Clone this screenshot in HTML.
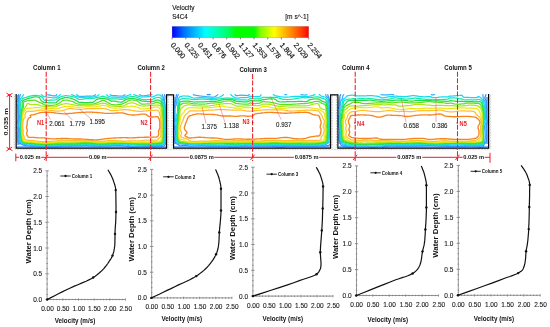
<!DOCTYPE html>
<html lang="en"><head><meta charset="utf-8"><title>Velocity S4C4</title>
<style>html,body{margin:0;padding:0;background:#fff}body{width:550px;height:327px;overflow:hidden}svg{display:block}text{font-family:"Liberation Sans",Arial,sans-serif}</style></head><body>
<svg width="550" height="327" viewBox="0 0 550 327">
<rect width="550" height="327" fill="#fff"/>
<defs><linearGradient id="cb" x1="0" x2="1" y1="0" y2="0">
<stop offset="0" stop-color="#0000ff"/>
<stop offset="0.085" stop-color="#0070ff"/>
<stop offset="0.165" stop-color="#00b8ff"/>
<stop offset="0.245" stop-color="#00ffff"/>
<stop offset="0.335" stop-color="#00ffb0"/>
<stop offset="0.415" stop-color="#00ff60"/>
<stop offset="0.465" stop-color="#00ff00"/>
<stop offset="0.6" stop-color="#00ff00"/>
<stop offset="0.647" stop-color="#80ff00"/>
<stop offset="0.747" stop-color="#ffff00"/>
<stop offset="0.847" stop-color="#ffa000"/>
<stop offset="0.947" stop-color="#ff4000"/>
<stop offset="1" stop-color="#ff0000"/>
</linearGradient>
<pattern id="hat" width="2" height="2" patternUnits="userSpaceOnUse" patternTransform="rotate(45)"><rect width="2" height="2" fill="#fff"/><rect width="0.6" height="2" fill="#aaa"/></pattern>
</defs>
<rect x="172.1" y="26.4" width="136.6" height="11.3" fill="url(#cb)" stroke="#444" stroke-opacity="0.45" stroke-width="0.4"/>
<text transform="translate(172.2,10.1) scale(0.93,1)" font-size="7" fill="#111" stroke="#111" stroke-width="0.12">Velocity</text>
<text transform="translate(172.2,18.5) scale(0.9,1)" font-size="6.9" fill="#111" stroke="#111" stroke-width="0.12">S4C4</text>
<text x="308.5" y="19" font-size="6.6" fill="#111" stroke="#111" stroke-width="0.1" text-anchor="end">[m s^-1]</text>
<line x1="172.1" y1="37.7" x2="172.1" y2="39.3" stroke="#222" stroke-width="0.6"/>
<text transform="translate(170.3,45.2) rotate(50)" font-size="7.3" fill="#111" stroke="#111" stroke-width="0.15">0.000</text>
<line x1="185.8" y1="37.7" x2="185.8" y2="39.3" stroke="#222" stroke-width="0.6"/>
<text transform="translate(184.0,45.2) rotate(50)" font-size="7.3" fill="#111" stroke="#111" stroke-width="0.15">0.225</text>
<line x1="199.4" y1="37.7" x2="199.4" y2="39.3" stroke="#222" stroke-width="0.6"/>
<text transform="translate(197.6,45.2) rotate(50)" font-size="7.3" fill="#111" stroke="#111" stroke-width="0.15">0.451</text>
<line x1="213.1" y1="37.7" x2="213.1" y2="39.3" stroke="#222" stroke-width="0.6"/>
<text transform="translate(211.3,45.2) rotate(50)" font-size="7.3" fill="#111" stroke="#111" stroke-width="0.15">0.676</text>
<line x1="226.7" y1="37.7" x2="226.7" y2="39.3" stroke="#222" stroke-width="0.6"/>
<text transform="translate(224.9,45.2) rotate(50)" font-size="7.3" fill="#111" stroke="#111" stroke-width="0.15">0.902</text>
<line x1="240.4" y1="37.7" x2="240.4" y2="39.3" stroke="#222" stroke-width="0.6"/>
<text transform="translate(238.6,45.2) rotate(50)" font-size="7.3" fill="#111" stroke="#111" stroke-width="0.15">1.127</text>
<line x1="254.1" y1="37.7" x2="254.1" y2="39.3" stroke="#222" stroke-width="0.6"/>
<text transform="translate(252.3,45.2) rotate(50)" font-size="7.3" fill="#111" stroke="#111" stroke-width="0.15">1.353</text>
<line x1="267.7" y1="37.7" x2="267.7" y2="39.3" stroke="#222" stroke-width="0.6"/>
<text transform="translate(265.9,45.2) rotate(50)" font-size="7.3" fill="#111" stroke="#111" stroke-width="0.15">1.578</text>
<line x1="281.4" y1="37.7" x2="281.4" y2="39.3" stroke="#222" stroke-width="0.6"/>
<text transform="translate(279.6,45.2) rotate(50)" font-size="7.3" fill="#111" stroke="#111" stroke-width="0.15">1.804</text>
<line x1="295.0" y1="37.7" x2="295.0" y2="39.3" stroke="#222" stroke-width="0.6"/>
<text transform="translate(293.2,45.2) rotate(50)" font-size="7.3" fill="#111" stroke="#111" stroke-width="0.15">2.029</text>
<line x1="308.7" y1="37.7" x2="308.7" y2="39.3" stroke="#222" stroke-width="0.6"/>
<text transform="translate(306.9,45.2) rotate(50)" font-size="7.3" fill="#111" stroke="#111" stroke-width="0.15">2.254</text>
<g>
<rect x="13.6" y="94" width="2.2" height="55" fill="url(#hat)"/>
<rect x="15" y="148.6" width="474.5" height="1.6" fill="url(#hat)"/>
<rect x="489.2" y="94" width="2" height="55" fill="url(#hat)"/>
<g fill="#52acff" opacity="0.9">
<rect x="17.1" y="95" width="2.6" height="50"/>
<rect x="174.2" y="97" width="1.3" height="47"/>
<rect x="338.6" y="97" width="1.3" height="47"/>
<rect x="485.6" y="97" width="2.4" height="47"/>
</g>
<g fill="#3f9cff" opacity="0.7">
<rect x="17" y="145.9" width="149.2" height="1.6"/>
<rect x="174" y="145.9" width="156.2" height="1.6"/>
<rect x="338.4" y="145.9" width="149.6" height="1.6"/>
</g>
<g fill="none" stroke-linejoin="round" stroke-linecap="round">
<path d="M164.5,94.6 164.8,95.6 164.9,96.1 165.1,97.1 165.0,98.1 164.9,98.6 164.7,99.6 164.7,100.6 164.7,101.6 164.9,102.6 164.9,103.1 165.0,104.1 165.1,105.1 165.2,106.1 165.3,107.1 165.3,108.1 165.3,109.1 165.3,110.1 165.3,111.1 165.3,112.1 165.3,113.1 165.3,114.1 165.3,115.1 165.3,116.1 165.4,117.1 165.4,118.1 165.4,119.1 165.3,120.1 165.3,121.1 165.2,122.1 165.2,123.1 165.2,124.1 165.2,125.1 165.2,126.1 165.3,127.1 165.3,128.1 165.2,129.1 165.2,130.1 165.1,131.1 165.2,132.1 165.3,133.1 165.4,134.1 165.4,134.6 165.5,135.6 165.5,136.6 165.5,137.6 165.6,138.6 165.6,139.6 165.6,140.6 165.6,141.6 165.6,142.6 165.5,143.6 165.4,144.1 164.9,145.1 164.4,145.5 163.9,145.8 163.1,146.1 162.4,146.3 161.4,146.4 160.4,146.4 159.4,146.4 158.4,146.4 157.4,146.4 156.4,146.5 155.4,146.5 154.4,146.5 153.4,146.5 152.4,146.5 151.4,146.5 150.4,146.5 149.4,146.6 148.6,146.6 147.9,146.7 146.9,146.7 145.9,146.7 144.9,146.7 143.9,146.6 143.4,146.6 142.4,146.6 141.4,146.6 140.4,146.6 139.9,146.6 138.9,146.7 137.9,146.8 136.9,146.8 135.9,146.9 134.9,146.9 133.9,146.9 132.9,147.0 131.9,147.0 130.9,146.9 129.9,146.8 128.9,146.7 128.1,146.6 127.4,146.5 126.4,146.3 125.4,146.2 124.8,146.1 123.9,146.0 122.9,145.8 121.9,145.8 120.9,145.7 119.9,145.7 118.9,145.6 117.9,145.6 116.9,145.6 115.9,145.6 114.9,145.6 113.9,145.7 112.9,145.7 111.9,145.8 110.9,145.8 109.9,145.9 108.9,146.0 107.9,146.0 106.9,146.1 105.9,146.1 105.4,146.1 104.4,146.2 103.4,146.2 102.4,146.2 101.4,146.2 100.4,146.3 99.4,146.3 98.4,146.2 97.4,146.2 96.4,146.2 95.4,146.2 94.4,146.1 93.9,146.1 92.9,146.1 91.9,146.0 90.9,145.9 89.9,145.9 88.9,145.8 87.9,145.7 86.9,145.7 85.9,145.7 84.9,145.7 83.9,145.7 82.9,145.7 81.9,145.8 80.9,145.8 79.9,145.8 78.9,145.9 77.9,145.9 76.9,145.9 75.9,145.9 74.9,145.9 73.9,145.9 72.9,145.9 71.9,146.0 70.9,146.0 69.9,146.0 68.9,146.0 67.9,146.0 66.9,146.0 65.9,146.1 64.9,146.1 64.3,146.1 63.4,146.1 62.4,146.2 61.4,146.3 60.4,146.3 59.4,146.4 58.4,146.5 57.4,146.5 56.4,146.5 55.4,146.5 54.4,146.6 53.4,146.5 52.4,146.5 51.4,146.5 50.4,146.5 49.4,146.5 48.4,146.5 47.4,146.5 46.4,146.5 45.4,146.5 44.4,146.5 43.4,146.5 42.4,146.5 41.4,146.5 40.4,146.5 39.4,146.5 38.4,146.5 37.4,146.5 36.4,146.4 35.4,146.4 34.4,146.4 33.4,146.3 32.4,146.3 31.4,146.2 30.4,146.1 29.9,146.1 28.9,146.0 27.9,145.9 26.9,145.8 25.9,145.7 25.4,145.6 24.4,145.4 23.4,145.1 22.9,144.9 22.4,144.6 21.4,144.1 20.9,143.9 20.3,143.6 19.4,143.3 18.9,143.1 18.4,142.6 17.9,141.6 17.8,141.1 17.7,140.1 17.6,139.1 17.6,138.1 17.7,137.1 17.9,136.1 17.9,135.1 17.8,134.1 17.8,133.1 17.9,132.4 18.1,131.6 18.2,130.6 18.1,129.6 17.9,128.9 17.5,128.1 17.3,127.6 16.9,127.1M16.9,101.9 17.2,101.1 17.5,100.6 17.8,99.6 17.9,99.1 18.1,98.1 18.2,97.1 18.3,96.1 18.4,95.6 18.6,94.6M16.9,123.5 17.4,122.6 17.6,122.1 17.8,121.1 18.0,120.6 18.1,119.6 18.2,118.6 18.3,117.6 18.4,116.6 18.3,115.6 18.2,114.6 18.0,113.6 17.9,112.6 17.9,111.6 18.0,110.6 18.0,109.6 17.9,108.9 17.8,108.1 17.7,107.1 17.5,106.1 17.3,105.6 17.0,104.6 16.9,104.0" stroke="#3f8cff" stroke-width="1.25"/>
<path d="M47.7,94.6 48.4,94.8 49.4,95.1 49.9,95.2 50.9,95.4 51.9,95.6 52.4,95.7 53.4,95.8 54.4,95.8 55.4,95.8 55.9,95.6 56.4,95.0 56.7,94.6M76.6,94.6 77.1,95.1 77.7,95.6 78.4,96.0 78.9,96.2 79.9,96.3 80.9,96.3 81.9,96.3 82.9,96.3 83.9,96.3 84.9,96.3 85.9,96.2 86.9,96.2 87.9,96.2 88.9,96.1 89.9,96.1 90.4,96.1 91.4,96.1 92.4,96.0 93.4,95.9 94.0,95.6 94.9,95.1 95.4,94.7 95.5,94.6M110.2,94.6 110.6,95.1 111.4,95.4 112.4,95.5 113.4,95.5 114.4,95.6 114.9,95.6 115.9,95.7 116.9,95.8 117.9,95.9 118.9,96.0 119.7,96.1 120.4,96.2 121.4,96.2 122.4,96.2 122.9,95.9 123.5,95.6 124.4,95.1 124.9,94.7 125.0,94.6M139.5,94.6 140.2,95.1 140.9,95.4 141.4,95.7 142.4,95.8 143.4,95.8 144.4,95.7 145.2,95.6 145.9,95.5 146.9,95.4 147.9,95.2 148.7,95.1 149.4,95.0 150.4,94.8 151.4,94.7 152.0,94.6M162.2,94.6 162.4,95.1 162.8,96.1 163.1,96.6 163.4,97.6 163.4,98.1 163.5,99.1 163.6,100.1 163.9,101.1 164.0,101.6 164.2,102.6 164.4,103.5 164.5,104.1 164.6,105.1 164.8,106.1 164.8,107.1 164.9,108.1 164.9,109.1 164.9,110.1 164.9,111.1 164.9,112.1 164.8,113.1 164.9,114.1 164.9,115.1 164.9,115.8 164.9,116.6 165.0,117.6 165.0,118.6 164.9,119.6 164.9,120.5 164.9,121.1 164.8,122.1 164.8,123.1 164.8,124.1 164.8,125.1 164.8,126.1 164.8,127.1 164.8,128.1 164.8,129.1 164.7,130.1 164.7,131.1 164.7,132.1 164.9,133.1 164.9,133.6 164.9,134.6 164.9,135.6 164.9,136.6 164.9,137.6 164.9,138.6 164.9,139.6 164.9,140.6 164.9,141.5 164.8,142.1 164.5,143.1 164.3,143.6 163.9,144.1 163.4,144.6 162.6,145.1 161.9,145.3 160.9,145.4 159.9,145.5 158.9,145.5 157.9,145.5 156.9,145.5 155.9,145.6 154.9,145.6 153.9,145.6 152.9,145.6 152.3,145.6 151.4,145.6 150.4,145.6 149.4,145.6 148.4,145.7 147.4,145.7 146.4,145.7 145.4,145.7 144.4,145.7 143.4,145.7 142.4,145.8 141.4,145.8 140.4,145.8 139.4,145.8 138.4,145.9 137.4,145.9 136.4,145.9 135.4,146.0 134.4,146.0 133.4,146.0 132.4,146.0 131.4,145.9 130.4,145.8 129.4,145.7 128.9,145.6 127.9,145.4 126.9,145.2 126.4,145.1 125.4,145.0 124.4,144.9 123.4,144.9 122.4,144.8 121.4,144.8 120.4,144.9 119.4,144.9 118.4,144.9 117.4,145.0 116.4,145.0 115.4,145.0 114.4,145.1 113.5,145.1 112.9,145.1 111.9,145.2 110.9,145.3 109.9,145.3 108.9,145.4 107.9,145.4 106.9,145.5 105.9,145.5 104.9,145.6 104.3,145.6 103.4,145.6 102.4,145.6 101.4,145.6 100.4,145.6 99.4,145.6 98.4,145.6 97.4,145.6 96.9,145.6 95.9,145.5 94.9,145.5 93.9,145.4 92.9,145.3 91.9,145.3 90.9,145.2 89.9,145.1 89.2,145.1 88.4,145.1 87.4,145.0 86.4,145.0 85.4,145.0 84.4,145.1 83.7,145.1 82.9,145.1 81.9,145.2 80.9,145.2 79.9,145.3 78.9,145.3 77.9,145.3 76.9,145.4 75.9,145.4 74.9,145.4 73.9,145.4 72.9,145.4 71.9,145.4 70.9,145.4 69.9,145.4 68.9,145.5 67.9,145.5 66.9,145.5 65.9,145.5 64.9,145.6 63.9,145.6 63.4,145.6 62.4,145.6 61.4,145.7 60.4,145.7 59.4,145.8 58.4,145.8 57.4,145.9 56.4,145.9 55.4,145.9 54.4,146.0 53.4,146.0 52.4,146.0 51.4,145.9 50.4,145.9 49.4,145.9 48.4,145.9 47.4,145.9 46.4,146.0 45.4,146.0 44.4,146.0 43.4,146.0 42.4,146.0 41.4,146.0 40.4,146.0 39.4,146.0 38.4,145.9 37.4,145.9 36.4,145.9 35.4,145.8 34.4,145.7 33.4,145.7 32.8,145.6 31.9,145.5 30.9,145.4 29.9,145.2 29.0,145.1 28.4,145.0 27.4,144.9 26.4,144.7 25.9,144.6 24.9,144.4 23.9,144.2 23.4,144.0 22.6,143.6 21.9,143.3 21.4,143.0 20.8,142.6 20.2,142.1 19.6,141.6 19.3,141.1 19.1,140.1 19.1,139.1 19.2,138.1 19.4,137.4 19.6,136.6 19.7,135.6 19.6,134.6 19.6,133.6 19.6,132.6 19.7,131.6 19.7,130.6 19.7,129.6 19.5,128.6 19.3,128.1 18.9,127.4 18.4,126.6 18.1,126.1 17.9,125.1 18.1,124.1 18.4,123.1 18.5,122.6 18.8,121.6 18.9,121.1 19.1,120.1 19.2,119.1 19.3,118.1 19.4,117.1 19.4,116.1 19.2,115.1 19.0,114.1 18.9,113.3 18.8,112.6 18.9,111.6 19.0,111.1 19.1,110.1 19.1,109.1 19.1,108.1 19.0,107.1 18.9,106.6 18.7,105.6 18.5,104.6 18.4,103.9 18.4,103.1 18.4,102.5 18.6,101.6 18.9,100.6 19.0,100.1 19.2,99.1 19.4,98.2 19.6,97.6 19.8,96.6 19.9,96.1 20.3,95.1 20.5,94.6" stroke="#35b0ff" stroke-width="1.25"/>
<path d="M41.2,94.6 41.7,95.1 42.4,95.6 42.9,95.9 43.4,96.2 44.2,96.6 44.9,96.8 45.9,96.9 46.9,97.1 47.4,97.2 48.4,97.3 49.4,97.4 50.4,97.5 51.1,97.6 51.9,97.7 52.9,97.8 53.9,97.8 54.9,97.8 55.9,97.6 56.4,97.4 56.9,97.1 57.8,96.6 58.4,96.2 58.9,95.9 59.4,95.5 59.9,95.1 60.4,94.6M71.6,94.6 72.4,95.0 72.9,95.2 73.9,95.6 74.4,95.7 75.3,96.1 75.9,96.3 76.9,96.6 77.4,96.8 78.4,97.1 78.9,97.2 79.9,97.3 80.9,97.4 81.9,97.3 82.9,97.3 83.9,97.3 84.9,97.2 85.9,97.2 86.9,97.1 87.4,97.1 88.4,97.1 89.4,97.0 90.4,97.0 91.4,97.0 92.4,97.1 93.4,97.0 94.4,96.8 95.3,96.6 95.9,96.4 96.8,96.1 97.4,95.8 97.9,95.5 98.5,95.1 99.0,94.6M106.8,94.6 107.1,95.1 107.6,95.6 108.2,96.1 108.9,96.4 109.4,96.6 110.4,96.9 111.4,97.0 112.4,97.0 113.4,97.0 114.4,97.1 115.0,97.1 115.9,97.2 116.9,97.3 117.9,97.5 118.9,97.6 119.4,97.7 120.4,97.8 121.4,97.8 122.4,97.8 122.9,97.6 123.9,97.2 124.4,96.9 125.2,96.6 125.9,96.3 126.4,96.1 127.4,95.7 127.9,95.5 128.9,95.2 129.4,95.0 130.4,94.7 130.8,94.6M133.7,94.6 134.4,94.8 135.3,95.1 135.9,95.3 136.8,95.6 137.4,95.8 138.3,96.1 138.9,96.3 139.8,96.6 140.4,96.8 141.4,97.0 141.9,97.1 142.4,97.1 143.4,97.0 144.4,96.9 145.4,96.9 146.4,96.8 147.4,96.7 148.4,96.7 149.4,96.7 150.4,96.8 151.4,96.8 152.4,96.8 153.1,96.6 153.9,96.3 154.6,96.1 155.4,95.7 155.9,95.5 156.9,95.1 157.4,94.9 158.4,94.8 159.4,95.0 159.9,95.1 160.7,95.6 161.3,96.1 161.6,96.6 161.9,97.1 162.2,98.1 162.4,99.1 162.5,99.6 162.7,100.6 162.9,101.4 163.2,102.1 163.4,102.8 163.6,103.6 163.9,104.4 164.1,105.1 164.3,106.1 164.4,107.1 164.4,108.1 164.4,108.6 164.4,109.6 164.4,110.6 164.4,111.6 164.4,112.6 164.4,113.1 164.4,114.0 164.4,114.6 164.4,115.6 164.5,116.6 164.5,117.6 164.5,118.6 164.5,119.6 164.4,120.6 164.4,121.1 164.3,122.1 164.3,123.1 164.2,124.1 164.3,125.1 164.3,126.1 164.3,127.1 164.3,128.1 164.2,129.1 164.1,130.1 164.1,131.1 164.2,132.1 164.3,133.1 164.4,134.1 164.3,135.1 164.3,136.1 164.2,137.1 164.2,138.1 164.2,139.1 164.2,140.1 164.2,141.1 164.0,142.1 163.8,142.6 163.4,143.4 162.9,143.9 162.4,144.2 161.4,144.5 160.5,144.6 159.9,144.6 158.9,144.6 157.9,144.7 156.9,144.7 155.9,144.8 154.9,144.8 153.9,144.8 152.9,144.8 151.9,144.8 150.9,144.9 149.9,144.9 148.9,144.9 147.9,145.0 146.9,145.0 145.9,145.0 144.9,145.0 143.9,145.0 142.9,145.0 141.9,145.1 140.9,145.1 139.9,145.1 138.9,145.1 137.9,145.1 136.9,145.1 135.9,145.1 134.9,145.0 133.9,145.0 132.9,144.9 131.9,144.8 130.9,144.7 130.4,144.6 129.4,144.5 128.4,144.4 127.4,144.3 126.4,144.2 125.4,144.1 124.6,144.1 123.9,144.1 122.9,144.1 122.2,144.1 121.4,144.1 120.4,144.2 119.4,144.2 118.4,144.3 117.4,144.3 116.4,144.4 115.4,144.4 114.4,144.5 113.4,144.5 112.4,144.6 111.9,144.6 110.9,144.7 109.9,144.8 108.9,144.8 107.9,144.9 106.9,144.9 105.9,145.0 104.9,145.0 103.9,145.1 102.9,145.1 101.9,145.1 100.9,145.1 99.9,145.1 98.9,145.0 97.9,145.0 96.9,145.0 95.9,144.9 94.9,144.8 93.9,144.7 92.9,144.7 92.2,144.6 91.4,144.5 90.4,144.5 89.4,144.4 88.4,144.4 87.4,144.4 86.4,144.4 85.4,144.4 84.4,144.5 83.4,144.5 82.4,144.6 81.9,144.6 80.9,144.7 79.9,144.7 78.9,144.8 77.9,144.8 76.9,144.9 75.9,144.9 74.9,144.9 73.9,144.9 72.9,144.9 71.9,144.9 70.9,144.9 69.9,144.9 68.9,144.9 67.9,145.0 66.9,145.0 65.9,145.0 64.9,145.0 63.9,145.0 62.9,145.1 62.3,145.1 61.4,145.1 60.4,145.2 59.4,145.2 58.4,145.3 57.4,145.3 56.4,145.3 55.4,145.4 54.4,145.4 53.4,145.4 52.4,145.4 51.4,145.4 50.4,145.4 49.4,145.4 48.4,145.4 47.4,145.4 46.4,145.4 45.4,145.5 44.4,145.5 43.4,145.5 42.4,145.5 41.4,145.5 40.4,145.5 39.4,145.4 38.4,145.4 37.4,145.3 36.4,145.3 35.4,145.2 34.7,145.1 33.9,145.0 32.9,144.8 31.9,144.6 31.4,144.5 30.4,144.3 29.4,144.2 28.9,144.1 27.9,144.0 26.9,143.9 25.9,143.8 24.9,143.7 24.4,143.6 23.4,143.4 22.9,143.1 22.0,142.6 21.4,142.1 21.0,141.6 20.7,141.1 20.5,140.1 20.5,139.1 20.4,138.1 20.5,137.1 20.5,136.1 20.5,135.1 20.4,134.1 20.4,133.1 20.4,132.1 20.5,131.1 20.5,130.1 20.5,129.1 20.4,128.1 20.3,127.6 20.1,126.6 19.9,125.6 19.9,125.1 19.9,124.6 20.1,123.6 20.3,122.6 20.4,122.1 20.5,121.1 20.6,120.1 20.6,119.1 20.6,118.1 20.6,117.1 20.5,116.1 20.4,115.1 20.3,114.6 20.1,113.6 20.0,112.6 20.0,111.6 20.1,110.6 20.1,109.6 20.1,108.6 20.0,107.6 19.9,106.8 19.8,106.1 19.6,105.1 19.4,104.1 19.4,103.6 19.3,102.6 19.4,102.0 19.6,101.1 19.9,100.3 20.2,99.6 20.4,99.0 20.9,98.4 21.4,98.0 21.9,97.5 22.3,96.6 22.6,96.1 22.9,95.5 23.4,94.9 23.7,94.6" stroke="#14dcf0" stroke-width="1.25"/>
<path d="M32.9,95.6 33.9,95.4 34.9,95.3 35.9,95.3 36.9,95.4 37.9,95.5 38.4,95.7 39.4,95.9 40.0,96.1 40.9,96.5 41.4,96.7 42.1,97.1 42.7,97.6 43.0,98.1 43.3,99.1 43.7,99.6 44.2,100.1 44.9,100.3 45.9,100.3 46.9,100.3 47.9,100.3 48.9,100.3 49.9,100.2 50.9,100.2 51.9,100.1 52.4,100.1 53.4,100.0 54.4,100.0 55.4,99.9 56.1,99.6 56.9,99.1 57.4,98.8 57.9,98.5 58.4,98.1 59.2,97.6 59.9,97.3 60.4,97.0 61.4,96.6 61.9,96.5 62.9,96.2 63.4,96.1 64.4,95.9 65.4,95.7 66.4,95.7 67.4,95.8 68.4,95.9 69.4,96.0 69.9,96.1 70.9,96.3 71.9,96.4 72.7,96.6 73.4,96.8 74.4,97.0 74.9,97.2 75.8,97.6 76.4,98.0 76.9,98.3 77.4,98.6 78.3,99.1 78.9,99.4 79.9,99.5 80.9,99.4 81.9,99.4 82.9,99.2 83.4,99.1 84.4,98.9 85.4,98.7 86.0,98.6 86.9,98.5 87.9,98.3 88.9,98.3 89.9,98.2 90.9,98.3 91.9,98.3 92.9,98.4 93.9,98.2 94.4,98.1 95.4,97.9 96.4,97.7 96.9,97.6 97.9,97.4 98.9,97.2 99.5,97.1 100.4,96.8 101.2,96.6 101.9,96.3 102.9,96.1 103.9,96.5 104.4,96.6 105.4,97.0 105.9,97.1 106.9,97.4 107.5,97.6 108.4,97.9 108.9,98.1 109.9,98.5 110.4,98.7 111.4,98.8 112.4,98.8 113.4,98.8 114.4,98.8 115.4,98.9 116.4,98.9 117.4,99.0 118.2,99.1 118.9,99.2 119.9,99.3 120.9,99.3 121.9,99.4 122.9,99.2 123.4,99.0 124.3,98.6 124.9,98.4 125.5,98.1 126.4,97.7 126.9,97.5 127.9,97.2 128.4,97.1 129.4,96.8 130.4,96.7 130.9,96.6 131.9,96.5 132.9,96.5 133.8,96.6 134.4,96.7 135.4,97.0 135.9,97.1 136.9,97.4 137.4,97.6 138.4,98.0 138.9,98.2 139.8,98.6 140.4,98.8 141.0,99.1 141.9,99.4 142.9,99.5 143.9,99.5 144.9,99.6 145.8,99.6 146.4,99.6 147.4,99.7 148.4,99.7 149.4,99.7 150.4,99.7 151.4,99.7 152.2,99.6 152.9,99.2 153.4,98.9 154.1,98.6 154.9,98.2 155.4,98.0 156.4,97.7 156.9,97.6 157.9,97.4 158.9,97.5 159.6,97.6 160.4,98.0 160.9,98.6 161.2,99.1 161.4,99.6 161.8,100.6 161.9,101.1 162.2,102.1 162.4,102.6 162.7,103.6 162.9,104.2 163.3,105.1 163.4,105.6 163.7,106.6 163.8,107.6 163.8,108.6 163.8,109.6 163.9,110.6 163.9,111.6 163.8,112.6 163.8,113.6 163.8,114.6 163.9,115.6 163.9,116.1 164.0,117.1 164.0,118.1 164.0,119.1 163.9,120.1 163.9,120.6 163.8,121.6 163.7,122.6 163.7,123.6 163.7,124.6 163.7,125.6 163.7,126.6 163.7,127.6 163.7,128.6 163.6,129.6 163.5,130.6 163.5,131.6 163.6,132.6 163.7,133.6 163.7,134.6 163.6,135.6 163.6,136.6 163.6,137.6 163.5,138.6 163.5,139.6 163.5,140.6 163.4,141.6 163.2,142.1 162.9,142.8 162.4,143.3 161.9,143.7 160.9,143.9 159.9,143.9 158.9,144.0 157.9,144.1 157.2,144.1 156.4,144.1 155.4,144.1 154.4,144.2 153.4,144.2 152.4,144.2 151.4,144.2 150.4,144.3 149.4,144.3 148.4,144.3 147.4,144.4 146.4,144.4 145.4,144.4 144.4,144.4 143.4,144.4 142.4,144.4 141.4,144.4 140.4,144.4 139.4,144.4 138.4,144.4 137.4,144.3 136.4,144.3 135.4,144.3 134.4,144.2 133.4,144.2 132.7,144.1 131.9,144.0 130.9,144.0 129.9,143.9 128.9,143.8 127.9,143.8 126.9,143.7 125.9,143.7 124.9,143.6 123.9,143.6 123.4,143.6 122.7,143.6 121.9,143.6 120.9,143.6 119.9,143.7 118.9,143.7 117.9,143.8 116.9,143.8 115.9,143.8 114.9,143.9 113.9,143.9 112.9,144.0 111.9,144.1 111.4,144.1 110.4,144.2 109.4,144.2 108.4,144.3 107.4,144.4 106.4,144.4 105.4,144.5 104.4,144.5 103.4,144.5 102.4,144.5 101.4,144.5 100.4,144.5 99.4,144.5 98.4,144.5 97.4,144.4 96.4,144.3 95.4,144.3 94.4,144.2 93.5,144.1 92.9,144.0 91.9,144.0 90.9,143.9 89.9,143.8 88.9,143.8 87.9,143.8 86.9,143.8 85.9,143.8 84.9,143.8 83.9,143.9 82.9,144.0 81.9,144.0 81.2,144.1 80.4,144.2 79.4,144.2 78.4,144.3 77.4,144.3 76.4,144.3 75.4,144.4 74.4,144.4 73.4,144.4 72.4,144.4 71.4,144.4 70.4,144.4 69.4,144.4 68.4,144.4 67.4,144.4 66.4,144.4 65.4,144.5 64.4,144.5 63.4,144.5 62.4,144.5 61.4,144.6 60.5,144.6 59.9,144.6 58.9,144.7 57.9,144.7 56.9,144.7 55.9,144.8 54.9,144.8 53.9,144.8 52.9,144.8 51.9,144.9 50.9,144.9 49.9,144.9 48.9,144.9 47.9,144.9 46.9,144.9 45.9,144.9 44.9,144.9 43.9,145.0 42.9,145.0 41.9,145.0 40.9,144.9 39.9,144.9 38.9,144.9 37.9,144.8 36.9,144.7 36.2,144.6 35.4,144.5 34.4,144.3 33.4,144.1 32.9,144.0 31.9,143.8 30.9,143.7 30.2,143.6 29.4,143.5 28.4,143.5 27.4,143.4 26.4,143.3 25.4,143.2 24.4,143.1 23.9,143.0 22.9,142.6 22.4,142.2 21.9,141.8 21.5,141.1 21.3,140.6 21.1,139.6 21.0,138.6 21.0,137.6 21.0,136.6 21.0,135.6 20.9,134.6 20.9,134.1 20.9,133.1 20.9,132.1 20.9,131.6 20.9,130.6 21.0,129.6 20.9,128.6 20.9,127.7 20.9,127.1 20.8,126.1 20.8,125.1 20.9,124.1 20.9,123.6 21.0,122.6 21.1,121.6 21.1,120.6 21.2,119.6 21.2,118.6 21.2,117.6 21.2,116.6 21.1,115.6 21.0,114.6 20.9,113.8 20.8,113.1 20.7,112.1 20.8,111.1 20.9,110.1 20.9,109.6 21.0,108.6 20.9,107.6 20.9,107.1 20.7,106.1 20.5,105.1 20.4,104.6 20.2,103.6 20.2,102.6 20.4,101.7 20.9,101.1 21.4,100.8 21.9,100.3 22.3,99.6 22.5,99.1 22.9,98.5 23.5,98.1 24.4,97.8 25.4,97.6 25.9,97.5 26.9,97.1 27.4,96.8 28.3,96.6 28.9,96.4 29.9,96.2 30.5,96.1 31.4,95.9 32.4,95.7Z" stroke="#18e8a8" stroke-width="1.25"/>
<path d="M33.3,97.1 33.9,97.0 34.9,96.8 35.9,96.8 36.9,96.8 37.9,97.0 38.4,97.1 39.4,97.6 39.8,98.1 40.0,98.6 40.4,99.5 40.8,100.1 41.2,100.6 41.7,101.1 42.4,101.6 42.9,101.9 43.4,102.2 44.4,102.6 44.9,102.6 45.9,102.6 46.9,102.7 47.9,102.7 48.9,102.8 49.9,102.8 50.9,102.8 51.9,102.8 52.9,102.8 53.9,102.8 54.9,102.8 55.9,102.7 56.4,102.3 56.9,101.7 57.4,101.2 57.9,100.7 58.4,100.3 58.9,99.9 59.4,99.6 60.4,99.1 60.9,98.8 61.5,98.6 62.4,98.3 62.9,98.1 63.9,97.9 64.9,97.7 65.9,97.6 66.6,97.6 66.9,97.6 67.9,97.7 68.9,97.8 69.9,98.0 70.4,98.1 71.4,98.4 71.9,98.6 72.9,99.0 73.4,99.2 74.3,99.6 74.9,99.9 75.4,100.1 76.2,100.6 76.9,101.0 77.4,101.3 77.9,101.6 78.7,102.1 79.4,102.3 80.4,102.3 81.4,102.4 82.4,102.4 83.4,102.4 84.4,102.5 85.4,102.5 86.4,102.5 87.4,102.5 88.4,102.5 89.4,102.4 90.4,102.4 91.4,102.4 92.4,102.4 93.4,102.2 93.9,101.8 94.4,101.4 94.9,100.9 95.4,100.4 95.9,100.0 96.4,99.6 97.4,99.2 97.9,99.1 98.9,98.9 99.9,98.7 100.4,98.6 101.4,98.5 102.4,98.3 103.4,98.4 104.4,98.5 104.9,98.6 105.9,98.8 106.9,99.1 107.4,99.2 108.4,99.6 108.9,99.8 109.5,100.1 110.2,100.6 110.9,101.1 111.4,101.1 111.9,101.1 112.9,101.0 113.9,101.0 114.9,101.1 115.4,101.2 116.4,101.4 117.1,101.6 117.9,101.8 118.9,101.9 119.9,102.0 120.9,102.1 121.4,102.1 121.9,102.1 122.9,101.6 123.4,101.2 123.9,100.8 124.4,100.4 124.9,100.1 125.8,99.6 126.4,99.4 127.3,99.1 127.9,98.9 128.9,98.7 129.5,98.6 130.4,98.5 131.4,98.4 132.4,98.5 133.4,98.6 133.9,98.6 134.9,98.8 135.9,99.0 136.4,99.1 137.4,99.4 138.2,99.6 138.9,99.8 139.8,100.1 140.4,100.3 141.0,100.6 141.9,101.0 142.4,101.1 143.4,101.2 144.4,101.3 145.4,101.4 146.4,101.4 147.4,101.5 148.4,101.5 149.4,101.6 149.9,101.6 150.9,101.7 151.9,101.7 152.6,101.6 153.4,101.3 154.1,101.1 154.9,100.8 155.4,100.6 156.4,100.2 156.9,100.1 157.9,100.0 158.4,100.1 159.4,100.4 159.9,100.7 160.5,101.1 160.9,101.6 161.4,102.4 161.7,103.1 161.9,103.8 162.1,104.6 162.4,105.3 162.7,106.1 162.9,107.1 162.9,107.6 163.0,108.6 163.0,109.6 163.1,110.6 163.1,111.6 163.1,112.6 163.1,113.6 163.2,114.6 163.2,115.6 163.3,116.6 163.4,117.6 163.4,118.1 163.4,119.1 163.4,119.6 163.3,120.6 163.2,121.6 163.2,122.6 163.2,123.6 163.2,124.6 163.2,125.6 163.2,126.6 163.2,127.6 163.2,128.6 163.1,129.6 163.0,130.6 163.0,131.6 163.1,132.6 163.1,133.6 163.1,134.6 163.1,135.6 163.0,136.6 163.0,137.6 163.0,138.6 163.0,139.6 163.0,140.6 162.9,141.1 162.5,142.1 162.2,142.6 161.5,143.1 160.9,143.2 159.9,143.3 158.9,143.4 157.9,143.5 156.9,143.5 155.9,143.6 154.9,143.6 154.4,143.6 153.4,143.6 152.4,143.7 151.4,143.7 150.4,143.7 149.4,143.8 148.4,143.8 147.4,143.8 146.4,143.8 145.4,143.8 144.4,143.8 143.4,143.8 142.4,143.8 141.4,143.8 140.4,143.8 139.4,143.8 138.4,143.8 137.4,143.8 136.4,143.7 135.4,143.7 134.4,143.7 133.4,143.6 132.8,143.6 131.9,143.6 130.9,143.5 129.9,143.4 128.9,143.4 127.9,143.3 126.9,143.3 125.9,143.2 124.9,143.2 123.9,143.2 122.9,143.2 121.9,143.2 120.9,143.2 119.9,143.2 118.9,143.2 117.9,143.2 116.9,143.2 115.9,143.3 114.9,143.3 113.9,143.3 112.9,143.4 111.9,143.4 110.9,143.5 109.9,143.6 109.3,143.6 108.4,143.7 107.4,143.7 106.4,143.8 105.4,143.9 104.4,143.9 103.4,143.9 102.4,143.9 101.4,143.9 100.4,143.9 99.4,143.9 98.4,143.9 97.4,143.8 96.4,143.8 95.4,143.7 94.5,143.6 93.9,143.5 92.9,143.5 91.9,143.4 90.9,143.3 89.9,143.2 88.9,143.2 87.9,143.2 86.9,143.2 85.9,143.2 84.9,143.2 83.9,143.3 82.9,143.3 81.9,143.4 80.9,143.5 79.9,143.6 79.4,143.6 78.4,143.7 77.4,143.7 76.4,143.7 75.4,143.8 74.4,143.8 73.4,143.8 72.4,143.8 71.4,143.8 70.4,143.8 69.4,143.8 68.4,143.8 67.4,143.8 66.4,143.8 65.4,143.8 64.4,143.8 63.4,143.8 62.4,143.9 61.4,143.9 60.4,143.9 59.4,144.0 58.4,144.0 57.4,144.1 56.9,144.1 55.9,144.1 54.9,144.2 53.9,144.2 52.9,144.2 51.9,144.3 50.9,144.3 49.9,144.3 48.9,144.3 47.9,144.4 46.9,144.4 45.9,144.4 44.9,144.4 43.9,144.4 42.9,144.4 41.9,144.4 40.9,144.4 39.9,144.3 38.9,144.2 37.9,144.1 37.4,144.1 36.4,143.9 35.4,143.8 34.4,143.6 33.9,143.5 32.9,143.4 31.9,143.3 30.9,143.1 30.4,143.1 29.4,143.0 28.4,143.0 27.4,142.9 26.4,142.8 25.4,142.7 24.4,142.6 23.9,142.5 23.0,142.1 22.5,141.6 22.1,141.1 21.9,140.6 21.6,139.6 21.5,138.6 21.4,137.6 21.4,137.1 21.4,136.1 21.3,135.1 21.3,134.1 21.2,133.1 21.2,132.1 21.3,131.1 21.3,130.1 21.3,129.1 21.3,128.1 21.2,127.1 21.2,126.1 21.2,125.1 21.3,124.1 21.3,123.1 21.4,122.5 21.5,121.6 21.5,120.6 21.5,119.6 21.6,118.6 21.6,117.6 21.6,116.6 21.6,115.6 21.5,114.6 21.4,113.6 21.4,112.9 21.4,112.1 21.4,111.6 21.6,110.6 21.8,109.6 21.9,109.1 22.1,108.1 22.3,107.1 22.3,106.1 22.2,105.1 22.1,104.1 22.0,103.1 22.2,102.1 22.4,101.6 22.9,100.9 23.4,100.4 23.9,100.1 24.9,99.7 25.5,99.6 26.4,99.2 26.9,98.9 27.4,98.6 28.4,98.4 29.4,98.2 29.9,98.1 30.9,97.8 31.5,97.6 32.4,97.3Z" stroke="#22dc4a" stroke-width="1.25"/>
<path d="M34.4,100.1 34.4,100.1 35.4,100.3 36.0,100.6 36.9,101.1 37.4,101.3 37.9,101.6 38.9,102.1 39.4,102.3 40.1,102.6 40.9,102.9 41.4,103.1 42.4,103.6 42.9,103.9 43.4,104.2 43.9,104.6 44.9,105.0 45.9,105.1 46.4,105.1 47.4,105.2 48.4,105.3 49.4,105.3 50.4,105.3 51.4,105.3 52.4,105.3 53.4,105.2 54.2,105.1 54.9,105.0 55.9,104.8 56.5,104.6 57.4,104.1 57.9,103.9 58.5,103.6 59.4,103.1 59.9,102.8 60.4,102.4 60.9,101.9 61.4,101.5 61.9,101.0 62.7,100.6 63.4,100.4 64.4,100.1 64.9,100.0 65.9,100.0 66.6,100.1 67.4,100.2 68.4,100.5 68.9,100.6 69.9,100.9 70.9,101.1 71.4,101.2 72.4,101.5 72.9,101.7 73.9,102.1 74.4,102.4 74.9,102.7 75.6,103.1 76.4,103.5 76.9,103.7 77.9,104.0 78.4,104.2 79.4,104.2 80.4,104.2 81.4,104.1 82.4,104.1 82.9,104.1 83.9,104.1 84.9,104.1 85.9,104.1 86.9,104.1 87.9,104.1 88.9,104.1 89.9,104.1 90.9,104.1 91.9,104.1 92.9,104.1 93.9,103.9 94.9,103.6 95.4,103.5 96.4,103.1 96.9,102.9 97.6,102.6 98.4,102.2 98.9,102.0 99.9,101.6 100.4,101.3 100.9,101.1 101.8,100.6 102.4,100.3 103.4,100.3 104.3,100.6 104.9,100.9 105.4,101.1 106.2,101.6 106.9,102.0 107.4,102.3 107.9,102.6 108.8,103.1 109.4,103.4 109.9,103.7 110.6,104.1 111.4,104.4 112.4,104.6 112.9,104.6 113.9,104.7 114.9,104.8 115.9,104.8 116.9,104.8 117.9,104.7 118.9,104.6 119.4,104.5 120.4,104.4 121.4,104.2 121.9,104.1 122.9,103.7 123.4,103.4 124.0,103.1 124.9,102.7 125.4,102.5 126.1,102.1 126.9,101.7 127.4,101.3 127.9,101.0 128.7,100.6 129.4,100.3 130.3,100.1 130.9,100.0 131.9,99.9 132.9,100.0 133.9,100.0 134.4,100.1 135.4,100.3 136.4,100.6 136.9,100.8 137.7,101.1 138.4,101.6 138.9,102.1 139.4,102.6 139.9,103.1 140.4,103.5 140.9,103.8 141.6,104.1 142.4,104.2 143.4,104.2 144.4,104.1 144.9,104.1 145.9,104.0 146.9,103.9 147.9,103.8 148.9,103.8 149.9,103.8 150.9,103.9 151.9,103.9 152.9,103.6 153.4,103.4 154.1,103.1 154.9,102.8 155.6,102.6 156.4,102.4 157.4,102.3 158.4,102.6 158.9,102.8 159.7,103.1 160.4,103.6 160.8,104.1 161.1,104.6 161.4,105.1 161.8,106.1 161.9,106.6 162.0,107.6 162.1,108.6 162.1,109.6 162.2,110.6 162.3,111.6 162.3,112.6 162.3,113.6 162.4,114.6 162.4,115.1 162.6,116.1 162.7,117.1 162.8,118.1 162.8,119.1 162.8,120.1 162.7,121.1 162.7,122.1 162.7,123.1 162.6,124.1 162.7,125.1 162.7,126.1 162.7,127.1 162.7,128.1 162.7,129.1 162.6,130.1 162.5,131.1 162.6,132.1 162.6,133.1 162.7,134.1 162.6,135.1 162.6,136.1 162.5,137.1 162.5,138.1 162.5,139.1 162.4,140.1 162.4,140.7 162.1,141.6 161.7,142.1 160.9,142.5 160.4,142.6 159.4,142.7 158.4,142.8 157.4,142.9 156.4,143.0 155.4,143.0 154.4,143.0 153.4,143.1 152.6,143.1 151.9,143.1 150.9,143.2 149.9,143.2 148.9,143.2 147.9,143.2 146.9,143.2 145.9,143.3 144.9,143.3 143.9,143.3 142.9,143.3 141.9,143.3 140.9,143.3 139.9,143.3 138.9,143.3 137.9,143.2 136.9,143.2 135.9,143.2 134.9,143.2 133.9,143.2 132.9,143.1 131.9,143.1 131.4,143.1 130.4,143.0 129.4,143.0 128.4,142.9 127.4,142.9 126.4,142.8 125.4,142.8 124.4,142.7 123.4,142.7 122.4,142.7 121.4,142.7 120.4,142.7 119.4,142.7 118.4,142.7 117.4,142.7 116.4,142.7 115.4,142.7 114.4,142.7 113.4,142.7 112.4,142.8 111.4,142.8 110.4,142.9 109.4,142.9 108.4,143.0 107.4,143.0 106.6,143.1 105.9,143.1 104.9,143.2 103.9,143.3 102.9,143.3 101.9,143.3 100.9,143.3 99.9,143.3 98.9,143.3 97.9,143.2 96.9,143.2 96.0,143.1 95.4,143.1 94.4,143.0 93.4,142.9 92.4,142.8 91.4,142.7 90.5,142.6 89.9,142.6 88.9,142.5 87.9,142.5 86.9,142.4 85.9,142.4 84.9,142.4 83.9,142.5 82.9,142.5 81.9,142.6 81.4,142.6 80.4,142.7 79.4,142.8 78.4,142.8 77.4,142.9 76.4,142.9 75.4,142.9 74.4,143.0 73.4,143.0 72.4,143.0 71.4,143.0 70.4,143.0 69.4,143.0 68.4,143.0 67.4,143.0 66.4,143.0 65.4,143.0 64.4,143.0 63.4,143.0 62.4,143.1 61.5,143.1 60.9,143.1 59.9,143.2 58.9,143.2 57.9,143.3 56.9,143.4 55.9,143.4 54.9,143.5 53.9,143.5 52.9,143.6 52.2,143.6 51.4,143.6 50.4,143.7 49.4,143.7 48.4,143.7 47.4,143.7 46.4,143.8 45.4,143.8 44.4,143.8 43.4,143.8 42.4,143.8 41.4,143.7 40.4,143.7 39.4,143.6 38.9,143.6 37.9,143.5 36.9,143.4 35.9,143.2 34.9,143.1 34.4,143.0 33.4,142.9 32.4,142.8 31.4,142.7 30.4,142.6 29.9,142.6 28.9,142.5 27.9,142.5 26.9,142.4 25.9,142.3 24.9,142.2 24.1,142.1 23.4,141.8 22.9,141.4 22.5,140.6 22.3,140.1 22.0,139.1 21.9,138.5 21.8,137.6 21.8,136.6 21.7,135.6 21.6,134.6 21.6,133.6 21.6,132.6 21.6,131.6 21.6,130.6 21.6,129.6 21.6,128.6 21.6,127.6 21.5,126.6 21.5,125.6 21.6,124.6 21.6,123.6 21.7,122.6 21.8,121.6 21.8,120.6 21.9,119.6 21.9,119.1 22.0,118.1 22.0,117.1 22.0,116.1 22.0,115.1 21.9,114.1 21.9,113.1 22.0,112.1 22.2,111.1 22.4,110.6 22.8,109.6 23.0,109.1 23.3,108.1 23.4,107.6 23.5,106.6 23.5,105.6 23.4,104.9 23.4,104.1 23.3,103.1 23.4,102.6 23.9,101.9 24.4,101.6 25.4,101.4 26.4,101.1 26.9,100.9 27.9,100.7 28.9,100.6 29.4,100.6 30.4,100.5 31.4,100.4 32.4,100.3 33.4,100.2Z" stroke="#5ce01e" stroke-width="1.25"/>
<path d="M129.9,103.1 130.4,103.0 131.4,102.9 132.4,102.9 133.4,103.0 133.9,103.1 134.9,103.5 135.4,103.7 136.4,104.1 136.9,104.3 137.4,104.6 138.4,105.0 138.9,105.2 139.9,105.6 140.4,105.7 141.4,105.9 142.4,106.0 143.4,106.0 144.4,106.0 145.4,105.9 146.4,105.9 147.4,105.8 148.4,105.7 149.4,105.7 150.4,105.7 151.4,105.7 152.4,105.6 152.9,105.6 153.9,105.4 154.9,105.2 155.7,105.1 156.4,105.0 157.4,104.9 158.0,105.1 158.9,105.4 159.8,105.6 160.4,105.9 160.9,106.6 161.0,107.1 161.2,108.1 161.3,109.1 161.4,110.1 161.5,110.6 161.5,111.6 161.6,112.6 161.6,113.6 161.7,114.6 161.8,115.6 161.9,116.4 162.0,117.1 162.1,118.1 162.2,119.1 162.2,120.1 162.2,121.1 162.2,122.1 162.1,123.1 162.2,124.1 162.2,125.1 162.2,126.1 162.2,127.1 162.2,128.1 162.2,129.1 162.1,130.1 162.1,131.1 162.1,132.1 162.2,133.1 162.2,134.1 162.2,135.1 162.1,136.1 162.0,137.1 162.0,138.1 161.9,139.1 161.9,139.6 161.8,140.6 161.4,141.3 160.9,141.7 159.9,141.8 158.9,141.9 158.3,142.1 157.4,142.3 156.4,142.3 155.4,142.4 154.4,142.4 153.4,142.4 152.4,142.5 151.4,142.5 150.4,142.5 149.4,142.6 148.4,142.6 147.7,142.6 146.9,142.6 145.9,142.6 144.9,142.6 143.9,142.6 142.9,142.6 141.9,142.7 140.9,142.7 139.9,142.7 138.9,142.7 137.9,142.7 136.9,142.7 135.9,142.7 134.9,142.7 133.9,142.7 132.9,142.6 131.9,142.6 131.4,142.6 130.4,142.5 129.4,142.5 128.4,142.4 127.4,142.4 126.4,142.3 125.4,142.3 124.4,142.3 123.4,142.2 122.4,142.2 121.4,142.2 120.4,142.2 119.4,142.1 118.4,142.1 117.4,142.1 116.4,142.1 115.4,142.1 114.4,142.1 113.4,142.1 112.4,142.1 111.4,142.2 110.4,142.2 109.4,142.3 108.4,142.3 107.4,142.4 106.4,142.5 105.4,142.5 104.4,142.6 103.9,142.6 102.9,142.6 101.9,142.7 100.9,142.7 99.9,142.7 98.9,142.6 98.3,142.6 97.4,142.5 96.4,142.5 95.4,142.4 94.4,142.3 93.4,142.2 92.9,142.1 91.9,142.0 90.9,141.9 89.9,141.8 88.9,141.8 87.9,141.7 86.9,141.7 85.9,141.7 84.9,141.7 83.9,141.7 82.9,141.7 81.9,141.8 80.9,141.8 79.9,141.8 78.9,141.9 77.9,141.9 76.9,142.0 75.9,142.0 74.9,142.1 73.9,142.1 72.9,142.1 71.9,142.1 70.9,142.1 69.9,142.1 68.9,142.1 67.9,142.1 66.9,142.1 65.9,142.1 64.9,142.1 64.2,142.1 63.4,142.1 62.4,142.2 61.4,142.2 60.4,142.3 59.4,142.4 58.4,142.5 57.4,142.6 56.7,142.6 55.9,142.7 54.9,142.7 53.9,142.8 52.9,142.8 51.9,142.9 50.9,143.0 49.9,143.0 48.9,143.0 47.9,143.1 46.9,143.1 46.4,143.1 45.4,143.1 44.4,143.1 43.4,143.1 42.4,143.1 41.4,143.1 40.9,143.1 39.9,143.0 38.9,143.0 37.9,142.9 36.9,142.8 35.9,142.7 35.2,142.6 34.4,142.5 33.4,142.4 32.4,142.3 31.4,142.2 30.4,142.1 29.4,142.1 28.9,142.1 27.9,142.1 26.9,142.0 25.9,141.8 24.9,141.7 24.2,141.6 23.4,141.1 23.1,140.6 22.8,140.1 22.5,139.1 22.4,138.6 22.3,137.6 22.2,136.6 22.1,135.6 22.0,134.6 21.9,133.6 21.9,132.6 21.9,131.6 22.0,130.6 22.0,129.6 21.9,128.6 21.9,128.1 21.9,127.1 21.8,126.1 21.9,125.1 21.9,124.2 21.9,123.6 22.0,122.6 22.1,121.6 22.1,120.6 22.2,119.6 22.3,118.6 22.3,117.6 22.4,116.6 22.4,115.6 22.4,114.6 22.4,114.1 22.5,113.1 22.7,112.1 22.9,111.5 23.4,110.8 23.8,110.1 24.1,109.6 24.4,109.0 24.8,108.1 25.1,107.6 25.4,107.0 25.9,106.3 26.3,105.6 26.6,105.1 26.9,104.3 27.3,103.6 27.9,103.5 28.4,103.7 29.4,104.1 29.9,104.3 30.9,104.5 31.6,104.6 32.0,104.6 32.9,104.5 33.9,104.4 34.9,104.3 35.9,104.4 36.9,104.5 37.4,104.6 38.4,104.9 39.0,105.1 39.9,105.4 40.5,105.6 41.4,105.9 42.3,106.1 42.9,106.2 43.9,106.5 44.9,106.6 45.9,106.6 46.4,106.6 47.4,106.6 48.4,106.7 49.4,106.7 50.4,106.8 51.4,106.8 52.4,106.8 53.4,106.8 54.4,106.8 55.4,106.7 55.9,106.6 56.9,106.2 57.4,106.0 58.2,105.6 58.9,105.3 59.5,105.1 60.4,104.8 61.0,104.6 61.9,104.4 62.9,104.1 63.4,104.0 64.4,103.9 65.4,103.7 66.4,103.7 67.4,103.8 68.4,103.9 69.4,104.0 69.9,104.1 70.9,104.3 71.9,104.6 72.4,104.7 73.4,104.9 74.4,105.1 74.9,105.1 75.9,105.3 76.9,105.4 77.9,105.5 78.9,105.5 79.9,105.4 80.9,105.3 81.9,105.3 82.9,105.2 83.9,105.1 84.4,105.1 85.4,105.1 86.4,105.1 87.4,105.1 88.4,105.1 89.4,105.1 89.9,105.1 90.9,105.1 91.9,105.1 92.9,105.2 93.4,105.1 94.4,105.0 95.4,104.8 96.4,104.6 96.9,104.5 97.9,104.3 98.8,104.1 99.4,104.0 100.4,103.7 100.9,103.6 101.9,103.3 102.9,103.2 103.9,103.3 104.9,103.5 105.4,103.6 106.4,103.9 106.9,104.1 107.8,104.6 108.4,104.9 108.9,105.2 109.8,105.6 110.4,105.8 111.4,106.0 112.4,106.1 112.9,106.1 113.9,106.2 114.9,106.3 115.9,106.3 116.9,106.3 117.9,106.3 118.9,106.3 119.9,106.3 120.9,106.3 121.9,106.3 122.8,106.1 123.4,105.9 124.4,105.6 124.9,105.3 125.4,105.0 126.0,104.6 126.8,104.1 127.4,103.8 128.0,103.6 128.9,103.3Z" stroke="#aee814" stroke-width="1.25"/>
<path d="M101.2,105.6 101.9,105.4 102.9,105.3 103.9,105.4 104.8,105.6 105.4,105.7 106.4,106.0 106.9,106.2 107.9,106.5 108.4,106.7 109.4,107.1 109.9,107.3 110.6,107.6 111.4,107.8 112.4,107.9 113.4,108.0 114.4,108.0 115.4,108.0 116.4,108.0 117.4,108.0 118.4,107.9 119.4,107.9 120.4,107.8 121.4,107.8 122.4,107.7 122.9,107.6 123.9,107.4 124.9,107.2 125.4,107.1 126.4,106.9 127.4,106.7 128.1,106.6 128.9,106.5 129.9,106.3 130.9,106.2 131.9,106.2 132.9,106.3 133.9,106.4 134.9,106.6 135.4,106.7 136.4,107.0 136.9,107.2 137.9,107.5 138.4,107.7 139.4,108.1 139.9,108.3 140.6,108.6 141.4,108.8 142.4,109.0 143.4,108.9 144.4,108.9 145.4,108.8 146.4,108.7 147.2,108.6 147.9,108.5 148.9,108.3 149.9,108.2 150.4,108.1 151.4,107.9 152.4,107.7 152.9,107.6 153.9,107.4 154.9,107.1 155.4,107.1 156.4,106.9 157.4,106.9 157.9,107.1 158.6,107.6 159.2,108.1 159.6,108.6 159.9,109.1 160.4,110.1 160.5,110.6 160.8,111.6 160.9,112.6 160.9,113.5 160.9,114.1 161.0,115.1 161.2,116.1 161.4,117.1 161.4,117.6 161.5,118.6 161.6,119.6 161.6,120.6 161.6,121.6 161.6,122.6 161.7,123.6 161.7,124.6 161.7,125.6 161.7,126.6 161.8,127.6 161.7,128.6 161.6,129.6 161.6,130.6 161.5,131.6 161.6,132.6 161.7,133.6 161.7,134.6 161.6,135.6 161.5,136.6 161.4,137.6 161.4,138.1 161.2,139.1 160.9,140.1 160.5,140.6 159.9,140.8 158.9,141.0 158.4,141.2 157.4,141.5 156.4,141.6 155.9,141.6 154.9,141.7 153.9,141.7 152.9,141.7 151.9,141.8 150.9,141.8 149.9,141.8 148.9,141.8 147.9,141.8 146.9,141.8 145.9,141.8 144.9,141.8 143.9,141.9 142.9,141.9 141.9,141.9 140.9,141.9 139.9,142.0 138.9,142.0 137.9,142.0 136.9,142.0 135.9,142.0 134.9,142.0 133.9,142.0 132.9,142.0 131.9,142.0 130.9,141.9 129.9,141.9 128.9,141.9 127.9,141.8 126.9,141.8 125.9,141.8 124.9,141.7 123.9,141.7 122.9,141.7 121.9,141.6 120.9,141.6 120.4,141.6 119.4,141.6 118.4,141.5 117.4,141.5 116.4,141.5 115.4,141.5 114.4,141.5 113.4,141.5 112.4,141.5 111.4,141.5 110.4,141.6 109.7,141.6 108.9,141.6 107.9,141.7 106.9,141.8 105.9,141.8 104.9,141.9 103.9,141.9 102.9,142.0 101.9,142.0 100.9,142.0 99.9,142.0 98.9,141.9 97.9,141.9 96.9,141.8 95.9,141.7 94.9,141.6 94.4,141.6 93.4,141.5 92.4,141.4 91.4,141.3 90.4,141.2 89.4,141.2 88.4,141.2 87.4,141.1 86.4,141.1 85.9,141.1 84.9,141.1 84.0,141.1 83.4,141.1 82.4,141.1 81.4,141.2 80.4,141.2 79.4,141.2 78.4,141.3 77.4,141.3 76.4,141.3 75.4,141.3 74.4,141.3 73.4,141.3 72.4,141.3 71.4,141.3 70.4,141.3 69.4,141.3 68.4,141.2 67.4,141.2 66.4,141.2 65.4,141.2 64.4,141.2 63.4,141.2 62.4,141.3 61.4,141.3 60.4,141.4 59.4,141.6 58.9,141.6 57.9,141.7 56.9,141.8 55.9,141.9 54.9,142.0 53.9,142.1 53.4,142.1 52.4,142.2 51.4,142.3 50.4,142.3 49.4,142.4 48.4,142.4 47.4,142.4 46.4,142.5 45.4,142.5 44.4,142.5 43.4,142.5 42.4,142.5 41.4,142.5 40.4,142.5 39.4,142.4 38.4,142.4 37.4,142.3 36.4,142.2 35.8,142.1 34.9,142.0 33.9,141.9 32.9,141.8 31.9,141.7 30.9,141.6 30.4,141.6 29.4,141.5 28.4,141.5 27.4,141.4 26.4,141.3 25.4,141.1 24.9,141.0 24.1,140.6 23.7,140.1 23.4,139.6 23.0,138.6 22.9,138.1 22.8,137.1 22.7,136.1 22.5,135.1 22.4,134.2 22.4,133.6 22.3,132.6 22.3,131.6 22.4,130.6 22.3,129.6 22.3,128.6 22.2,127.6 22.2,126.6 22.2,125.6 22.2,124.6 22.3,123.6 22.3,122.6 22.4,121.6 22.4,121.1 22.5,120.1 22.7,119.1 22.8,118.1 22.9,117.1 22.9,116.6 23.0,115.6 23.1,114.6 23.3,113.6 23.4,113.1 23.9,112.2 24.4,111.6 24.7,111.1 25.1,110.6 25.6,110.1 26.1,109.6 26.7,109.1 27.3,108.6 27.9,108.3 28.9,108.3 29.9,108.2 30.9,108.1 31.4,108.1 32.4,108.0 33.4,107.8 34.4,107.7 35.4,107.6 36.2,107.6 36.9,107.6 37.4,107.6 38.4,107.6 39.4,107.7 40.4,107.8 41.4,108.0 42.3,108.1 42.9,108.2 43.9,108.3 44.9,108.3 45.9,108.3 46.9,108.2 47.9,108.2 48.9,108.3 49.9,108.3 50.9,108.4 51.9,108.5 52.9,108.6 53.4,108.6 54.4,108.7 55.4,108.8 56.4,108.8 57.4,108.6 57.9,108.5 58.9,108.2 59.4,108.1 60.4,107.7 60.9,107.5 61.9,107.2 62.4,107.1 63.4,106.9 64.4,106.7 65.4,106.6 66.4,106.6 67.4,106.6 68.4,106.7 69.4,106.7 70.4,106.7 71.4,106.8 72.4,106.9 73.4,106.9 74.4,107.0 75.4,107.1 75.9,107.1 76.9,107.2 77.9,107.3 78.9,107.3 79.9,107.3 80.9,107.1 81.4,107.1 82.4,107.0 83.4,106.9 84.4,106.8 85.4,106.7 86.4,106.7 87.4,106.6 88.4,106.7 89.4,106.7 90.4,106.8 91.4,106.8 92.4,106.9 93.4,107.0 94.4,106.9 95.4,106.8 96.4,106.7 97.4,106.6 97.9,106.5 98.9,106.3 99.5,106.1 100.4,105.8Z" stroke="#f0e614" stroke-width="1.25"/>
<path d="M88.7,108.6 89.4,108.6 90.4,108.6 91.4,108.6 92.1,108.6 92.9,108.6 93.9,108.6 94.6,108.6 95.4,108.6 96.4,108.6 97.4,108.6 98.4,108.5 99.4,108.5 100.4,108.4 101.4,108.4 102.4,108.3 103.4,108.3 104.4,108.5 105.0,108.6 105.9,108.9 106.7,109.1 107.4,109.4 108.1,109.6 108.9,109.9 109.4,110.1 110.4,110.4 111.4,110.6 111.9,110.6 112.9,110.6 113.9,110.6 114.4,110.6 115.4,110.5 116.4,110.4 117.4,110.3 118.4,110.2 119.0,110.1 119.9,110.0 120.9,109.9 121.9,109.9 122.9,109.8 123.9,109.7 124.9,109.6 125.9,109.6 126.9,109.7 127.9,109.8 128.9,109.9 129.9,110.1 130.4,110.2 131.4,110.4 132.4,110.5 132.9,110.6 133.9,110.8 134.9,110.9 135.9,111.1 136.4,111.1 137.4,111.2 138.4,111.3 139.4,111.3 140.4,111.3 141.4,111.3 142.4,111.3 143.4,111.1 143.9,111.1 144.9,111.0 145.9,110.9 146.9,110.8 147.9,110.7 148.7,110.6 149.4,110.6 150.4,110.5 151.4,110.5 152.4,110.4 153.4,110.4 154.4,110.3 155.4,110.2 156.4,110.2 157.4,110.2 158.0,110.6 158.4,111.1 158.9,111.7 159.4,112.6 159.5,113.1 159.6,114.1 159.9,115.1 160.0,115.6 160.4,116.6 160.5,117.1 160.7,118.1 160.8,119.1 160.9,119.7 161.0,120.6 161.0,121.6 161.0,122.6 161.1,123.6 161.1,124.6 161.1,125.6 161.2,126.6 161.2,127.6 161.1,128.6 161.0,129.6 160.9,130.1 160.7,131.1 160.8,132.1 160.9,132.9 161.0,133.6 161.0,134.6 160.9,135.3 160.6,136.1 160.4,136.9 159.9,137.5 159.4,137.8 158.9,138.2 158.4,138.8 157.9,139.4 157.4,139.9 156.9,140.1 155.9,140.2 154.9,140.2 153.9,140.3 152.9,140.2 151.9,140.2 150.9,140.1 150.4,140.1 149.4,140.1 148.4,140.0 147.4,140.0 146.4,140.0 145.6,140.1 144.9,140.2 143.9,140.3 142.9,140.5 142.3,140.6 141.4,140.7 140.4,140.8 139.4,140.9 138.4,140.9 137.4,140.9 136.4,141.0 135.4,140.9 134.4,140.9 133.4,140.9 132.4,140.9 131.4,140.9 130.4,140.9 129.4,140.9 128.4,140.9 127.4,140.9 126.4,141.0 125.4,141.0 124.4,141.0 123.4,141.0 122.4,140.9 121.4,140.9 120.4,140.9 119.4,140.8 118.4,140.8 117.4,140.7 116.4,140.7 115.4,140.6 114.4,140.6 113.9,140.6 112.9,140.6 111.9,140.6 110.9,140.6 110.2,140.6 109.4,140.6 108.4,140.7 107.4,140.8 106.4,140.9 105.4,141.0 104.5,141.1 103.9,141.1 102.9,141.2 101.9,141.2 100.9,141.3 99.9,141.3 98.9,141.2 97.9,141.2 96.9,141.1 96.4,141.1 95.4,141.0 94.4,140.9 93.4,140.8 92.4,140.8 91.4,140.7 90.4,140.7 89.4,140.7 88.4,140.6 87.4,140.6 86.9,140.6 85.9,140.6 84.9,140.6 83.9,140.6 82.9,140.6 81.9,140.6 80.9,140.6 80.4,140.6 79.4,140.6 78.4,140.6 77.4,140.6 76.4,140.7 75.4,140.7 74.4,140.7 73.4,140.6 72.4,140.6 71.7,140.6 70.9,140.6 69.9,140.5 68.9,140.4 67.9,140.3 66.9,140.3 65.9,140.2 64.9,140.1 63.9,140.1 62.9,140.1 61.9,140.2 60.9,140.2 59.9,140.4 58.9,140.5 58.4,140.6 57.4,140.8 56.4,140.9 55.4,141.0 54.9,141.1 53.9,141.2 52.9,141.2 51.9,141.3 50.9,141.3 49.9,141.4 48.9,141.4 47.9,141.5 46.9,141.5 45.9,141.5 44.9,141.6 43.9,141.6 43.4,141.6 42.4,141.6 41.4,141.6 40.8,141.6 39.9,141.5 38.9,141.4 37.9,141.3 36.9,141.1 36.4,141.0 35.4,140.8 34.6,140.6 33.9,140.5 32.9,140.4 31.9,140.4 30.9,140.4 29.9,140.4 28.9,140.4 27.9,140.4 26.9,140.1 26.4,139.9 25.7,139.6 24.9,139.2 24.4,138.7 24.2,138.1 24.0,137.1 23.9,136.3 23.7,135.6 23.4,134.9 23.3,134.1 23.1,133.1 23.1,132.1 23.2,131.1 23.2,130.1 23.1,129.1 22.9,128.4 22.8,127.6 22.7,126.6 22.7,125.6 22.7,124.6 22.8,123.6 22.9,122.6 23.0,122.1 23.1,121.1 23.3,120.1 23.4,119.6 23.9,118.6 24.4,118.1 24.8,117.6 25.0,117.1 25.1,116.1 25.0,115.1 25.1,114.1 25.4,113.1 25.6,112.6 26.1,112.1 26.9,111.6 27.4,111.3 28.4,111.1 29.4,111.2 30.4,111.3 31.4,111.3 32.4,111.3 33.4,111.2 34.3,111.1 34.9,111.0 35.9,110.8 36.8,110.6 37.4,110.5 38.4,110.3 39.4,110.2 40.4,110.1 40.9,110.1 41.9,110.0 42.9,110.0 43.9,110.0 44.9,110.0 45.9,110.0 46.9,110.0 47.9,110.0 48.9,110.1 49.4,110.2 50.4,110.3 51.4,110.4 52.4,110.6 52.9,110.7 53.9,110.8 54.9,110.9 55.9,111.0 56.9,111.0 57.9,111.0 58.9,111.0 59.9,111.0 60.9,110.9 61.9,110.7 62.7,110.6 63.4,110.4 64.4,110.1 64.9,109.9 65.6,109.6 66.4,109.2 66.9,109.1 67.9,108.8 68.9,108.7 69.9,108.6 70.9,108.6 71.9,108.7 72.9,108.8 73.9,108.9 74.9,109.0 75.9,109.1 76.4,109.2 77.4,109.3 78.4,109.4 79.4,109.4 80.4,109.4 81.4,109.3 82.4,109.2 83.2,109.1 83.9,109.0 84.9,108.9 85.9,108.8 86.9,108.7 87.9,108.6Z" stroke="#ffc030" stroke-width="1.25"/>
<path d="M87.7,112.1 88.4,112.1 89.4,112.1 90.4,112.1 90.9,112.1 91.9,112.2 92.9,112.2 93.9,112.3 94.9,112.3 95.9,112.4 96.9,112.5 97.9,112.6 98.4,112.6 99.4,112.7 100.4,112.8 101.4,112.9 102.4,113.0 103.2,113.1 103.9,113.2 104.9,113.3 105.9,113.3 106.9,113.3 107.9,113.3 108.9,113.3 109.9,113.3 110.9,113.3 111.9,113.3 112.9,113.3 113.9,113.2 114.9,113.1 115.4,113.1 116.4,113.0 117.4,113.0 118.4,112.9 119.4,112.9 120.4,112.8 121.4,112.9 122.4,113.0 123.4,113.1 123.9,113.2 124.9,113.5 125.4,113.6 126.4,114.0 126.9,114.1 127.9,114.4 128.8,114.6 129.4,114.7 130.4,114.8 131.4,114.9 132.4,115.0 133.4,115.0 134.4,115.0 135.4,114.9 136.4,114.8 137.4,114.7 137.9,114.6 138.9,114.5 139.9,114.3 140.9,114.2 141.9,114.1 142.5,114.1 143.4,114.1 144.4,114.1 144.9,114.1 145.9,114.4 146.4,114.7 146.9,115.1 147.6,115.6 148.4,116.1 148.9,116.4 149.4,116.6 150.4,116.9 151.4,117.0 152.4,117.0 153.4,117.0 154.4,116.9 155.4,116.8 156.4,116.7 157.3,116.6 157.4,116.6 158.1,117.1 158.4,117.6 158.9,118.6 159.1,119.1 159.4,120.0 159.6,120.6 159.8,121.6 159.8,122.6 159.8,123.6 159.8,124.6 159.8,125.6 159.9,126.5 159.9,127.1 159.9,127.9 159.7,128.6 159.4,129.2 158.9,130.1 158.7,130.6 158.5,131.6 158.6,132.6 158.7,133.6 158.7,134.6 158.4,135.2 157.9,136.1 157.5,136.6 156.9,137.0 156.3,137.1 155.4,137.1 154.4,137.1 153.4,137.1 152.9,137.1 151.9,137.1 150.9,137.1 150.4,137.1 149.4,137.1 148.4,137.2 147.4,137.2 146.4,137.2 145.4,137.2 144.4,137.2 143.4,137.3 142.4,137.3 141.4,137.3 140.4,137.4 139.4,137.4 138.4,137.5 137.4,137.5 136.5,137.6 135.9,137.6 134.9,137.7 133.9,137.7 132.9,137.8 131.9,137.8 130.9,137.8 129.9,137.8 128.9,137.8 127.9,137.7 126.9,137.7 125.9,137.7 124.9,137.6 123.9,137.6 122.9,137.6 121.9,137.7 120.9,137.7 119.9,137.7 118.9,137.8 117.9,137.8 116.9,137.9 115.9,137.9 114.9,138.0 113.9,138.0 113.1,138.1 112.4,138.1 111.4,138.2 110.4,138.3 109.4,138.4 108.4,138.5 107.4,138.5 106.8,138.6 105.9,138.7 104.9,138.8 103.9,139.0 103.3,139.1 102.4,139.2 101.4,139.4 100.4,139.5 99.9,139.6 98.9,139.7 97.9,139.7 96.9,139.8 95.9,139.8 94.9,139.8 93.9,139.8 92.9,139.7 91.9,139.7 90.9,139.7 89.9,139.6 89.4,139.6 88.4,139.5 87.4,139.4 86.4,139.3 85.4,139.3 84.4,139.2 83.4,139.1 82.4,139.1 81.9,139.1 80.9,139.0 79.9,139.0 78.9,139.0 77.9,139.0 76.9,139.0 75.9,139.0 74.9,139.0 73.9,139.0 72.9,138.9 71.9,138.8 70.9,138.8 69.9,138.7 68.9,138.6 68.4,138.6 67.4,138.5 66.4,138.5 65.4,138.4 64.4,138.4 63.4,138.4 62.4,138.5 61.4,138.5 60.4,138.6 59.5,138.6 58.9,138.6 57.9,138.7 56.9,138.7 55.9,138.8 54.9,138.8 53.9,138.8 52.9,138.9 51.9,138.8 50.9,138.8 49.9,138.7 48.9,138.6 48.4,138.5 47.4,138.4 46.4,138.2 45.7,138.1 44.9,138.0 43.9,137.9 42.9,137.9 41.9,137.9 40.9,137.9 39.9,137.8 38.9,137.8 37.9,137.8 36.9,137.7 35.9,137.6 35.4,137.6 34.4,137.5 33.4,137.4 32.4,137.4 31.4,137.4 30.4,137.4 29.4,137.4 28.4,137.2 28.0,136.6 27.7,136.1 27.4,135.6 26.9,134.8 26.7,134.1 26.7,133.1 26.9,132.3 27.1,131.6 27.4,130.6 27.1,129.6 26.9,129.1 26.5,128.1 26.5,127.1 26.8,126.1 27.0,125.6 27.2,124.6 27.2,123.6 27.2,122.6 27.2,121.6 27.4,120.8 27.7,120.1 27.9,119.6 28.4,118.6 28.8,118.1 29.4,117.7 29.9,117.6 30.7,117.1 30.6,116.1 30.2,115.6 30.9,115.1 31.4,115.0 32.4,114.9 33.4,114.7 33.9,114.5 34.9,114.3 35.4,114.1 36.4,113.8 36.9,113.6 37.9,113.3 38.4,113.1 39.4,112.8 40.4,112.6 40.9,112.6 41.9,112.4 42.9,112.3 43.9,112.3 44.9,112.2 45.9,112.2 46.9,112.2 47.9,112.2 48.9,112.2 49.9,112.3 50.9,112.4 51.9,112.5 52.8,112.6 53.4,112.7 54.4,112.9 55.4,113.0 56.1,113.1 56.9,113.2 57.9,113.3 58.9,113.4 59.9,113.5 60.9,113.6 61.4,113.6 62.4,113.7 63.4,113.8 64.4,113.8 65.4,113.8 66.4,113.7 67.4,113.7 68.1,113.6 68.9,113.5 69.9,113.4 70.9,113.4 71.9,113.3 72.9,113.1 73.4,113.1 74.4,113.0 75.4,112.9 76.4,112.8 77.4,112.6 77.9,112.6 78.9,112.6 79.9,112.5 80.9,112.5 81.9,112.4 82.9,112.4 83.9,112.3 84.9,112.3 85.9,112.2 86.9,112.1Z" stroke="#f6851f" stroke-width="1.35"/>
<path d="M207.2,94.6 208.0,94.7 209.0,94.7 210.0,94.6 210.3,94.6M327.8,94.6 328.0,95.6 328.1,96.1 328.5,96.8 328.9,97.6 329.1,98.1 329.4,99.1 329.5,99.8 329.5,100.6 329.6,101.6 329.7,102.6 329.9,103.6 329.9,104.6 329.8,105.6 329.6,106.6 329.5,107.4 329.5,108.1 329.4,109.1 329.5,110.1 329.5,111.1 329.4,112.1 329.3,113.1 329.3,114.1 329.3,115.1 329.2,116.1 329.3,117.1 329.4,118.1 329.5,119.1 329.6,119.6 329.8,120.6 329.8,121.6 329.7,122.6 329.5,123.6 329.5,124.1 329.4,125.1 329.4,126.1 329.5,127.1 329.6,127.6 329.8,128.6 329.9,129.6 329.9,130.6 329.8,131.6 329.7,132.6 329.7,133.6 329.6,134.6 329.7,135.6 329.8,136.6 330.0,137.2M174.0,108.8 174.1,108.1 174.2,107.1 174.5,106.1 174.6,105.6 174.8,104.6 174.9,103.6 175.0,103.0 175.2,102.1 175.5,101.2 175.7,100.6 175.8,99.6 175.9,98.6 176.0,97.6 176.1,97.1 176.2,96.1 176.4,95.1 176.5,94.6M174.0,121.6 174.2,120.6 174.2,119.6 174.1,118.6 174.0,117.8M330.0,144.1 329.6,144.6 329.2,145.1 328.5,145.4 327.8,145.6 327.0,145.7 326.0,145.9 325.0,146.1 324.5,146.1 323.5,146.1 322.5,146.2 321.5,146.2 320.5,146.2 319.5,146.2 318.5,146.2 317.5,146.3 316.5,146.3 315.5,146.3 314.5,146.3 313.5,146.3 312.5,146.3 311.5,146.3 310.5,146.3 309.5,146.3 308.5,146.3 307.5,146.4 306.5,146.4 305.5,146.3 304.5,146.3 303.5,146.3 302.5,146.3 301.5,146.3 300.5,146.3 299.5,146.3 298.5,146.3 297.5,146.3 296.5,146.3 295.5,146.3 294.5,146.3 293.5,146.3 292.5,146.2 291.5,146.2 290.5,146.2 289.5,146.2 288.5,146.3 287.5,146.3 286.5,146.4 285.5,146.5 284.5,146.6 284.0,146.6 283.0,146.7 282.0,146.8 281.0,146.9 280.0,146.9 279.0,146.8 278.0,146.8 277.0,146.7 276.2,146.6 275.5,146.5 274.5,146.4 273.5,146.3 272.5,146.3 271.5,146.2 270.5,146.2 269.5,146.1 268.5,146.1 267.5,146.1 266.5,146.1 265.5,146.1 264.5,146.1 263.5,146.1 262.5,146.2 261.5,146.2 260.5,146.2 259.5,146.2 258.5,146.2 257.5,146.2 256.5,146.2 255.5,146.1 254.5,146.1 253.8,146.1 253.0,146.1 252.0,146.1 251.0,146.1 250.0,146.0 249.0,146.0 248.0,146.1 247.0,146.1 246.0,146.1 245.5,146.1 244.5,146.1 243.5,146.2 242.5,146.3 241.5,146.3 240.5,146.4 239.5,146.4 238.5,146.5 237.5,146.5 236.5,146.6 235.5,146.6 235.0,146.6 234.0,146.6 233.0,146.6 232.0,146.6 231.5,146.6 230.5,146.6 229.5,146.5 228.5,146.5 227.5,146.5 226.5,146.4 225.5,146.4 224.5,146.4 223.5,146.4 222.5,146.4 221.5,146.4 220.5,146.3 219.5,146.3 218.5,146.3 217.5,146.3 216.5,146.3 215.5,146.3 214.5,146.3 213.5,146.3 212.5,146.3 211.5,146.3 210.5,146.3 209.5,146.2 208.5,146.1 208.0,146.1 207.0,146.0 206.0,146.0 205.0,145.9 204.0,145.9 203.0,145.8 202.0,145.8 201.0,145.8 200.0,145.8 199.0,145.8 198.0,145.8 197.0,145.9 196.0,145.9 195.0,146.0 194.0,146.1 193.0,146.1 192.0,146.1 191.0,146.1 190.0,146.0 189.0,146.0 188.0,145.8 187.0,145.7 186.0,145.7 185.0,145.7 184.0,145.7 183.0,145.7 182.0,145.7 181.0,145.8 180.0,145.8 179.5,145.5 179.0,145.1 178.2,144.6 177.5,144.2 177.0,144.0 176.1,143.6 175.5,143.2 175.2,142.6 175.0,141.9 174.9,141.1 174.9,140.1 174.8,139.1 174.8,138.1 175.0,137.1 175.1,136.6 175.3,135.6 175.4,134.6 175.5,133.6 175.4,132.6 175.3,131.6 175.1,130.6 175.0,130.1 174.7,129.1 174.5,128.1 174.4,127.6 174.3,126.6 174.1,125.6 174.0,125.4" stroke="#3f8cff" stroke-width="1.25"/>
<path d="M193.5,94.6 194.5,95.1 195.0,95.2 196.0,95.3 197.0,95.5 197.6,95.6 198.5,95.7 199.5,95.9 200.5,96.0 201.3,96.1 202.0,96.2 203.0,96.3 204.0,96.4 205.0,96.5 205.7,96.6 206.5,96.7 207.5,96.8 208.5,96.9 209.5,96.9 210.5,97.0 211.5,97.0 212.5,97.0 213.5,97.0 214.5,96.8 215.1,96.6 216.0,96.1 216.5,95.7 217.0,95.3 217.5,94.9 217.8,94.6M235.1,94.6 235.5,95.2 236.0,95.6 237.0,95.7 237.9,95.6 238.5,95.5 239.5,95.3 240.5,95.3 241.5,95.2 242.5,95.2 243.5,95.3 244.5,95.4 245.5,95.4 246.5,95.5 247.5,95.6 248.5,95.2 249.0,94.8 249.3,94.6M284.8,94.6 285.5,94.6 286.5,94.6 286.6,94.6M301.0,94.6 302.0,94.8 303.0,94.9 304.0,95.0 305.0,95.1 306.0,95.0 306.9,94.6M325.6,94.6 326.0,95.6 326.3,96.1 326.8,96.6 327.2,97.1 327.6,97.6 328.0,98.3 328.3,99.1 328.5,100.1 328.5,100.6 328.6,101.6 328.9,102.6 329.0,103.1 329.1,104.1 329.1,105.1 329.0,106.0 328.9,106.6 328.9,107.6 328.8,108.6 328.9,109.6 328.9,110.6 328.9,111.6 328.8,112.6 328.8,113.6 328.7,114.6 328.7,115.6 328.7,116.6 328.8,117.6 328.9,118.6 329.0,119.1 329.1,120.1 329.2,121.1 329.2,122.1 329.1,123.1 329.0,124.1 329.0,124.6 329.0,125.6 329.0,126.6 329.0,127.1 329.2,128.1 329.3,129.1 329.4,130.1 329.4,131.1 329.3,132.1 329.2,133.1 329.1,134.1 329.1,135.1 329.0,136.1 329.2,137.1 329.5,138.1 329.6,138.6 329.9,139.6 330.0,140.4M330.0,141.3 329.6,142.1 329.1,142.6 328.5,143.0 328.0,143.2 327.2,143.6 326.5,144.0 326.0,144.4 325.5,144.7 324.5,145.1 324.0,145.1 323.0,145.3 322.0,145.4 321.0,145.4 320.0,145.5 319.0,145.5 318.0,145.6 317.1,145.6 316.5,145.6 315.5,145.6 314.5,145.6 313.5,145.7 312.5,145.7 311.5,145.7 310.5,145.7 309.5,145.7 308.5,145.7 307.5,145.7 306.5,145.7 305.5,145.7 304.5,145.7 303.5,145.7 302.5,145.7 301.5,145.7 300.5,145.6 299.5,145.6 298.5,145.6 297.6,145.6 297.0,145.6 296.0,145.6 295.0,145.5 294.0,145.5 293.0,145.4 292.0,145.4 291.0,145.4 290.0,145.3 289.0,145.3 288.0,145.3 287.0,145.3 286.0,145.3 285.0,145.3 284.0,145.3 283.0,145.3 282.0,145.3 281.0,145.3 280.0,145.3 279.0,145.3 278.0,145.3 277.0,145.3 276.0,145.3 275.0,145.3 274.0,145.3 273.0,145.3 272.0,145.3 271.0,145.3 270.0,145.3 269.0,145.3 268.0,145.3 267.0,145.4 266.0,145.4 265.0,145.4 264.0,145.4 263.0,145.4 262.0,145.5 261.0,145.5 260.0,145.4 259.0,145.4 258.0,145.4 257.0,145.4 256.0,145.3 255.0,145.3 254.0,145.2 253.0,145.2 252.0,145.2 251.0,145.2 250.0,145.2 249.0,145.2 248.0,145.2 247.0,145.3 246.0,145.3 245.0,145.4 244.0,145.5 243.0,145.6 242.5,145.6 241.5,145.7 240.5,145.7 239.5,145.8 238.5,145.9 237.5,145.9 236.5,145.9 235.5,146.0 234.5,146.0 233.5,146.0 232.5,146.0 231.5,146.0 230.5,145.9 229.5,145.9 228.5,145.9 227.5,145.8 226.5,145.8 225.5,145.8 224.5,145.8 223.5,145.8 222.5,145.8 221.5,145.8 220.5,145.8 219.5,145.7 218.5,145.7 217.5,145.7 216.5,145.7 215.5,145.7 214.5,145.7 213.5,145.7 212.5,145.7 211.5,145.7 210.5,145.7 209.5,145.6 209.0,145.6 208.0,145.5 207.0,145.4 206.0,145.4 205.0,145.3 204.0,145.2 203.0,145.1 202.5,145.1 201.5,145.0 200.5,145.0 199.5,144.9 198.5,144.9 197.5,144.9 196.5,144.9 195.5,144.9 194.5,144.9 193.5,144.8 192.5,144.8 191.5,144.8 190.5,144.7 189.5,144.6 189.0,144.6 188.0,144.5 187.0,144.4 186.0,144.3 185.0,144.3 184.0,144.2 183.0,144.1 182.5,144.1 181.5,144.1 180.5,144.0 179.5,143.8 179.0,143.6 178.0,143.2 177.5,142.9 176.9,142.6 176.2,142.1 175.9,141.6 175.7,140.6 175.6,139.6 175.5,138.6 175.5,138.1 175.5,137.6 175.7,136.6 175.9,135.6 176.0,135.0 176.1,134.1 176.1,133.1 176.1,132.1 176.0,131.1 176.0,130.6 175.9,129.6 175.8,128.6 175.7,127.6 175.5,126.6 175.5,126.1 175.2,125.1 175.0,124.2 174.9,123.6 175.0,122.6 175.0,122.1 175.2,121.1 175.3,120.1 175.2,119.1 175.0,118.1 175.0,117.6 174.8,116.6 174.8,115.6 174.8,114.6 174.9,113.6 174.9,112.6 174.9,111.6 174.8,110.6 174.9,109.6 174.9,108.6 175.0,108.0 175.3,107.1 175.5,106.5 175.9,105.6 176.2,105.1 176.3,104.1 176.4,103.1 176.5,102.4 176.7,101.6 176.9,100.6 177.0,99.8 177.1,99.1 177.2,98.1 177.3,97.1 177.5,96.4 177.8,95.6 178.1,95.1 178.4,94.6" stroke="#35b0ff" stroke-width="1.25"/>
<path d="M230.6,94.6 231.2,95.1 231.7,95.6 232.4,96.1 233.0,96.5 233.5,96.8 234.1,97.1 235.0,97.6 235.5,97.9 236.0,98.2 237.0,98.2 238.0,98.1 238.5,98.1 239.5,97.9 240.5,97.7 241.5,97.6 242.0,97.6 243.0,97.5 244.0,97.5 245.0,97.5 246.0,97.5 247.0,97.5 248.0,97.3 248.5,97.1 249.5,96.6 250.0,96.4 251.0,96.1 252.0,96.5 252.5,96.6 253.5,96.6 254.1,96.6 255.0,96.6 256.0,96.5 257.0,96.5 258.0,96.5 259.0,96.5 260.0,96.3 260.5,95.8 260.9,95.1 261.1,94.6M273.4,94.6 274.0,94.9 274.5,95.2 275.3,95.6 276.0,95.8 277.0,96.1 277.5,96.2 278.5,96.4 279.5,96.6 280.0,96.7 281.0,96.8 282.0,96.9 283.0,97.0 284.0,97.1 284.5,97.1 285.5,97.2 286.5,97.2 287.5,97.2 288.1,97.1 289.0,97.0 290.0,96.9 291.0,96.7 291.5,96.6 292.5,96.5 293.5,96.4 294.5,96.3 295.5,96.3 296.5,96.3 297.5,96.3 298.5,96.4 299.5,96.4 300.5,96.4 301.5,96.4 302.5,96.5 303.5,96.5 304.5,96.5 305.5,96.6 306.5,96.5 307.5,96.4 308.5,96.3 309.5,96.2 310.0,96.1 311.0,95.9 312.0,95.6 312.5,95.5 313.5,95.1 314.0,94.9 314.9,94.6M319.1,94.6 319.8,95.1 320.5,95.6 321.0,95.8 321.5,96.1 322.5,96.4 323.3,96.6 324.0,96.8 325.0,97.0 325.5,97.2 326.1,97.6 326.5,98.1 327.0,99.1 327.1,99.6 327.3,100.6 327.5,101.5 327.7,102.1 328.0,103.0 328.2,103.6 328.3,104.6 328.2,105.6 328.1,106.6 328.1,107.6 328.1,108.6 328.2,109.6 328.3,110.6 328.3,111.6 328.2,112.6 328.2,113.6 328.2,114.6 328.2,115.6 328.1,116.6 328.2,117.6 328.4,118.6 328.5,119.2 328.6,120.1 328.7,121.1 328.6,122.1 328.6,123.1 328.5,124.1 328.5,124.6 328.4,125.6 328.5,126.6 328.5,127.1 328.7,128.1 328.9,129.1 328.9,130.1 328.9,131.1 328.8,132.1 328.6,133.1 328.5,134.1 328.5,134.6 328.3,135.6 328.3,136.6 328.4,137.6 328.5,138.1 328.8,139.1 328.8,140.1 328.8,141.1 328.5,141.6 327.9,142.1 327.1,142.6 326.5,142.9 326.0,143.2 325.3,143.6 324.5,143.9 323.8,144.1 323.0,144.3 322.0,144.5 321.5,144.6 320.5,144.8 319.5,144.9 318.5,144.9 317.5,145.0 316.5,145.0 315.5,145.1 314.5,145.1 314.0,145.1 313.0,145.1 312.0,145.1 311.0,145.1 310.0,145.1 309.0,145.1 308.0,145.1 307.0,145.1 306.5,145.1 305.5,145.1 304.5,145.1 303.5,145.1 302.5,145.0 301.5,145.0 300.5,145.0 299.5,145.0 298.5,145.0 297.5,145.0 296.5,145.0 295.5,144.9 294.5,144.9 293.5,144.8 292.5,144.8 291.5,144.7 290.5,144.7 289.5,144.7 288.5,144.6 287.8,144.6 287.0,144.6 286.0,144.6 285.0,144.5 284.0,144.5 283.0,144.5 282.0,144.5 281.0,144.5 280.0,144.5 279.0,144.5 278.0,144.5 277.0,144.5 276.0,144.5 275.0,144.5 274.0,144.5 273.0,144.5 272.0,144.5 271.0,144.6 270.0,144.6 269.5,144.6 268.5,144.7 267.5,144.7 266.5,144.7 265.5,144.8 264.5,144.8 263.5,144.8 262.5,144.8 261.5,144.8 260.5,144.8 259.5,144.7 258.5,144.7 257.5,144.6 257.0,144.6 256.0,144.5 255.0,144.4 254.0,144.4 253.0,144.3 252.0,144.3 251.0,144.2 250.0,144.2 249.0,144.3 248.0,144.3 247.0,144.4 246.0,144.4 245.0,144.5 244.3,144.6 243.5,144.7 242.5,144.8 241.5,144.9 240.5,145.0 239.8,145.1 239.0,145.2 238.0,145.2 237.0,145.3 236.0,145.3 235.0,145.3 234.0,145.3 233.0,145.3 232.0,145.3 231.0,145.3 230.0,145.2 229.0,145.2 228.0,145.1 227.0,145.1 226.5,145.1 225.5,145.1 224.5,145.1 223.5,145.1 222.5,145.1 221.5,145.1 221.0,145.1 220.0,145.1 219.0,145.1 218.0,145.1 217.0,145.1 216.0,145.1 215.0,145.1 214.0,145.1 213.0,145.1 212.0,145.1 211.5,145.1 210.5,145.1 209.5,145.0 208.5,144.9 207.5,144.9 206.5,144.8 205.5,144.7 204.7,144.6 204.0,144.5 203.0,144.5 202.0,144.4 201.0,144.3 200.0,144.3 199.0,144.2 198.0,144.2 197.0,144.2 196.0,144.1 195.0,144.1 194.5,144.1 193.5,144.1 192.5,144.1 191.5,144.0 190.5,144.0 189.5,143.9 188.5,143.9 187.5,143.8 186.5,143.7 185.5,143.6 184.9,143.6 184.0,143.5 183.0,143.5 182.0,143.4 181.0,143.4 180.0,143.3 179.4,143.1 178.5,142.6 178.0,142.3 177.5,141.9 177.0,141.4 176.6,140.6 176.5,140.1 176.3,139.1 176.2,138.1 176.2,137.1 176.4,136.1 176.5,135.6 176.7,134.6 176.7,133.6 176.8,132.6 176.7,131.6 176.7,130.6 176.6,129.6 176.6,128.6 176.6,127.6 176.5,126.6 176.5,125.8 176.4,125.1 176.2,124.1 176.2,123.1 176.2,122.1 176.4,121.1 176.5,120.1 176.4,119.1 176.3,118.1 176.2,117.1 176.2,116.1 176.5,115.1 176.7,114.6 177.0,114.1 177.3,113.1 177.5,112.1 177.5,111.1 177.5,110.1 177.5,109.3 177.5,108.6 177.6,107.6 177.6,106.6 177.7,105.6 177.8,104.6 177.8,103.6 177.8,102.6 177.9,101.6 178.0,101.1 178.2,100.1 178.5,99.1 178.6,98.6 179.0,97.8 179.5,97.1 180.0,96.7 180.5,96.5 181.5,96.3 182.5,96.1 183.0,96.0 184.0,95.9 185.0,96.0 186.0,96.1 186.5,96.1 187.5,96.1 188.5,96.2 189.5,96.5 190.0,96.7 190.9,97.1 191.5,97.3 192.2,97.6 193.0,97.8 194.0,98.0 195.0,98.0 196.0,97.9 197.0,97.8 198.0,97.8 199.0,97.7 200.0,97.7 201.0,97.7 202.0,97.7 203.0,97.7 204.0,97.8 205.0,97.8 206.0,97.9 207.0,98.0 208.0,98.1 208.5,98.1 209.5,98.2 210.5,98.3 211.5,98.3 212.5,98.4 213.5,98.4 214.5,98.4 215.5,98.2 216.1,98.1 217.0,97.9 218.0,97.7 218.5,97.5 219.5,97.2 220.0,97.0 220.8,96.6 221.5,96.1 222.0,95.8 222.5,95.4 223.0,95.1 223.6,94.6" stroke="#14dcf0" stroke-width="1.25"/>
<path d="M314.1,97.1 315.0,97.0 316.0,96.9 317.0,96.8 318.0,96.8 319.0,97.1 319.5,97.3 320.3,97.6 321.0,97.9 321.5,98.1 322.5,98.5 323.2,98.6 324.0,98.8 325.0,99.1 325.5,99.4 325.9,100.1 326.1,100.6 326.5,101.6 326.7,102.1 327.0,102.9 327.3,103.6 327.4,104.6 327.4,105.6 327.4,106.6 327.4,107.6 327.4,108.6 327.5,109.2 327.6,110.1 327.7,111.1 327.7,112.1 327.6,113.1 327.6,114.1 327.6,115.1 327.6,116.1 327.6,117.1 327.8,118.1 327.9,119.1 328.0,119.7 328.1,120.6 328.1,121.6 328.0,122.6 328.0,123.1 327.9,124.1 327.9,125.1 327.9,126.1 328.0,127.1 328.1,127.6 328.3,128.6 328.4,129.6 328.4,130.6 328.3,131.6 328.1,132.6 328.0,133.5 327.9,134.1 327.8,135.1 327.7,136.1 327.7,137.1 327.8,138.1 327.9,139.1 327.8,140.1 327.6,141.1 327.2,141.6 326.6,142.1 326.0,142.5 325.5,142.8 324.5,143.1 324.0,143.2 323.0,143.4 322.3,143.6 321.5,143.8 320.5,144.0 319.9,144.1 319.0,144.2 318.0,144.4 317.0,144.4 316.0,144.5 315.0,144.5 314.0,144.6 313.1,144.6 312.5,144.6 311.5,144.6 310.5,144.6 309.5,144.6 308.8,144.6 308.0,144.6 307.0,144.6 306.0,144.5 305.0,144.5 304.0,144.5 303.0,144.5 302.0,144.5 301.0,144.4 300.0,144.4 299.0,144.4 298.0,144.4 297.0,144.4 296.0,144.4 295.0,144.3 294.0,144.3 293.0,144.2 292.0,144.2 291.0,144.2 290.0,144.1 289.3,144.1 288.5,144.1 287.5,144.0 286.5,144.0 285.5,144.0 284.5,144.0 283.5,144.0 282.5,144.0 281.5,143.9 280.5,143.9 279.5,143.9 278.5,143.9 277.5,143.9 276.5,143.9 275.5,143.9 274.5,143.9 273.5,143.9 272.5,143.9 271.5,144.0 270.5,144.0 269.5,144.1 268.5,144.1 268.0,144.1 267.0,144.2 266.0,144.2 265.0,144.2 264.0,144.2 263.0,144.2 262.0,144.2 261.0,144.2 260.0,144.2 259.0,144.1 258.5,144.1 257.5,144.0 256.5,143.9 255.5,143.8 254.5,143.8 253.5,143.7 252.5,143.7 251.5,143.6 250.5,143.6 249.5,143.6 248.5,143.6 247.5,143.7 246.5,143.7 245.5,143.8 244.5,143.8 243.5,143.9 242.5,144.0 241.7,144.1 241.0,144.2 240.0,144.3 239.0,144.4 238.0,144.5 237.0,144.5 236.0,144.6 235.5,144.6 234.5,144.6 233.6,144.6 233.0,144.6 232.0,144.5 231.0,144.5 230.0,144.4 229.0,144.4 228.0,144.3 227.0,144.3 226.0,144.3 225.0,144.3 224.0,144.2 223.0,144.2 222.0,144.2 221.0,144.2 220.0,144.2 219.0,144.2 218.0,144.2 217.0,144.2 216.0,144.2 215.0,144.3 214.0,144.3 213.0,144.3 212.0,144.3 211.0,144.3 210.0,144.3 209.0,144.2 208.0,144.2 207.0,144.1 206.5,144.1 205.5,144.0 204.5,143.9 203.5,143.9 202.5,143.8 201.5,143.8 200.5,143.8 199.5,143.7 198.5,143.7 197.5,143.7 196.5,143.7 195.5,143.7 194.5,143.6 193.5,143.6 192.6,143.6 192.0,143.6 191.0,143.6 190.0,143.5 189.0,143.5 188.0,143.4 187.0,143.3 186.0,143.2 185.0,143.2 184.3,143.1 183.5,143.0 182.5,142.9 181.5,142.9 180.5,142.8 179.6,142.6 179.0,142.3 178.5,141.9 178.0,141.5 177.5,140.6 177.4,140.1 177.1,139.1 177.0,138.6 176.9,137.6 177.0,136.6 177.0,136.1 177.1,135.1 177.2,134.1 177.2,133.1 177.2,132.1 177.2,131.1 177.2,130.1 177.2,129.1 177.2,128.1 177.2,127.1 177.2,126.1 177.1,125.1 177.1,124.1 177.1,123.1 177.2,122.1 177.3,121.1 177.4,120.1 177.5,119.1 177.5,118.1 177.5,117.5 177.5,116.6 177.7,115.6 177.8,114.6 178.0,113.8 178.1,113.1 178.2,112.1 178.2,111.1 178.3,110.1 178.3,109.1 178.4,108.1 178.4,107.1 178.5,106.1 178.5,105.6 178.6,104.6 178.7,103.6 178.8,102.6 179.0,101.7 179.2,101.1 179.5,100.4 180.0,99.7 180.5,99.4 181.3,99.1 182.0,98.9 183.0,98.7 184.0,98.6 185.0,98.7 186.0,98.8 187.0,98.9 188.0,98.8 189.0,98.9 190.0,99.0 190.5,99.1 191.5,99.3 192.5,99.5 193.2,99.6 194.0,99.7 194.5,99.6 195.5,99.5 196.5,99.4 197.5,99.3 198.5,99.3 199.5,99.2 200.5,99.2 201.5,99.2 202.5,99.2 203.5,99.2 204.5,99.2 205.5,99.3 206.5,99.3 207.5,99.4 208.5,99.4 209.5,99.5 210.5,99.6 211.2,99.6 212.0,99.7 213.0,99.7 214.0,99.8 215.0,99.7 215.5,99.6 216.5,99.4 217.5,99.2 218.2,99.1 219.0,99.0 220.0,98.8 221.0,98.7 221.5,98.6 222.5,98.4 223.5,98.3 224.5,98.1 225.5,98.1 226.5,98.1 227.1,98.1 228.0,98.1 229.0,98.1 230.0,98.1 230.5,98.1 231.5,98.3 232.5,98.6 233.0,98.7 234.0,99.1 234.5,99.2 235.5,99.6 236.0,99.7 237.0,99.8 238.0,99.8 239.0,99.8 240.0,99.9 241.0,99.9 242.0,99.9 243.0,99.9 244.0,99.9 245.0,99.9 246.0,100.0 247.0,100.0 248.0,99.8 248.5,99.5 249.3,99.1 250.0,98.6 250.5,98.3 251.5,98.5 252.0,98.7 253.0,98.9 254.0,98.8 255.0,98.8 256.0,98.8 257.0,98.8 258.0,98.8 259.0,98.8 260.0,98.7 260.5,98.5 261.1,98.1 262.0,97.7 262.5,97.4 263.5,97.4 264.5,97.4 265.5,97.4 266.5,97.4 267.5,97.3 268.5,97.3 269.5,97.3 270.5,97.3 271.5,97.3 272.5,97.3 273.5,97.3 274.5,97.3 275.5,97.4 276.5,97.5 277.2,97.6 278.0,97.8 279.0,98.0 279.5,98.2 280.5,98.6 281.0,98.7 282.0,99.0 282.6,99.1 283.5,99.3 284.5,99.4 285.5,99.4 286.5,99.5 287.5,99.5 288.5,99.5 289.5,99.4 290.5,99.4 291.5,99.3 292.5,99.2 293.3,99.1 294.0,99.0 295.0,98.8 295.9,98.6 296.5,98.5 297.5,98.3 298.3,98.1 299.0,98.0 300.0,97.9 301.0,97.8 302.0,97.7 303.0,97.7 304.0,97.7 305.0,97.8 306.0,97.8 307.0,97.7 308.0,97.6 308.5,97.6 309.5,97.5 310.5,97.5 311.5,97.4 312.5,97.3 313.5,97.2Z" stroke="#18e8a8" stroke-width="1.25"/>
<path d="M267.4,99.1 268.0,99.0 269.0,98.9 270.0,98.9 271.0,98.8 272.0,98.8 273.0,98.8 274.0,99.0 274.8,99.1 275.5,99.4 276.0,99.8 276.5,100.3 277.0,100.8 277.5,101.1 278.5,101.5 279.0,101.7 280.0,101.9 281.0,102.0 282.0,101.9 283.0,101.9 284.0,101.8 285.0,101.8 286.0,101.8 287.0,101.7 288.0,101.7 289.0,101.7 290.0,101.7 291.0,101.7 292.0,101.7 293.0,101.6 294.0,101.6 294.5,101.6 295.5,101.5 296.5,101.5 297.5,101.4 298.5,101.4 299.5,101.4 300.5,101.4 301.5,101.4 302.5,101.4 303.5,101.5 304.1,101.6 305.0,101.7 306.0,101.7 306.5,101.6 307.5,101.2 308.0,100.9 308.5,100.6 309.1,100.1 310.0,99.6 310.5,99.5 311.5,99.3 312.5,99.1 313.0,99.0 314.0,99.0 315.0,98.9 316.0,98.8 317.0,98.8 318.0,98.9 318.5,99.1 319.4,99.6 320.0,99.9 320.5,100.2 321.2,100.6 322.0,101.1 322.5,101.3 323.5,101.6 324.0,101.8 325.0,102.1 325.5,102.3 326.0,102.8 326.4,103.6 326.6,104.1 326.7,105.1 326.7,106.1 326.7,107.1 326.8,108.1 326.9,109.1 327.0,109.8 327.1,110.6 327.1,111.6 327.1,112.6 327.1,113.6 327.1,114.6 327.1,115.6 327.1,116.6 327.2,117.6 327.3,118.6 327.5,119.6 327.5,120.1 327.6,121.1 327.5,122.1 327.5,122.6 327.4,123.6 327.3,124.6 327.2,125.6 327.3,126.6 327.4,127.6 327.6,128.1 327.8,129.1 327.8,130.1 327.7,131.1 327.6,132.1 327.5,133.0 327.4,133.6 327.3,134.6 327.2,135.6 327.1,136.6 327.1,137.6 327.2,138.6 327.1,139.6 327.0,140.4 326.8,141.1 326.3,141.6 325.5,142.1 325.0,142.3 324.0,142.5 323.5,142.6 322.5,142.8 321.5,143.0 321.0,143.1 320.0,143.3 319.0,143.4 318.0,143.6 317.5,143.7 316.5,143.7 315.5,143.8 314.5,143.9 313.5,143.9 312.5,143.9 311.5,143.9 310.5,143.9 309.5,143.9 308.5,143.9 307.5,143.9 306.5,143.9 305.5,143.8 304.5,143.8 303.5,143.8 302.5,143.8 301.5,143.8 300.5,143.7 299.5,143.7 298.5,143.7 297.5,143.7 296.5,143.7 295.5,143.7 294.5,143.7 293.5,143.7 292.5,143.6 291.5,143.6 291.0,143.6 290.0,143.6 289.0,143.5 288.0,143.5 287.0,143.5 286.0,143.5 285.0,143.5 284.0,143.5 283.0,143.4 282.0,143.4 281.0,143.4 280.0,143.4 279.0,143.3 278.0,143.3 277.0,143.3 276.0,143.3 275.0,143.3 274.0,143.3 273.0,143.3 272.0,143.3 271.0,143.4 270.0,143.4 269.0,143.5 268.0,143.5 267.0,143.6 266.5,143.6 265.5,143.7 264.5,143.7 263.5,143.7 262.5,143.7 261.5,143.7 260.5,143.6 259.8,143.6 259.0,143.6 258.0,143.5 257.0,143.4 256.0,143.3 255.0,143.3 254.0,143.2 253.0,143.2 252.0,143.1 251.0,143.1 250.0,143.1 249.0,143.1 248.0,143.1 247.0,143.2 246.0,143.2 245.0,143.3 244.0,143.3 243.0,143.4 242.0,143.4 241.0,143.5 240.0,143.6 239.4,143.6 238.5,143.7 237.5,143.7 236.5,143.7 235.5,143.8 234.5,143.8 233.5,143.7 232.5,143.7 231.5,143.6 231.0,143.6 230.0,143.5 229.0,143.5 228.0,143.4 227.0,143.4 226.0,143.3 225.0,143.3 224.0,143.2 223.0,143.2 222.0,143.2 221.0,143.1 220.5,143.1 219.5,143.1 218.5,143.1 217.5,143.0 216.5,143.0 215.5,143.0 214.5,143.1 213.5,143.1 213.0,143.1 212.0,143.2 211.0,143.2 210.0,143.3 209.0,143.3 208.0,143.4 207.0,143.4 206.0,143.4 205.0,143.4 204.0,143.4 203.0,143.3 202.0,143.3 201.0,143.3 200.0,143.3 199.0,143.3 198.0,143.3 197.0,143.3 196.0,143.3 195.0,143.3 194.0,143.3 193.0,143.3 192.0,143.2 191.0,143.2 190.0,143.2 189.2,143.1 188.5,143.0 187.5,142.9 186.5,142.9 185.5,142.8 184.5,142.7 183.5,142.6 183.0,142.5 182.0,142.4 181.0,142.4 180.0,142.2 179.5,142.1 178.9,141.6 178.5,141.1 178.1,140.1 178.0,139.6 177.7,138.6 177.5,137.6 177.5,137.1 177.5,136.6 177.6,135.6 177.6,134.6 177.7,133.6 177.7,132.6 177.7,131.6 177.6,130.6 177.6,129.6 177.6,128.6 177.7,127.6 177.7,126.6 177.7,125.6 177.7,124.6 177.7,123.6 177.8,122.6 177.9,121.6 178.0,120.9 178.1,120.1 178.1,119.1 178.1,118.1 178.2,117.1 178.2,116.1 178.4,115.1 178.5,114.2 178.6,113.6 178.7,112.6 178.8,111.6 178.8,110.6 178.9,109.6 178.9,108.6 179.0,107.6 179.0,107.1 179.1,106.1 179.3,105.1 179.4,104.1 179.5,103.6 179.8,102.6 180.0,102.1 181.0,101.6 181.5,101.5 182.5,101.3 183.5,101.1 184.0,101.1 184.5,101.1 185.5,101.2 186.5,101.2 187.5,101.2 188.5,101.2 189.5,101.3 190.5,101.4 191.4,101.6 192.0,101.7 193.0,101.9 194.0,102.0 195.0,102.0 196.0,101.9 197.0,101.8 198.0,101.8 199.0,101.8 200.0,101.9 201.0,101.9 202.0,101.9 203.0,101.9 204.0,101.9 205.0,101.8 206.0,101.7 207.0,101.6 207.5,101.6 208.5,101.5 209.5,101.4 210.5,101.4 211.5,101.4 212.5,101.4 213.5,101.5 214.5,101.5 215.5,101.3 216.5,101.2 217.0,101.1 218.0,100.9 219.0,100.6 219.5,100.5 220.5,100.2 221.0,100.1 222.0,99.9 223.0,99.7 223.5,99.6 224.5,99.5 225.5,99.4 226.5,99.4 227.5,99.4 228.5,99.4 229.5,99.4 230.5,99.5 231.4,99.6 232.0,99.7 233.0,100.0 233.5,100.2 234.5,100.6 235.0,100.8 235.7,101.1 236.5,101.4 237.5,101.5 238.5,101.5 239.5,101.6 240.0,101.6 241.0,101.7 242.0,101.8 243.0,101.8 244.0,101.9 245.0,101.9 246.0,101.9 247.0,101.9 248.0,101.7 248.5,101.4 249.1,101.1 250.0,100.7 250.5,100.5 251.5,100.6 252.0,100.8 253.0,100.8 254.0,100.8 255.0,100.8 256.0,100.8 257.0,100.8 258.0,100.8 259.0,100.8 260.0,100.7 260.5,100.5 261.4,100.1 262.0,99.8 262.5,99.6 263.5,99.5 264.5,99.5 265.5,99.4 266.5,99.3Z" stroke="#22dc4a" stroke-width="1.25"/>
<path d="M225.5,101.1 226.5,101.0 227.5,101.0 228.5,100.9 229.5,100.9 230.5,100.9 231.5,101.1 232.0,101.3 232.6,101.6 233.5,102.1 234.0,102.4 234.5,102.6 235.3,103.1 236.0,103.4 236.9,103.6 237.5,103.6 238.5,103.7 239.5,103.8 240.5,103.9 241.5,104.0 242.5,104.1 243.0,104.1 244.0,104.2 245.0,104.2 246.0,104.2 247.0,104.2 248.0,104.1 248.5,103.9 249.3,103.6 250.0,103.1 250.5,102.8 251.5,103.0 252.0,103.4 253.0,103.6 254.0,103.6 255.0,103.5 256.0,103.5 257.0,103.4 258.0,103.3 259.0,103.3 259.7,103.1 260.5,102.7 261.0,102.3 261.5,102.1 262.5,101.7 263.0,101.6 263.5,101.6 264.5,101.7 265.5,101.8 266.5,101.9 267.5,101.9 268.5,102.0 269.4,102.1 270.0,102.2 271.0,102.4 272.0,102.5 272.5,102.6 273.5,102.8 274.5,103.0 275.0,103.1 276.0,103.4 276.9,103.6 277.5,103.8 278.5,104.0 279.0,104.2 280.0,104.4 281.0,104.5 282.0,104.5 283.0,104.5 284.0,104.5 285.0,104.5 286.0,104.5 287.0,104.5 288.0,104.4 289.0,104.4 290.0,104.3 291.0,104.3 292.0,104.3 293.0,104.2 294.0,104.2 295.0,104.1 295.5,104.1 296.5,104.0 297.5,103.9 298.5,103.8 299.5,103.8 300.5,103.7 301.5,103.6 302.3,103.6 303.0,103.6 304.0,103.6 305.0,103.6 306.0,103.5 307.0,103.4 308.0,103.2 308.7,103.1 309.5,102.9 310.5,102.7 311.0,102.6 312.0,102.3 312.8,102.1 313.5,101.9 314.5,101.6 315.0,101.5 316.0,101.4 317.0,101.3 318.0,101.3 318.8,101.6 319.5,101.9 320.0,102.2 320.8,102.6 321.5,103.1 322.0,103.4 322.7,103.6 323.5,103.8 324.5,104.1 325.0,104.3 325.5,104.7 325.8,105.6 325.9,106.6 326.0,107.3 326.1,108.1 326.3,109.1 326.5,110.1 326.6,110.6 326.6,111.6 326.6,112.6 326.6,113.6 326.6,114.6 326.6,115.6 326.6,116.6 326.7,117.6 326.8,118.6 326.9,119.6 327.0,120.1 327.0,121.1 327.0,122.0 326.9,122.6 326.8,123.6 326.7,124.6 326.6,125.6 326.6,126.6 326.7,127.6 327.0,128.6 327.1,129.1 327.2,130.1 327.1,131.1 327.0,132.0 326.9,132.6 326.8,133.6 326.7,134.6 326.6,135.6 326.5,136.3 326.5,137.1 326.5,137.8 326.5,138.6 326.5,139.5 326.4,140.1 326.0,141.1 325.5,141.5 325.0,141.7 324.0,141.9 323.1,142.1 322.5,142.2 321.5,142.4 320.5,142.5 319.6,142.6 319.0,142.7 318.0,142.8 317.0,142.9 316.0,142.9 315.0,142.9 314.0,143.0 313.0,143.0 312.0,143.0 311.0,143.0 310.0,143.1 309.0,143.1 308.0,143.1 307.0,143.0 306.0,143.0 305.0,143.0 304.0,143.0 303.0,142.9 302.0,142.9 301.0,142.9 300.0,142.9 299.0,142.9 298.0,142.9 297.0,143.0 296.0,143.0 295.0,143.0 294.0,143.0 293.0,143.0 292.0,143.0 291.0,143.0 290.0,143.0 289.0,143.0 288.0,143.0 287.0,142.9 286.0,142.9 285.0,142.9 284.0,142.9 283.0,142.9 282.0,142.8 281.0,142.8 280.0,142.7 279.0,142.7 278.0,142.7 277.0,142.6 276.2,142.6 275.5,142.6 274.5,142.6 273.5,142.6 272.5,142.6 272.0,142.6 271.0,142.7 270.0,142.7 269.0,142.8 268.0,142.8 267.0,142.9 266.0,143.0 265.0,143.0 264.0,143.1 263.2,143.1 262.5,143.1 261.9,143.1 261.0,143.1 260.0,143.0 259.0,143.0 258.0,142.9 257.0,142.9 256.0,142.8 255.0,142.8 254.0,142.7 253.0,142.7 252.0,142.7 251.0,142.6 250.0,142.6 249.0,142.7 248.0,142.7 247.0,142.7 246.0,142.7 245.0,142.7 244.0,142.8 243.0,142.8 242.0,142.8 241.0,142.9 240.0,142.9 239.0,142.9 238.0,142.9 237.0,143.0 236.0,143.0 235.0,142.9 234.0,142.9 233.0,142.9 232.0,142.8 231.0,142.8 230.0,142.7 229.0,142.7 228.0,142.7 227.0,142.6 226.1,142.6 225.5,142.6 224.5,142.6 223.5,142.5 222.5,142.5 221.5,142.5 220.5,142.5 219.5,142.5 218.5,142.5 217.5,142.5 216.5,142.5 215.5,142.5 214.5,142.5 213.5,142.5 212.5,142.5 211.5,142.6 211.0,142.6 210.0,142.7 209.0,142.7 208.0,142.8 207.0,142.8 206.0,142.8 205.0,142.8 204.0,142.9 203.0,142.9 202.0,142.9 201.0,142.9 200.0,142.9 199.0,142.9 198.0,142.9 197.0,142.9 196.0,142.9 195.0,142.9 194.0,142.9 193.0,142.9 192.0,142.9 191.0,142.9 190.0,142.8 189.0,142.7 188.0,142.6 187.5,142.6 186.5,142.5 185.5,142.4 184.5,142.3 183.5,142.2 183.0,142.1 182.0,142.0 181.0,141.9 180.0,141.7 179.5,141.5 179.0,140.8 178.7,140.1 178.5,139.4 178.3,138.6 178.0,137.6 178.0,136.6 178.0,135.6 178.1,134.6 178.1,133.6 178.1,132.6 178.1,131.6 178.1,130.6 178.1,129.6 178.1,128.6 178.1,127.6 178.2,126.6 178.2,125.6 178.2,124.6 178.3,123.6 178.3,122.6 178.5,121.6 178.6,121.1 178.7,120.1 178.7,119.1 178.7,118.1 178.8,117.1 178.8,116.1 178.9,115.1 179.0,114.4 179.1,113.6 179.3,112.6 179.3,111.6 179.4,110.6 179.4,109.6 179.5,108.8 179.6,108.1 179.7,107.1 179.8,106.1 180.0,105.4 180.5,104.7 181.0,104.4 181.5,104.1 182.5,103.6 183.0,103.4 184.0,103.1 184.5,103.1 185.5,103.1 186.5,103.0 187.5,103.0 188.5,102.9 189.5,103.0 190.2,103.1 191.0,103.3 192.0,103.5 192.5,103.6 193.5,103.8 194.5,103.9 195.5,103.9 196.5,103.9 197.5,103.9 198.5,104.0 199.5,104.0 200.5,104.1 201.0,104.1 202.0,104.1 203.0,104.1 204.0,104.1 204.5,104.1 205.5,104.0 206.5,103.9 207.5,103.7 208.0,103.6 209.0,103.4 210.0,103.2 211.0,103.1 211.5,103.1 212.5,103.0 213.5,103.0 214.5,103.0 215.5,102.9 216.5,102.8 217.5,102.7 218.3,102.6 219.0,102.5 220.0,102.4 221.0,102.2 221.5,102.1 222.5,101.8 223.2,101.6 224.0,101.3 225.0,101.2Z" stroke="#5ce01e" stroke-width="1.25"/>
<path d="M225.0,103.6 225.0,103.6 226.0,103.6 227.0,103.6 228.0,103.6 229.0,103.6 230.0,103.6 231.0,103.7 232.0,104.0 232.5,104.3 233.2,104.6 234.0,105.0 234.5,105.3 235.1,105.6 236.0,106.0 236.5,106.1 237.5,106.2 238.5,106.2 239.5,106.2 240.5,106.1 241.5,106.1 242.0,106.1 243.0,106.0 244.0,106.0 245.0,105.9 246.0,105.9 247.0,105.9 248.0,105.8 248.8,105.6 249.5,105.4 250.5,105.1 251.0,105.1 251.5,105.2 252.5,105.5 253.5,105.6 254.5,105.6 255.5,105.6 256.5,105.6 257.5,105.6 258.5,105.5 259.5,105.5 260.5,105.2 261.0,105.0 261.8,104.6 262.5,104.2 263.0,104.1 264.0,104.0 265.0,104.1 265.9,104.1 266.5,104.1 267.5,104.2 268.5,104.2 269.5,104.4 270.5,104.6 271.0,104.7 272.0,104.9 273.0,105.1 273.5,105.2 274.5,105.4 275.3,105.6 276.0,105.8 277.0,106.1 277.5,106.2 278.5,106.4 279.5,106.6 280.0,106.6 281.0,106.6 281.5,106.6 282.5,106.5 283.5,106.4 284.5,106.2 285.5,106.1 286.0,106.1 287.0,106.0 288.0,105.9 289.0,105.9 290.0,105.8 291.0,105.8 292.0,105.8 293.0,105.8 294.0,105.8 295.0,105.8 296.0,105.8 297.0,105.8 298.0,105.8 299.0,105.8 300.0,105.8 301.0,105.9 302.0,105.9 303.0,105.8 304.0,105.8 305.0,105.8 306.0,105.8 307.0,105.7 307.7,105.6 308.5,105.5 309.5,105.3 310.4,105.1 311.0,104.9 311.9,104.6 312.5,104.4 313.5,104.1 314.0,104.0 315.0,103.8 316.0,103.6 316.5,103.6 317.5,103.5 318.0,103.7 318.6,104.1 319.0,104.6 319.4,105.6 319.5,106.1 319.8,107.1 320.1,107.6 320.5,108.1 321.2,108.6 322.0,108.9 322.5,109.1 323.5,109.3 324.5,109.5 325.0,109.7 325.6,110.1 325.9,111.1 326.0,112.1 326.0,113.1 326.0,113.9 326.0,114.6 326.0,115.6 326.0,116.1 326.0,116.9 326.0,117.6 326.2,118.6 326.4,119.6 326.5,120.6 326.4,121.6 326.3,122.6 326.2,123.6 326.0,124.6 325.9,125.1 325.8,126.1 325.8,127.1 326.0,128.1 326.1,128.6 326.3,129.6 326.4,130.6 326.2,131.6 326.1,132.6 326.1,133.6 326.0,134.6 326.0,135.1 325.8,136.1 325.7,137.1 325.8,138.1 325.8,139.1 325.6,140.1 325.4,140.6 324.7,141.1 324.0,141.3 323.0,141.5 322.5,141.6 321.5,141.7 320.5,141.9 319.5,141.9 318.5,142.0 317.5,142.1 316.5,142.1 315.5,142.1 314.5,142.1 313.5,142.1 312.5,142.1 312.0,142.1 311.0,142.1 310.0,142.1 309.0,142.2 308.0,142.2 307.0,142.2 306.0,142.2 305.0,142.2 304.0,142.2 303.0,142.2 302.0,142.2 301.0,142.2 300.0,142.2 299.0,142.2 298.0,142.2 297.0,142.2 296.0,142.2 295.0,142.2 294.0,142.3 293.0,142.3 292.0,142.3 291.0,142.3 290.0,142.3 289.0,142.3 288.0,142.3 287.0,142.3 286.0,142.3 285.0,142.3 284.0,142.3 283.0,142.2 282.0,142.2 281.0,142.1 280.5,142.1 279.5,142.0 278.5,142.0 277.5,141.9 276.5,141.9 275.5,141.9 274.5,141.8 273.5,141.8 272.5,141.8 271.5,141.9 270.5,141.9 269.5,141.9 268.5,142.0 267.5,142.1 267.0,142.1 266.0,142.2 265.0,142.3 264.0,142.3 263.0,142.4 262.0,142.4 261.0,142.4 260.0,142.4 259.0,142.4 258.0,142.3 257.0,142.3 256.0,142.3 255.0,142.2 254.0,142.2 253.0,142.2 252.0,142.1 251.0,142.1 250.0,142.1 249.0,142.1 248.0,142.1 247.0,142.2 246.0,142.2 245.0,142.2 244.0,142.2 243.0,142.2 242.0,142.2 241.0,142.2 240.0,142.2 239.0,142.2 238.0,142.2 237.0,142.2 236.0,142.2 235.0,142.2 234.0,142.1 233.0,142.1 232.0,142.1 231.2,142.1 230.5,142.1 229.5,142.1 228.5,142.1 227.5,142.1 226.5,142.1 225.5,142.0 224.5,142.0 223.5,142.0 222.5,142.0 221.5,142.0 220.5,142.0 219.5,142.0 218.5,142.0 217.5,142.0 216.5,142.0 215.5,142.0 214.5,142.0 213.5,142.0 212.5,142.1 212.0,142.1 211.0,142.1 210.0,142.2 209.0,142.2 208.0,142.3 207.0,142.3 206.0,142.4 205.0,142.4 204.0,142.4 203.0,142.4 202.0,142.5 201.0,142.5 200.0,142.5 199.0,142.5 198.0,142.6 197.0,142.6 196.0,142.6 195.0,142.6 194.0,142.6 193.0,142.6 192.0,142.5 191.0,142.5 190.0,142.5 189.0,142.4 188.0,142.2 187.0,142.1 186.5,142.0 185.5,141.9 184.5,141.8 183.5,141.7 183.0,141.5 182.0,141.3 181.0,141.2 180.5,141.1 179.7,140.6 179.4,140.1 179.0,139.1 178.8,138.6 178.6,137.6 178.5,137.1 178.5,136.1 178.5,135.1 178.5,134.3 178.5,133.6 178.5,132.6 178.5,132.1 178.5,131.1 178.5,130.1 178.5,129.1 178.5,128.3 178.5,127.6 178.6,126.6 178.7,125.6 178.8,124.6 178.8,123.6 178.9,122.6 179.0,122.1 179.2,121.1 179.3,120.1 179.3,119.1 179.3,118.1 179.4,117.1 179.4,116.1 179.5,115.2 179.6,114.6 179.8,113.6 180.0,112.6 180.0,112.1 180.1,111.1 180.2,110.1 180.5,109.1 181.0,108.6 181.5,108.3 182.0,107.9 182.5,107.5 183.0,107.0 183.5,106.4 184.0,106.0 184.7,105.6 185.5,105.4 186.5,105.1 187.0,105.0 188.0,104.8 189.0,104.8 190.0,104.9 191.0,105.1 191.5,105.2 192.5,105.4 193.5,105.6 194.0,105.7 195.0,105.7 196.0,105.7 197.0,105.8 198.0,105.8 199.0,105.8 200.0,105.9 201.0,105.9 202.0,106.0 203.0,106.0 204.0,106.1 205.0,106.1 206.0,106.1 207.0,106.0 208.0,106.0 209.0,105.9 210.0,105.7 211.0,105.6 211.5,105.5 212.5,105.4 213.5,105.3 214.5,105.1 215.0,105.0 216.0,104.8 217.0,104.6 217.5,104.5 218.5,104.4 219.5,104.2 220.5,104.1 221.0,104.0 222.0,103.9 223.0,103.8 224.0,103.6Z" stroke="#aee814" stroke-width="1.25"/>
<path d="M217.6,106.6 218.5,106.5 219.5,106.3 220.5,106.2 221.5,106.2 222.5,106.2 223.5,106.3 224.5,106.4 225.2,106.6 226.0,106.8 227.0,107.0 227.5,107.1 228.5,107.2 229.5,107.3 230.5,107.3 231.5,107.4 232.3,107.6 233.0,107.7 234.0,107.9 235.0,108.1 235.5,108.1 236.5,108.2 237.5,108.2 238.5,108.2 239.5,108.2 240.3,108.1 241.0,108.0 242.0,108.0 243.0,107.9 244.0,107.8 245.0,107.7 246.0,107.7 247.0,107.7 248.0,107.8 249.0,107.6 249.5,107.5 250.5,107.4 251.2,107.6 252.0,108.1 252.5,108.3 253.5,108.5 254.5,108.6 255.5,108.5 256.5,108.5 257.5,108.4 258.5,108.3 259.5,108.1 260.0,107.9 260.5,107.6 261.1,107.1 262.0,106.7 262.5,106.5 263.5,106.4 264.5,106.4 265.5,106.5 266.5,106.5 267.3,106.6 268.0,106.7 269.0,106.9 269.8,107.1 270.5,107.3 271.5,107.6 272.0,107.7 273.0,107.9 274.0,108.1 274.5,108.2 275.5,108.3 276.5,108.3 277.5,108.4 278.5,108.4 279.5,108.4 280.5,108.4 281.5,108.4 282.5,108.3 283.5,108.3 284.5,108.2 285.5,108.1 286.0,108.1 287.0,108.0 288.0,107.9 289.0,107.8 290.0,107.7 291.0,107.7 291.9,107.6 292.5,107.6 293.5,107.5 294.5,107.5 295.5,107.5 296.5,107.5 297.5,107.5 298.5,107.5 299.5,107.5 300.5,107.5 301.5,107.5 302.5,107.5 303.5,107.5 304.5,107.5 305.5,107.5 306.5,107.5 307.5,107.6 308.4,107.6 309.0,107.6 310.0,107.7 311.0,107.9 312.0,108.1 312.5,108.2 313.5,108.3 314.5,108.5 315.4,108.6 316.0,108.7 317.0,108.8 318.0,108.9 318.5,109.1 319.4,109.6 320.0,109.9 320.5,110.2 321.2,110.6 322.0,111.0 322.5,111.4 323.0,111.8 323.5,112.2 324.0,113.0 324.3,113.6 324.5,114.1 324.8,115.1 324.9,116.1 325.0,117.1 325.1,117.6 325.4,118.6 325.5,119.1 325.7,120.1 325.7,121.1 325.7,122.1 325.5,123.1 325.4,123.6 325.2,124.6 325.0,125.6 325.0,126.4 325.0,126.6 325.1,127.6 325.3,128.6 325.4,129.6 325.4,130.6 325.3,131.6 325.2,132.6 325.1,133.6 325.1,134.6 325.0,135.1 324.5,136.0 324.2,136.6 324.1,137.6 324.3,138.6 324.1,139.6 323.7,140.1 323.1,140.6 322.5,140.8 321.5,141.1 321.0,141.2 320.0,141.3 319.0,141.3 318.0,141.4 317.0,141.4 316.0,141.3 315.0,141.3 314.0,141.3 313.0,141.3 312.0,141.3 311.0,141.3 310.0,141.3 309.0,141.4 308.0,141.4 307.0,141.4 306.0,141.4 305.0,141.4 304.0,141.4 303.0,141.4 302.0,141.4 301.0,141.4 300.0,141.4 299.0,141.4 298.0,141.4 297.0,141.4 296.0,141.4 295.0,141.4 294.0,141.5 293.0,141.5 292.0,141.6 291.0,141.6 290.5,141.6 289.5,141.6 288.5,141.6 287.5,141.6 286.5,141.6 285.5,141.6 284.6,141.6 284.0,141.6 283.0,141.5 282.0,141.5 281.0,141.4 280.0,141.4 279.0,141.3 278.0,141.3 277.0,141.3 276.0,141.2 275.0,141.2 274.0,141.2 273.0,141.2 272.0,141.2 271.0,141.2 270.0,141.2 269.0,141.2 268.0,141.2 267.0,141.3 266.0,141.4 265.0,141.5 264.0,141.5 263.0,141.6 262.5,141.6 261.5,141.7 260.5,141.7 259.5,141.7 258.5,141.7 257.5,141.7 256.5,141.7 255.5,141.6 254.5,141.6 253.9,141.6 253.0,141.6 252.0,141.6 251.0,141.5 250.0,141.5 249.0,141.5 248.0,141.5 247.0,141.5 246.0,141.5 245.0,141.5 244.0,141.5 243.0,141.5 242.0,141.5 241.0,141.5 240.0,141.5 239.0,141.4 238.0,141.4 237.0,141.4 236.0,141.4 235.0,141.4 234.0,141.4 233.0,141.4 232.0,141.5 231.0,141.5 230.0,141.5 229.0,141.5 228.0,141.5 227.0,141.5 226.0,141.5 225.0,141.5 224.0,141.5 223.0,141.5 222.0,141.5 221.0,141.5 220.0,141.5 219.0,141.5 218.0,141.5 217.0,141.5 216.0,141.5 215.0,141.5 214.0,141.5 213.0,141.6 212.4,141.6 211.5,141.6 210.5,141.7 209.5,141.7 208.5,141.8 207.5,141.8 206.5,141.9 205.5,141.9 204.5,141.9 203.5,142.0 202.5,142.0 201.5,142.0 200.5,142.1 199.8,142.1 199.0,142.1 198.0,142.1 197.0,142.2 196.0,142.2 195.0,142.2 194.0,142.2 193.0,142.2 192.0,142.1 191.0,142.1 190.5,142.1 189.5,142.0 188.5,141.8 187.5,141.6 187.0,141.5 186.0,141.2 185.3,141.1 184.5,140.7 184.0,140.4 183.5,140.1 182.5,139.6 182.0,139.5 181.0,139.3 180.5,139.1 179.7,138.6 179.4,138.1 179.1,137.1 179.0,136.2 179.0,135.6 179.0,134.6 179.0,134.1 179.0,133.1 179.0,132.5 179.0,131.6 178.9,130.6 178.9,129.6 179.0,128.6 179.0,127.8 179.1,127.1 179.2,126.1 179.3,125.1 179.4,124.1 179.5,123.2 179.6,122.6 179.8,121.6 180.0,120.7 180.2,120.1 180.3,119.1 180.4,118.1 180.4,117.1 180.5,116.6 180.9,115.6 181.2,115.1 181.6,114.6 182.0,114.1 182.6,113.6 183.2,113.1 183.7,112.6 184.0,112.1 184.3,111.1 184.5,110.5 185.0,110.0 185.7,109.6 186.5,109.2 187.0,109.0 187.6,108.6 188.3,108.1 189.0,107.7 189.5,107.6 190.5,107.6 191.0,107.6 192.0,107.7 193.0,107.8 194.0,107.8 195.0,107.9 196.0,107.9 197.0,107.9 198.0,108.0 199.0,108.0 200.0,108.0 201.0,108.0 202.0,108.0 203.0,107.9 204.0,107.9 205.0,107.9 206.0,107.8 207.0,107.8 208.0,107.8 209.0,107.7 210.0,107.7 211.0,107.6 211.5,107.6 212.5,107.5 213.5,107.4 214.5,107.2 215.1,107.1 216.0,106.9 217.0,106.7Z" stroke="#f0e614" stroke-width="1.25"/>
<path d="M217.6,109.6 218.5,109.5 219.5,109.5 220.5,109.5 221.5,109.5 222.5,109.5 223.5,109.6 224.0,109.6 225.0,109.7 226.0,109.8 227.0,109.9 228.0,109.9 229.0,109.9 230.0,109.9 231.0,110.0 232.0,110.0 233.0,110.1 233.8,110.1 234.5,110.1 235.5,110.2 236.5,110.2 237.5,110.2 238.5,110.2 239.5,110.2 240.5,110.2 241.5,110.2 242.5,110.3 243.5,110.5 244.3,110.6 245.0,110.7 246.0,111.0 246.8,111.1 247.5,111.2 248.5,111.2 249.5,111.2 250.5,111.1 251.0,111.1 252.0,111.1 253.0,111.0 254.0,110.9 255.0,110.7 256.0,110.6 256.5,110.6 257.5,110.5 258.5,110.4 259.5,110.3 260.5,110.2 261.3,110.1 262.0,110.0 263.0,109.9 264.0,109.8 265.0,109.8 266.0,109.8 267.0,109.7 268.0,109.7 269.0,109.7 270.0,109.8 271.0,109.8 272.0,109.8 273.0,109.9 274.0,109.9 275.0,109.9 276.0,109.9 277.0,109.9 278.0,109.9 279.0,109.9 280.0,109.9 281.0,109.9 282.0,109.9 283.0,110.0 284.0,110.1 284.5,110.1 285.5,110.4 286.4,110.6 287.0,110.7 288.0,110.9 289.0,110.9 290.0,111.0 291.0,111.0 292.0,111.0 293.0,111.0 294.0,110.9 295.0,110.9 296.0,110.8 297.0,110.8 298.0,110.7 299.0,110.7 300.0,110.6 300.5,110.6 301.5,110.5 302.5,110.4 303.5,110.3 304.5,110.3 305.5,110.2 306.5,110.1 307.3,110.1 308.0,110.1 309.0,110.1 310.0,110.1 310.5,110.1 311.5,110.2 312.5,110.2 313.5,110.3 314.5,110.4 315.5,110.5 316.0,110.6 317.0,110.7 318.0,110.9 318.6,111.1 319.1,111.6 319.5,112.1 320.0,112.9 320.5,113.6 320.9,114.1 321.3,114.6 321.7,115.1 322.0,115.7 322.2,116.6 322.5,117.4 322.8,118.1 323.2,118.6 323.5,119.1 324.0,119.9 324.3,120.6 324.4,121.6 324.2,122.6 324.0,123.6 323.9,124.1 323.5,125.1 323.3,125.6 323.2,126.6 323.5,127.6 323.7,128.1 324.0,128.7 324.2,129.6 324.2,130.6 324.0,131.4 323.8,132.1 323.5,133.1 323.4,133.6 323.2,134.6 323.0,135.1 322.5,135.6 321.9,136.1 321.4,136.6 321.0,137.4 321.0,137.9 321.2,138.6 321.0,139.5 320.5,139.9 320.0,140.1 319.0,140.3 318.0,140.5 317.0,140.4 316.0,140.4 315.0,140.3 314.0,140.3 313.0,140.3 312.0,140.3 311.0,140.3 310.0,140.3 309.0,140.4 308.0,140.5 307.0,140.5 306.0,140.6 305.0,140.6 304.0,140.6 303.0,140.6 302.0,140.5 301.0,140.5 300.0,140.5 299.0,140.4 298.0,140.4 297.0,140.4 296.0,140.4 295.0,140.4 294.0,140.4 293.0,140.4 292.0,140.5 291.0,140.5 290.0,140.6 289.5,140.6 288.5,140.6 287.5,140.6 286.5,140.6 285.5,140.6 284.9,140.6 284.0,140.6 283.0,140.5 282.0,140.5 281.0,140.4 280.0,140.4 279.0,140.4 278.0,140.4 277.0,140.4 276.0,140.4 275.0,140.4 274.0,140.4 273.0,140.4 272.0,140.3 271.0,140.3 270.0,140.3 269.0,140.3 268.0,140.4 267.0,140.4 266.0,140.5 265.0,140.6 264.5,140.6 263.5,140.7 262.5,140.8 261.5,140.9 260.5,140.9 259.5,141.0 258.5,141.0 257.5,141.0 256.5,140.9 255.5,140.9 254.5,140.9 253.5,140.8 252.5,140.8 251.5,140.8 250.5,140.8 249.5,140.8 248.5,140.7 247.5,140.7 246.5,140.7 245.5,140.7 244.5,140.7 243.5,140.7 242.5,140.7 241.5,140.7 240.5,140.7 239.5,140.7 238.5,140.7 237.5,140.7 236.5,140.7 235.5,140.7 234.5,140.7 233.5,140.7 232.5,140.7 231.5,140.8 230.5,140.8 229.5,140.8 228.5,140.9 227.5,140.9 226.5,140.9 225.5,140.9 224.5,140.9 223.5,140.9 222.5,140.8 221.5,140.8 220.5,140.8 219.5,140.8 218.5,140.7 217.5,140.7 216.5,140.7 215.5,140.7 214.5,140.7 213.5,140.8 212.5,140.8 211.5,140.8 210.5,140.9 209.5,141.0 208.5,141.0 207.5,141.1 207.0,141.1 206.0,141.1 205.0,141.2 204.0,141.2 203.0,141.2 202.0,141.2 201.0,141.2 200.0,141.2 199.0,141.2 198.0,141.3 197.0,141.3 196.0,141.4 195.0,141.4 194.0,141.4 193.0,141.3 192.0,141.3 191.0,141.2 190.0,141.1 189.5,140.8 189.0,140.2 188.5,139.7 188.0,139.4 187.5,139.1 186.5,138.8 185.5,138.6 185.0,138.5 184.0,138.2 183.5,137.9 182.6,137.6 182.0,137.4 181.3,137.1 180.9,136.6 180.8,135.6 181.0,134.6 181.2,134.1 181.5,133.5 181.6,132.6 181.4,132.1 181.0,131.4 180.6,130.6 180.4,130.1 180.1,129.1 180.0,128.1 180.2,127.1 180.5,126.3 180.8,125.6 181.0,124.9 181.2,124.1 181.5,123.4 181.9,122.6 182.2,122.1 182.5,121.5 183.0,120.6 183.2,120.1 183.4,119.1 183.5,118.6 183.8,117.6 184.0,117.1 184.5,116.3 184.9,115.6 185.3,115.1 185.8,114.6 186.4,114.1 187.0,113.6 187.5,113.1 188.0,112.6 188.4,112.1 188.7,111.6 189.1,111.1 190.0,110.8 191.0,110.8 192.0,110.8 193.0,110.9 194.0,110.9 195.0,110.9 196.0,110.9 197.0,110.9 198.0,110.9 199.0,110.9 200.0,110.9 201.0,110.8 202.0,110.8 203.0,110.7 204.0,110.7 204.6,110.6 205.5,110.5 206.5,110.4 207.5,110.3 208.5,110.2 209.5,110.2 210.5,110.1 211.0,110.1 212.0,110.1 213.0,110.0 214.0,110.0 215.0,109.9 216.0,109.7 217.0,109.6Z" stroke="#ffc030" stroke-width="1.25"/>
<path d="M265.2,112.6 266.0,112.5 267.0,112.5 268.0,112.4 269.0,112.4 270.0,112.4 271.0,112.4 272.0,112.5 273.0,112.5 274.0,112.6 275.0,112.6 275.5,112.6 276.5,112.7 277.5,112.7 278.5,112.8 279.5,112.9 280.5,113.0 281.5,113.0 282.5,113.1 283.0,113.1 284.0,113.2 285.0,113.2 286.0,113.2 287.0,113.2 288.0,113.1 288.7,113.1 289.5,113.1 290.5,113.0 291.5,112.9 292.5,112.9 293.5,112.8 294.5,112.8 295.5,112.7 296.5,112.6 297.0,112.6 298.0,112.5 299.0,112.5 300.0,112.4 301.0,112.4 302.0,112.3 303.0,112.3 304.0,112.3 305.0,112.2 306.0,112.3 307.0,112.3 308.0,112.5 308.5,112.6 309.5,113.0 310.0,113.2 310.8,113.6 311.5,113.9 312.0,114.2 313.0,114.5 313.5,114.6 314.5,114.8 315.5,115.0 316.3,115.1 317.0,115.2 318.0,115.3 318.7,115.6 319.1,116.1 319.5,117.1 319.6,117.6 320.0,118.6 320.2,119.1 320.5,119.9 320.8,120.6 321.0,121.6 321.1,122.1 321.1,123.1 321.0,123.8 320.7,124.6 320.5,125.2 320.2,126.1 320.2,127.1 320.5,127.9 320.8,128.6 321.0,129.1 321.1,130.1 321.0,130.8 320.8,131.6 320.6,132.6 320.5,133.5 320.4,134.1 320.0,135.1 319.5,135.6 319.0,135.8 318.0,136.0 317.0,136.0 316.5,136.1 315.5,136.2 314.5,136.3 313.5,136.5 312.5,136.6 312.0,136.6 311.0,136.8 310.0,137.0 309.4,137.1 308.5,137.4 307.9,137.6 307.0,137.9 306.5,138.1 305.5,138.4 304.6,138.6 304.0,138.7 303.0,138.7 302.0,138.8 301.0,138.8 300.0,138.8 299.0,138.8 298.0,138.8 297.0,138.7 296.0,138.7 295.0,138.6 294.5,138.6 293.5,138.5 292.5,138.4 291.5,138.2 291.0,138.1 290.0,137.9 289.0,137.7 288.2,137.6 287.5,137.5 286.5,137.5 285.5,137.4 284.5,137.5 283.5,137.5 282.5,137.6 281.9,137.6 281.0,137.7 280.0,137.8 279.0,138.0 278.0,138.1 277.5,138.2 276.5,138.3 275.5,138.4 274.5,138.4 273.5,138.4 272.5,138.4 271.5,138.4 270.5,138.4 269.5,138.4 268.5,138.4 267.5,138.4 266.5,138.5 265.5,138.5 264.5,138.5 263.5,138.6 263.0,138.6 262.0,138.7 261.0,138.7 260.0,138.8 259.0,138.8 258.0,138.9 257.0,138.9 256.0,139.0 255.0,139.1 254.2,139.1 253.5,139.1 252.5,139.1 251.5,139.2 250.5,139.2 249.5,139.2 248.5,139.2 247.5,139.2 246.5,139.2 245.5,139.1 244.5,139.1 243.9,139.1 243.0,139.1 242.0,139.0 241.0,139.0 240.0,138.9 239.0,138.9 238.0,138.9 237.0,138.9 236.0,138.9 235.0,138.9 234.0,139.0 233.0,139.1 232.5,139.1 231.5,139.2 230.5,139.3 229.5,139.4 228.5,139.4 227.5,139.4 226.5,139.4 225.5,139.4 224.5,139.3 223.5,139.2 222.9,139.1 222.0,138.9 221.0,138.8 220.0,138.6 219.5,138.5 218.5,138.3 217.5,138.2 216.5,138.1 215.8,138.1 215.0,138.1 214.0,138.0 213.0,138.0 212.0,138.0 211.0,138.0 210.0,137.9 209.0,137.9 208.0,137.8 207.0,137.7 206.0,137.6 205.5,137.6 204.5,137.5 203.5,137.4 202.5,137.3 201.5,137.3 200.5,137.2 199.5,137.2 198.5,137.2 197.5,137.3 196.5,137.4 195.5,137.5 194.5,137.6 194.0,137.7 193.0,137.8 192.0,137.9 191.0,138.0 190.0,138.0 189.0,137.9 188.3,137.6 187.5,137.2 187.0,137.0 186.0,136.6 185.5,136.3 185.0,135.7 185.0,135.4 185.4,134.6 186.0,134.1 186.5,133.7 186.9,133.1 186.9,132.1 186.5,131.5 186.0,131.0 185.5,130.5 185.0,129.8 184.6,129.1 184.4,128.6 184.3,127.6 184.5,126.9 184.8,126.1 185.0,125.5 185.3,124.6 185.5,123.6 185.7,123.1 186.0,122.4 186.4,121.6 186.6,121.1 187.0,120.2 187.2,119.6 187.5,118.6 187.7,118.1 188.0,117.6 188.5,116.9 189.0,116.4 189.5,116.0 190.5,115.6 191.0,115.5 192.0,115.2 192.5,115.0 193.5,114.7 194.0,114.6 195.0,114.3 195.9,114.1 196.5,114.0 197.5,113.9 198.5,113.9 199.5,113.9 200.5,113.9 201.5,114.0 202.5,114.1 203.0,114.1 204.0,114.2 205.0,114.3 206.0,114.3 207.0,114.4 208.0,114.4 209.0,114.4 210.0,114.4 211.0,114.4 212.0,114.4 213.0,114.5 214.0,114.5 214.8,114.6 215.5,114.7 216.5,114.8 217.5,115.0 218.0,115.1 219.0,115.4 219.9,115.6 220.5,115.7 221.5,115.9 222.5,116.0 223.5,116.0 224.5,116.0 225.5,116.0 226.5,116.0 227.5,116.0 228.5,116.0 229.5,116.0 230.5,116.0 231.4,116.1 232.0,116.1 233.0,116.2 234.0,116.3 235.0,116.3 236.0,116.3 237.0,116.3 238.0,116.2 239.0,116.1 239.5,116.0 240.5,115.9 241.5,115.8 242.5,115.8 243.5,115.8 244.5,115.9 245.5,116.0 246.4,116.1 247.0,116.2 248.0,116.2 249.0,116.3 250.0,116.2 251.0,116.1 251.5,116.1 252.5,115.8 253.0,115.5 253.6,115.1 254.1,114.6 254.9,114.1 255.5,113.9 256.5,113.6 257.0,113.6 258.0,113.4 259.0,113.3 260.0,113.3 261.0,113.1 261.5,113.0 262.5,112.9 263.5,112.8 264.5,112.7Z" stroke="#f6851f" stroke-width="1.35"/>
<path d="M485.9,94.6 485.7,95.6 485.4,96.2 485.0,97.1 484.9,97.6 484.9,98.4 485.1,99.1 485.4,99.6 485.9,100.3 486.3,101.1 486.4,102.1 486.2,103.1 486.2,104.1 486.2,105.1 486.3,106.1 486.4,106.9 486.5,107.6 486.7,108.6 486.7,109.6 486.6,110.6 486.5,111.6 486.5,112.6 486.4,113.6 486.5,114.6 486.5,115.6 486.6,116.6 486.6,117.6 486.6,118.6 486.9,119.6 487.0,120.1 487.3,121.1 487.3,122.1 487.2,123.1 486.9,124.1 486.7,124.6 486.4,125.4 486.1,126.1 486.0,127.1 486.1,128.1 486.3,129.1 486.4,129.8 486.5,130.6 486.5,131.6 486.4,132.6 486.4,133.1 486.4,134.1 486.4,134.6 486.6,135.6 486.6,136.6 486.6,137.6 486.4,138.6 486.4,139.1 486.3,140.1 486.4,141.1 486.1,142.1 485.8,142.6 485.2,143.1 484.6,143.6 484.2,144.1 483.9,144.6 483.6,145.6 483.4,146.1 482.9,146.9 482.6,147.1M338.4,108.4 338.6,107.6 338.9,106.9 339.1,106.1 339.2,105.1 339.3,104.1 339.3,103.1 339.3,102.1 339.3,101.1 339.4,100.5 339.6,99.6 339.9,98.6 339.9,98.1 339.9,97.3 339.9,96.6 339.9,96.1 340.4,95.1 340.7,94.6M353.5,147.1 352.9,147.1 351.9,147.0 350.9,146.9 349.9,146.9 348.9,146.8 347.9,146.7 347.0,146.6 346.4,146.6 345.4,146.5 344.4,146.4 343.4,146.3 342.7,146.1 341.9,145.8 341.4,145.5 340.9,144.8 340.6,144.1 340.4,143.1 340.3,142.6 339.9,141.7 339.6,141.1 339.3,140.6 339.0,139.6 338.9,138.6 338.9,137.6 339.0,136.6 339.1,135.6 339.2,134.6 339.3,133.6 339.4,133.0 339.5,132.1 339.5,131.1 339.4,130.6 339.3,129.6 339.1,128.6 339.0,127.6 339.0,126.6 338.9,125.8 338.8,125.1 338.6,124.1 338.5,123.1 338.5,122.1 338.6,121.1 338.6,120.1 338.7,119.1 338.8,118.1 338.7,117.1 338.5,116.1 338.4,115.4M480.8,147.1 479.9,146.9 478.9,146.8 477.9,146.6 477.4,146.6 476.4,146.5 475.4,146.4 474.4,146.3 473.4,146.2 472.4,146.1 471.4,146.1 470.4,146.1 469.4,146.1 468.4,146.1 467.4,146.2 466.4,146.2 465.4,146.3 464.4,146.3 463.4,146.3 462.4,146.3 461.4,146.3 460.4,146.3 459.4,146.3 458.4,146.3 457.4,146.3 456.4,146.3 455.4,146.3 454.4,146.3 453.4,146.3 452.4,146.3 451.4,146.3 450.4,146.3 449.4,146.3 448.4,146.3 447.4,146.3 446.4,146.3 445.4,146.2 444.4,146.2 443.4,146.1 442.9,146.1 441.9,146.1 440.9,146.0 439.9,146.0 438.9,146.0 437.9,145.9 436.9,145.9 435.9,145.8 434.9,145.8 433.9,145.7 432.9,145.7 431.9,145.7 430.9,145.7 429.9,145.7 428.9,145.7 427.9,145.7 426.9,145.7 425.9,145.8 424.9,145.8 423.9,145.8 422.9,145.9 421.9,145.9 420.9,145.9 419.9,145.9 418.9,146.0 417.9,146.0 416.9,146.0 415.9,146.0 414.9,146.1 414.1,146.1 413.4,146.1 412.4,146.2 411.4,146.2 410.4,146.2 409.4,146.2 408.4,146.2 407.4,146.2 406.4,146.2 405.4,146.2 404.4,146.2 403.4,146.2 402.4,146.2 401.4,146.2 400.4,146.2 399.4,146.2 398.4,146.1 397.5,146.1 396.9,146.1 395.9,146.0 394.9,146.0 393.9,146.0 392.9,145.9 391.9,145.9 390.9,145.9 389.9,146.0 388.9,146.0 387.9,146.1 387.4,146.1 386.4,146.3 385.4,146.4 384.4,146.6 383.9,146.7 382.9,146.9 382.2,147.1" stroke="#3f8cff" stroke-width="1.25"/>
<path d="M380.9,94.6 381.4,94.7 382.4,94.8 383.4,94.9 384.4,94.9 385.4,94.9 386.4,94.9 387.4,94.8 388.4,94.8 389.4,94.7 390.4,94.7 391.4,94.7 392.4,94.7 393.4,94.7 393.6,94.6M431.4,94.6 431.9,94.8 432.9,94.9 433.9,94.7 434.5,94.6M482.8,94.6 483.0,95.1 483.1,96.1 483.1,97.1 483.2,98.1 483.4,98.7 483.8,99.6 484.1,100.1 484.4,100.6 484.8,101.6 484.9,102.1 485.0,103.1 485.0,104.1 485.1,105.1 485.2,106.1 485.4,107.1 485.5,107.6 485.7,108.6 485.8,109.6 485.7,110.6 485.6,111.6 485.6,112.6 485.6,113.6 485.6,114.6 485.6,115.6 485.6,116.6 485.6,117.6 485.6,118.6 485.8,119.6 486.0,120.1 486.2,121.1 486.1,122.1 485.9,123.0 485.7,123.6 485.4,124.2 484.9,125.1 484.7,125.6 484.4,126.4 484.3,127.1 484.4,128.1 484.5,128.6 484.7,129.6 484.9,130.4 485.0,131.1 485.1,132.1 485.1,133.1 485.2,134.1 485.4,134.9 485.6,135.6 485.7,136.6 485.5,137.6 485.4,138.1 485.0,139.1 484.9,139.9 484.9,140.6 484.7,141.6 484.4,142.1 483.9,142.9 483.5,143.6 483.3,144.1 482.9,144.7 482.4,145.3 481.4,145.5 480.4,145.5 479.4,145.5 478.4,145.5 477.4,145.5 476.4,145.5 475.4,145.5 474.4,145.4 473.4,145.4 472.4,145.4 471.4,145.4 470.4,145.3 469.4,145.3 468.4,145.3 467.4,145.3 466.4,145.3 465.4,145.3 464.4,145.3 463.4,145.2 462.4,145.2 461.4,145.2 460.4,145.2 459.4,145.1 458.4,145.1 457.9,145.1 456.9,145.1 455.9,145.1 455.4,145.1 454.4,145.1 453.4,145.2 452.4,145.2 451.4,145.2 450.4,145.2 449.4,145.2 448.4,145.3 447.4,145.3 446.4,145.3 445.4,145.3 444.4,145.3 443.4,145.3 442.4,145.3 441.4,145.2 440.4,145.2 439.4,145.2 438.4,145.2 437.4,145.1 436.4,145.1 435.9,145.1 434.9,145.1 433.9,145.0 432.9,145.0 431.9,145.0 430.9,145.0 429.9,145.0 428.9,145.0 427.9,145.0 426.9,145.0 425.9,145.0 424.9,145.0 423.9,145.1 422.9,145.1 422.2,145.1 421.4,145.1 420.4,145.1 419.4,145.2 418.4,145.2 417.4,145.2 416.4,145.3 415.4,145.3 414.4,145.4 413.4,145.4 412.4,145.5 411.4,145.5 410.4,145.5 409.4,145.5 408.4,145.5 407.4,145.5 406.4,145.5 405.4,145.5 404.4,145.5 403.4,145.5 402.4,145.4 401.4,145.4 400.4,145.4 399.4,145.4 398.4,145.3 397.4,145.3 396.4,145.3 395.4,145.2 394.4,145.2 393.4,145.2 392.4,145.2 391.4,145.2 390.4,145.2 389.4,145.3 388.4,145.3 387.4,145.4 386.4,145.4 385.4,145.5 384.4,145.6 383.9,145.7 382.9,145.8 381.9,145.9 380.9,146.0 380.4,146.1 379.4,146.3 378.4,146.4 377.4,146.6 376.9,146.7 375.9,146.8 374.9,146.9 373.9,147.0 372.9,147.0 371.9,147.0 370.9,146.9 369.9,146.7 369.1,146.6 368.4,146.5 367.4,146.3 366.4,146.2 365.6,146.1 364.9,146.1 363.9,146.0 362.9,146.0 361.9,146.0 360.9,146.0 359.9,146.0 358.9,146.0 357.9,146.0 356.9,146.0 355.9,146.0 354.9,146.0 353.9,146.0 352.9,146.0 351.9,146.0 350.9,146.0 349.9,145.9 348.9,145.8 347.9,145.8 346.9,145.7 346.1,145.6 345.4,145.5 344.4,145.4 343.4,145.2 342.9,144.9 342.4,144.5 341.9,143.8 341.6,143.1 341.4,142.6 340.9,141.7 340.6,141.1 340.3,140.6 340.0,139.6 339.9,139.1 339.8,138.1 339.8,137.1 339.8,136.1 339.9,135.1 339.9,134.6 340.0,133.6 340.1,132.6 340.1,131.6 340.0,130.6 339.9,130.0 339.7,129.1 339.6,128.1 339.5,127.1 339.4,126.1 339.4,125.6 339.3,124.6 339.1,123.6 339.1,122.6 339.1,121.6 339.1,120.6 339.2,119.6 339.4,118.6 339.4,117.8 339.4,117.5 339.3,116.6 339.2,115.6 339.1,114.6 339.1,113.6 339.1,112.6 339.2,111.6 339.2,110.6 339.2,109.6 339.3,108.6 339.4,108.1 339.8,107.1 339.9,106.6 340.2,105.6 340.4,104.7 340.5,104.1 340.6,103.1 340.7,102.1 340.7,101.1 340.9,100.6 341.4,100.0 341.9,99.4 342.3,98.6 342.5,98.1 342.6,97.1 342.8,96.1 343.0,95.6 343.4,95.1 343.8,94.6" stroke="#35b0ff" stroke-width="1.25"/>
<path d="M348.3,95.6 348.9,95.5 349.9,95.4 350.9,95.3 351.9,95.2 352.9,95.2 353.9,95.3 354.7,95.6 355.4,95.8 356.4,95.8 357.4,95.8 358.4,95.8 359.4,95.8 360.4,95.8 361.4,95.8 362.4,95.8 363.4,95.8 364.4,95.9 365.4,95.9 366.4,96.0 367.4,95.7 367.9,95.6 368.9,95.5 369.9,95.5 370.9,95.6 371.4,95.6 372.4,95.7 373.4,95.8 374.4,95.9 375.4,96.0 376.1,96.1 376.9,96.2 377.9,96.4 378.8,96.6 379.4,96.7 380.1,97.1 380.6,97.6 381.4,97.9 382.4,97.9 383.4,97.9 384.4,97.7 385.1,97.6 385.9,97.4 386.9,97.1 387.4,97.0 388.4,96.8 389.4,96.7 390.0,96.6 390.9,96.5 391.9,96.5 392.9,96.4 393.9,96.3 394.9,96.2 395.9,96.2 396.9,96.2 397.9,96.3 398.9,96.3 399.9,96.4 400.9,96.4 401.9,96.5 402.9,96.5 403.9,96.5 404.9,96.5 405.9,96.5 406.9,96.4 407.9,96.3 408.9,96.1 409.4,96.1 410.4,95.9 411.4,95.8 412.4,95.7 413.4,95.7 414.4,95.7 415.4,95.8 416.4,95.9 417.4,96.1 417.9,96.1 418.9,96.3 419.9,96.5 420.9,96.6 421.4,96.6 422.4,96.7 423.4,96.8 424.4,96.8 425.4,96.8 426.4,96.7 427.4,96.6 427.9,96.6 428.9,96.5 429.9,96.5 430.4,96.6 431.4,97.1 431.9,97.4 432.4,97.6 433.4,97.7 434.4,97.6 435.1,97.6 435.9,97.5 436.9,97.5 437.9,97.3 438.9,97.2 439.8,97.1 440.4,97.0 441.4,96.9 442.4,96.8 443.4,96.8 444.4,96.8 445.4,96.9 446.4,96.9 447.4,96.9 448.4,96.6 448.9,96.4 449.7,96.1 450.4,96.0 451.4,96.0 452.4,96.0 453.4,95.9 454.4,95.9 455.4,95.8 456.4,95.7 457.4,95.6 457.9,95.6 458.9,95.5 459.9,95.4 460.9,95.2 461.9,95.3 462.4,95.8 462.9,96.4 463.4,96.9 463.9,97.2 464.9,97.3 465.9,97.3 466.9,97.4 467.9,97.4 468.9,97.4 469.9,97.5 470.9,97.5 471.9,97.5 472.9,97.5 473.9,97.5 474.9,97.5 475.9,97.6 476.9,97.4 477.4,97.1 478.4,96.6 479.4,96.9 479.9,97.2 480.4,97.6 481.0,98.1 481.5,98.6 482.0,99.1 482.4,99.6 482.9,100.3 483.3,101.1 483.5,101.6 483.8,102.6 483.9,103.3 484.0,104.1 484.2,105.1 484.3,106.1 484.4,106.6 484.7,107.6 484.9,108.5 485.0,109.1 485.0,110.1 484.9,110.8 484.9,111.6 484.9,112.6 484.8,113.6 484.8,114.6 484.8,115.6 484.8,116.6 484.7,117.6 484.6,118.6 484.7,119.6 484.8,120.6 484.8,121.6 484.5,122.6 484.4,123.1 484.0,124.1 483.8,124.6 483.5,125.6 483.4,126.1 483.3,127.1 483.3,128.1 483.3,129.1 483.4,130.1 483.5,130.6 483.6,131.6 483.6,132.6 483.7,133.6 483.8,134.6 483.9,135.5 484.0,136.1 484.0,137.1 483.9,138.1 483.9,138.6 483.8,139.6 483.8,140.6 483.8,141.6 483.4,142.6 483.2,143.1 482.9,143.6 482.4,144.2 481.4,144.5 480.4,144.6 479.9,144.6 478.9,144.7 477.9,144.7 476.9,144.8 475.9,144.8 474.9,144.8 473.9,144.8 472.9,144.8 471.9,144.8 470.9,144.7 469.9,144.7 468.9,144.6 468.4,144.6 467.4,144.5 466.4,144.5 465.4,144.4 464.4,144.4 463.4,144.3 462.4,144.3 461.4,144.2 460.4,144.2 459.4,144.1 458.6,144.1 457.9,144.1 456.9,144.1 455.9,144.1 454.9,144.1 453.9,144.1 453.2,144.1 452.4,144.1 451.4,144.2 450.4,144.2 449.4,144.3 448.4,144.3 447.4,144.3 446.4,144.4 445.4,144.4 444.4,144.5 443.4,144.5 442.4,144.5 441.4,144.6 440.4,144.6 439.4,144.6 438.4,144.6 437.4,144.6 436.4,144.5 435.4,144.5 434.4,144.5 433.4,144.5 432.4,144.5 431.4,144.5 430.4,144.4 429.4,144.4 428.4,144.4 427.4,144.4 426.4,144.4 425.4,144.4 424.4,144.4 423.4,144.4 422.4,144.4 421.4,144.4 420.4,144.4 419.4,144.4 418.4,144.4 417.4,144.4 416.4,144.5 415.4,144.5 414.4,144.6 413.4,144.6 412.9,144.6 411.9,144.6 410.9,144.7 409.9,144.7 408.9,144.7 407.9,144.7 406.9,144.7 405.9,144.7 404.9,144.6 403.9,144.6 402.9,144.6 401.9,144.6 401.4,144.6 400.4,144.6 399.4,144.6 398.4,144.6 397.4,144.6 396.4,144.6 395.4,144.6 394.4,144.6 393.4,144.6 392.4,144.6 391.4,144.6 390.8,144.6 389.9,144.6 388.9,144.7 387.9,144.7 386.9,144.7 385.9,144.8 384.9,144.8 383.9,144.9 382.9,144.9 381.9,145.0 380.9,145.0 379.9,145.0 378.9,145.1 377.9,145.1 376.9,145.1 376.4,145.1 375.4,145.1 374.4,145.1 373.4,145.1 372.4,145.1 371.4,145.1 370.8,145.1 369.9,145.1 368.9,145.1 367.9,145.1 366.9,145.1 365.9,145.1 364.9,145.1 363.9,145.1 362.9,145.1 361.9,145.1 360.9,145.1 359.9,145.1 358.9,145.1 358.0,145.1 357.4,145.1 356.4,145.1 355.8,145.1 354.9,145.1 353.9,145.1 352.9,145.1 352.4,145.1 351.4,145.1 350.5,145.1 349.9,145.1 348.9,144.9 347.9,144.8 346.9,144.8 345.9,144.6 345.4,144.5 344.4,144.4 343.6,144.1 343.1,143.6 342.8,143.1 342.4,142.5 341.9,141.8 341.4,141.1 341.1,140.6 340.9,140.1 340.7,139.1 340.6,138.1 340.5,137.1 340.5,136.1 340.6,135.1 340.6,134.1 340.7,133.1 340.7,132.1 340.7,131.1 340.6,130.1 340.4,129.3 340.3,128.6 340.1,127.6 340.1,126.6 340.0,125.6 339.9,125.1 339.7,124.1 339.6,123.1 339.6,122.1 339.6,121.1 339.7,120.1 339.9,119.1 339.9,118.6 340.0,117.6 340.0,116.6 339.9,115.8 339.8,115.1 339.8,114.1 339.9,113.1 339.9,112.6 340.0,111.6 340.1,110.6 340.1,109.6 340.3,108.6 340.5,108.1 340.9,107.4 341.4,106.7 341.7,106.1 341.9,105.5 342.1,104.6 342.2,103.6 342.3,102.6 342.4,101.7 342.5,101.1 342.9,100.1 343.2,99.6 343.6,99.1 344.2,98.6 344.9,98.2 345.4,98.0 345.9,97.6 346.2,96.6 346.8,96.1 347.4,95.9Z" stroke="#14dcf0" stroke-width="1.25"/>
<path d="M393.4,98.1 394.4,97.8 395.4,97.8 396.4,97.9 397.4,98.1 397.9,98.1 398.9,98.3 399.9,98.5 400.6,98.6 401.4,98.7 402.4,98.8 403.4,98.9 404.4,98.9 405.4,99.0 406.4,99.0 407.4,99.0 408.4,98.9 409.4,98.8 410.4,98.7 411.0,98.6 411.9,98.5 412.9,98.3 413.9,98.2 414.9,98.2 415.9,98.2 416.9,98.3 417.9,98.4 418.9,98.5 419.4,98.6 420.4,98.7 421.4,98.9 422.4,99.0 423.0,99.1 423.9,99.2 424.9,99.2 425.9,99.3 426.9,99.3 427.9,99.3 428.9,99.3 429.9,99.3 430.9,99.5 431.4,99.6 432.4,99.8 433.4,99.8 434.4,99.7 435.4,99.7 436.4,99.7 437.4,99.6 438.4,99.6 438.9,99.6 439.9,99.5 440.9,99.5 441.9,99.5 442.9,99.4 443.9,99.4 444.9,99.3 445.9,99.3 446.9,99.2 447.5,99.1 448.4,98.7 448.9,98.4 449.6,98.1 450.4,97.9 451.4,97.9 452.4,97.9 453.4,97.9 454.4,97.9 455.4,98.0 456.2,98.1 456.9,98.2 457.9,98.4 458.9,98.6 459.4,98.7 460.4,98.8 461.4,98.9 462.0,99.1 462.9,99.5 463.4,99.7 464.4,99.8 465.4,99.8 466.4,99.8 467.4,99.8 468.4,99.8 469.4,99.8 470.4,99.8 471.4,99.8 472.4,99.8 473.4,99.8 474.4,99.8 475.4,99.9 476.4,99.9 477.2,99.6 477.9,99.4 478.9,99.5 479.4,99.6 480.4,100.0 480.9,100.3 481.4,100.6 482.0,101.1 482.4,101.7 482.7,102.6 482.9,103.6 483.0,104.1 483.1,105.1 483.3,106.1 483.4,106.7 483.7,107.6 483.9,108.1 484.2,109.1 484.2,110.1 484.2,111.1 484.2,112.1 484.2,113.1 484.2,114.1 484.2,115.1 484.2,116.1 484.1,117.1 484.0,118.1 484.0,119.1 484.0,120.1 483.9,121.1 483.9,121.6 483.7,122.6 483.4,123.5 483.3,124.1 483.0,125.1 482.9,125.8 482.8,126.6 482.8,127.6 482.8,128.6 482.8,129.6 482.9,130.6 482.9,131.1 483.0,132.1 483.1,133.1 483.2,134.1 483.3,135.1 483.4,136.1 483.4,136.9 483.4,137.4 483.4,138.1 483.4,139.1 483.4,140.1 483.4,141.1 483.2,142.1 482.9,142.8 482.4,143.4 481.9,143.6 480.9,143.8 479.9,143.9 478.9,144.0 477.9,144.1 477.4,144.2 476.4,144.2 475.4,144.3 474.4,144.3 473.4,144.3 472.4,144.2 471.4,144.2 470.4,144.2 469.4,144.1 468.9,144.1 467.9,144.0 466.9,143.9 465.9,143.9 464.9,143.8 463.9,143.7 462.9,143.7 461.9,143.6 461.4,143.6 460.4,143.6 459.4,143.5 458.4,143.5 457.4,143.5 456.4,143.5 455.4,143.5 454.4,143.5 453.4,143.5 452.4,143.5 451.4,143.6 450.4,143.6 449.9,143.6 448.9,143.7 447.9,143.7 446.9,143.8 445.9,143.8 444.9,143.9 443.9,143.9 442.9,144.0 441.9,144.0 440.9,144.1 439.9,144.1 439.0,144.1 438.4,144.1 437.4,144.1 436.4,144.1 435.9,144.1 434.9,144.1 433.9,144.1 432.9,144.0 431.9,144.0 430.9,144.0 429.9,144.0 428.9,144.0 427.9,143.9 426.9,143.9 425.9,143.9 424.9,143.9 423.9,143.8 422.9,143.8 421.9,143.8 420.9,143.7 419.9,143.7 418.9,143.7 417.9,143.7 416.9,143.7 415.9,143.7 414.9,143.8 413.9,143.8 412.9,143.8 411.9,143.9 410.9,143.9 409.9,143.9 408.9,143.9 407.9,143.9 406.9,143.9 405.9,143.9 404.9,143.9 403.9,143.9 402.9,143.9 401.9,143.9 400.9,143.9 399.9,143.9 398.9,143.9 397.9,143.9 396.9,143.9 395.9,143.9 394.9,144.0 393.9,144.0 392.9,144.0 391.9,144.0 390.9,144.0 389.9,144.1 388.9,144.1 388.4,144.1 387.4,144.1 386.4,144.2 385.4,144.2 384.4,144.3 383.4,144.3 382.4,144.3 381.4,144.4 380.4,144.4 379.4,144.4 378.4,144.5 377.4,144.5 376.4,144.5 375.4,144.5 374.4,144.5 373.4,144.5 372.4,144.6 371.4,144.6 370.4,144.6 369.4,144.6 368.4,144.6 367.4,144.5 366.4,144.5 365.4,144.5 364.4,144.5 363.4,144.5 362.4,144.5 361.4,144.5 360.4,144.5 359.4,144.5 358.4,144.5 357.4,144.5 356.4,144.5 355.4,144.4 354.4,144.4 353.4,144.4 352.4,144.4 351.4,144.4 350.4,144.3 349.4,144.2 348.9,144.1 347.9,143.9 346.9,143.8 346.1,143.6 345.4,143.4 344.4,143.1 343.9,142.9 343.4,142.4 342.9,141.8 342.4,141.2 341.9,140.6 341.7,140.1 341.5,139.1 341.4,138.6 341.3,137.6 341.2,136.6 341.1,135.6 341.2,134.6 341.2,133.6 341.3,132.6 341.3,131.6 341.2,130.6 341.1,129.6 340.9,128.6 340.9,128.1 340.8,127.1 340.7,126.1 340.5,125.1 340.4,124.4 340.3,123.6 340.2,122.6 340.1,121.6 340.2,120.6 340.4,119.7 340.5,119.1 340.7,118.1 340.7,117.1 340.7,116.1 340.6,115.1 340.6,114.1 340.8,113.1 340.9,112.6 341.1,111.6 341.3,110.6 341.4,110.1 341.7,109.1 341.9,108.6 342.3,107.6 342.5,107.1 342.8,106.1 342.9,105.6 343.1,104.6 343.3,103.6 343.4,103.1 343.6,102.1 343.8,101.1 344.2,100.6 344.9,100.2 345.4,100.1 346.4,99.7 346.9,99.6 347.9,99.4 348.9,99.2 349.7,99.1 350.4,99.0 351.4,98.9 352.4,98.7 353.4,98.6 354.4,98.8 355.4,99.0 356.4,99.0 357.4,98.9 358.4,98.8 359.4,98.7 360.4,98.7 361.4,98.7 362.4,98.7 363.4,98.7 364.4,98.8 365.4,98.8 366.4,98.8 367.4,98.7 367.9,98.5 368.9,98.4 369.9,98.5 370.7,98.6 371.4,98.7 372.4,98.8 373.4,98.9 374.4,99.1 374.9,99.1 375.9,99.3 376.9,99.4 377.9,99.5 378.9,99.6 379.4,99.6 380.4,99.8 381.4,99.8 382.4,99.8 383.4,99.7 384.4,99.7 385.2,99.6 385.9,99.5 386.9,99.4 387.9,99.3 388.9,99.1 389.4,99.0 390.4,98.8 391.1,98.6 391.9,98.4 392.9,98.2Z" stroke="#18e8a8" stroke-width="1.25"/>
<path d="M367.8,100.1 368.4,100.0 369.4,100.1 369.9,100.1 370.9,100.2 371.9,100.4 372.9,100.5 373.8,100.6 374.4,100.7 375.4,100.8 376.4,100.9 377.4,101.0 378.4,101.1 378.9,101.1 379.9,101.2 380.9,101.3 381.9,101.3 382.9,101.3 383.9,101.2 384.9,101.1 385.4,101.1 386.4,101.0 387.4,100.9 388.4,100.8 389.4,100.7 390.4,100.7 391.4,100.7 392.4,100.6 393.0,100.6 393.9,100.4 394.9,100.2 395.9,100.2 396.9,100.2 397.9,100.1 398.8,100.1 399.4,100.1 400.4,100.1 400.9,100.1 401.9,100.1 402.9,100.2 403.9,100.3 404.9,100.4 405.9,100.5 406.5,100.6 407.4,100.7 408.4,100.9 409.4,101.0 410.4,101.1 411.4,101.1 412.4,101.1 413.4,101.0 414.4,100.9 415.4,100.7 416.1,100.6 416.9,100.5 417.9,100.4 418.9,100.4 419.9,100.4 420.9,100.4 421.9,100.4 422.9,100.5 423.9,100.5 424.9,100.5 425.9,100.5 426.9,100.5 427.9,100.5 428.9,100.5 429.9,100.5 430.7,100.6 431.4,100.7 432.4,100.8 433.4,100.8 434.4,100.8 435.4,100.8 436.4,100.8 437.4,100.9 438.4,100.9 439.4,100.9 440.4,101.0 441.4,101.0 442.4,101.1 442.9,101.1 443.9,101.2 444.9,101.2 445.9,101.3 446.9,101.3 447.9,101.3 448.7,101.1 449.4,100.9 450.4,100.7 451.4,100.8 452.4,100.9 453.4,101.0 453.9,101.1 454.9,101.2 455.9,101.3 456.9,101.4 457.9,101.4 458.9,101.4 459.9,101.4 460.9,101.3 461.9,101.2 462.9,101.5 463.9,101.6 464.9,101.5 465.9,101.5 466.9,101.5 467.9,101.5 468.9,101.5 469.9,101.5 470.9,101.6 471.4,101.6 472.4,101.7 473.4,101.7 474.4,101.8 475.4,101.8 476.4,101.9 477.4,101.7 478.3,101.6 478.4,101.6 479.4,101.7 480.4,102.0 480.9,102.3 481.4,102.8 481.9,103.6 482.0,104.1 482.2,105.1 482.4,106.0 482.5,106.6 482.8,107.6 483.0,108.1 483.3,109.1 483.4,109.6 483.5,110.6 483.5,111.6 483.6,112.6 483.6,113.6 483.6,114.6 483.6,115.6 483.6,116.6 483.5,117.6 483.4,118.6 483.4,119.6 483.4,120.1 483.3,121.1 483.2,122.1 483.0,123.1 482.9,123.6 482.7,124.6 482.6,125.6 482.5,126.6 482.4,127.6 482.4,128.6 482.5,129.6 482.5,130.6 482.6,131.6 482.6,132.6 482.7,133.6 482.8,134.6 482.9,135.3 483.0,136.1 483.0,137.1 483.0,138.1 483.0,139.1 483.0,140.1 483.0,141.1 482.9,141.7 482.5,142.6 481.9,142.9 481.0,143.1 480.4,143.2 479.4,143.2 478.4,143.4 477.4,143.5 476.6,143.6 475.9,143.7 474.9,143.7 473.9,143.7 472.9,143.7 471.9,143.7 470.9,143.6 470.4,143.6 469.4,143.5 468.4,143.5 467.4,143.4 466.4,143.3 465.4,143.3 464.4,143.2 463.4,143.2 462.4,143.2 461.4,143.1 460.5,143.1 459.9,143.1 458.9,143.1 457.9,143.1 456.9,143.1 455.9,143.1 454.9,143.1 453.9,143.1 452.9,143.1 452.4,143.1 451.4,143.1 450.4,143.2 449.4,143.2 448.4,143.2 447.4,143.3 446.4,143.3 445.4,143.4 444.4,143.4 443.4,143.5 442.4,143.5 441.4,143.6 440.9,143.6 439.9,143.7 438.9,143.7 437.9,143.7 436.9,143.7 435.9,143.7 434.9,143.7 433.9,143.7 432.9,143.6 431.9,143.6 431.1,143.6 430.4,143.6 429.4,143.5 428.4,143.5 427.4,143.5 426.4,143.4 425.4,143.4 424.4,143.3 423.4,143.2 422.4,143.2 421.5,143.1 420.9,143.1 419.9,143.0 418.9,143.0 417.9,143.0 416.9,143.0 415.9,143.0 414.9,143.0 413.9,143.1 412.9,143.1 412.4,143.1 411.4,143.2 410.4,143.2 409.4,143.2 408.4,143.3 407.4,143.3 406.4,143.3 405.4,143.3 404.4,143.3 403.4,143.3 402.4,143.3 401.4,143.3 400.4,143.3 399.4,143.3 398.4,143.3 397.4,143.3 396.4,143.3 395.4,143.3 394.4,143.3 393.4,143.3 392.4,143.3 391.4,143.4 390.4,143.4 389.4,143.4 388.4,143.5 387.4,143.5 386.4,143.6 385.9,143.6 384.9,143.7 383.9,143.7 382.9,143.8 381.9,143.8 380.9,143.8 379.9,143.9 378.9,143.9 377.9,144.0 376.9,144.0 375.9,144.0 374.9,144.0 373.9,144.1 372.9,144.1 371.9,144.1 371.4,144.1 370.4,144.1 369.4,144.1 368.4,144.1 367.4,144.1 366.4,144.1 365.9,144.1 364.9,144.1 363.9,144.1 362.9,144.1 361.9,144.1 360.9,144.0 359.9,144.0 358.9,144.0 357.9,144.0 356.9,143.9 355.9,143.8 354.9,143.8 353.9,143.7 352.9,143.7 352.1,143.6 351.4,143.6 350.4,143.5 349.4,143.3 348.8,143.1 347.9,142.9 346.9,142.7 346.4,142.6 345.4,142.3 344.9,142.1 343.9,141.7 343.4,141.3 342.9,140.7 342.5,140.1 342.4,139.6 342.2,138.6 342.0,137.6 341.9,137.1 341.8,136.1 341.8,135.1 341.8,134.1 341.8,133.1 341.9,132.1 341.8,131.1 341.7,130.1 341.6,129.1 341.5,128.1 341.4,127.1 341.4,126.1 341.4,125.6 341.2,124.6 341.0,123.6 340.9,123.0 340.8,122.1 340.9,121.1 340.9,120.6 341.2,119.6 341.4,118.6 341.5,118.1 341.6,117.1 341.6,116.1 341.6,115.1 341.7,114.1 341.9,113.5 342.2,112.6 342.4,111.9 342.5,111.1 342.7,110.1 342.9,109.1 343.0,108.6 343.2,107.6 343.4,107.0 343.7,106.1 343.9,105.6 344.4,104.7 344.9,104.1 345.4,103.7 345.9,103.2 346.3,102.6 346.6,102.1 347.1,101.6 347.9,101.1 348.4,100.9 349.4,100.6 349.9,100.5 350.9,100.4 351.9,100.3 352.9,100.3 353.9,100.2 354.9,100.5 355.9,100.5 356.9,100.5 357.9,100.5 358.9,100.4 359.9,100.4 360.9,100.4 361.9,100.4 362.9,100.4 363.9,100.4 364.9,100.4 365.9,100.5 366.9,100.4Z" stroke="#22dc4a" stroke-width="1.25"/>
<path d="M353.3,102.1 353.9,102.0 354.4,102.2 355.2,102.6 355.9,102.7 356.4,102.5 357.4,102.4 358.4,102.4 359.4,102.5 359.9,102.6 360.9,103.1 361.4,103.2 362.4,103.4 363.4,103.5 364.4,103.6 364.9,103.6 365.9,103.7 366.9,103.7 367.4,103.5 368.4,103.3 369.4,103.3 370.4,103.3 371.4,103.2 372.4,103.2 373.4,103.1 373.9,103.1 374.9,103.0 375.9,102.9 376.9,102.8 377.9,102.8 378.9,102.8 379.9,102.8 380.9,102.9 381.9,102.9 382.9,102.9 383.9,102.8 384.9,102.8 385.9,102.8 386.9,102.8 387.9,102.7 388.9,102.7 389.9,102.7 390.9,102.7 391.9,102.8 392.9,102.8 393.9,102.7 394.4,102.6 395.4,102.5 396.4,102.4 397.4,102.3 398.4,102.2 399.4,102.2 400.2,102.1 400.9,102.1 401.9,102.1 402.6,102.1 403.4,102.2 404.4,102.3 405.4,102.4 406.4,102.5 407.0,102.6 407.9,102.7 408.9,102.8 409.9,102.8 410.9,102.9 411.9,102.9 412.9,102.9 413.9,102.9 414.9,102.8 415.9,102.8 416.9,102.8 417.9,102.7 418.9,102.7 419.9,102.6 420.4,102.5 421.4,102.4 422.4,102.3 423.4,102.1 423.9,102.1 424.9,101.9 425.9,101.8 426.9,101.7 427.9,101.7 428.9,101.6 429.9,101.6 430.9,101.7 431.9,101.9 432.9,102.0 433.9,102.0 434.9,102.1 435.9,102.1 436.4,102.1 437.4,102.2 438.4,102.3 439.4,102.3 440.4,102.4 441.4,102.5 442.1,102.6 442.9,102.7 443.9,102.9 444.9,103.0 445.6,103.1 446.4,103.3 447.4,103.4 448.4,103.3 449.1,103.1 449.9,103.0 450.8,103.1 451.4,103.2 452.4,103.5 453.0,103.6 453.9,103.8 454.9,104.0 455.8,104.1 456.4,104.2 457.4,104.2 458.4,104.3 459.4,104.2 460.4,104.1 460.9,104.0 461.9,103.8 462.9,103.9 463.9,103.8 464.7,103.6 465.4,103.4 466.4,103.2 467.2,103.1 467.9,103.0 468.9,103.0 469.9,103.0 470.9,103.0 471.9,103.1 472.4,103.1 473.4,103.2 474.4,103.2 475.4,103.3 476.4,103.4 477.4,103.3 478.4,103.4 479.1,103.6 479.9,104.1 480.4,104.6 480.7,105.1 480.9,105.6 481.3,106.6 481.6,107.1 481.9,107.6 482.4,108.6 482.6,109.1 482.7,110.1 482.8,111.1 482.9,111.7 483.0,112.6 483.0,113.6 483.1,114.6 483.1,115.6 483.1,116.6 483.0,117.6 483.0,118.6 482.9,119.6 482.9,120.6 482.9,121.1 482.8,122.1 482.6,123.1 482.4,124.1 482.4,124.6 482.2,125.6 482.1,126.6 482.1,127.6 482.1,128.6 482.1,129.6 482.2,130.6 482.2,131.6 482.3,132.6 482.4,133.6 482.4,134.1 482.5,135.1 482.6,136.1 482.7,137.1 482.7,138.1 482.6,139.1 482.6,140.1 482.6,141.1 482.4,141.8 481.9,142.2 480.9,142.4 479.9,142.5 478.9,142.6 478.4,142.7 477.4,142.8 476.4,142.9 475.4,143.0 474.4,143.0 473.4,143.0 472.4,143.0 471.4,143.0 470.4,142.9 469.4,142.9 468.4,142.9 467.4,142.8 466.4,142.8 465.4,142.8 464.4,142.7 463.4,142.7 462.4,142.7 461.4,142.7 460.4,142.7 459.4,142.7 458.4,142.6 457.4,142.6 456.4,142.7 455.4,142.7 454.4,142.7 453.4,142.7 452.4,142.7 451.4,142.7 450.4,142.7 449.4,142.8 448.4,142.8 447.4,142.8 446.4,142.9 445.4,142.9 444.4,143.0 443.4,143.0 442.4,143.1 441.9,143.1 440.9,143.2 439.9,143.2 438.9,143.2 437.9,143.3 436.9,143.3 435.9,143.3 434.9,143.3 433.9,143.2 432.9,143.2 431.9,143.2 430.9,143.2 429.9,143.1 429.4,143.1 428.4,143.0 427.4,143.0 426.4,142.9 425.4,142.8 424.4,142.7 423.4,142.7 422.8,142.6 421.9,142.5 420.9,142.5 419.9,142.4 418.9,142.4 417.9,142.4 416.9,142.4 415.9,142.4 414.9,142.4 413.9,142.5 412.9,142.5 411.9,142.6 410.9,142.6 410.4,142.6 409.4,142.7 408.4,142.7 407.4,142.7 406.4,142.7 405.4,142.8 404.4,142.8 403.4,142.8 402.4,142.8 401.4,142.7 400.4,142.7 399.4,142.7 398.4,142.7 397.4,142.7 396.4,142.6 395.4,142.6 394.5,142.6 393.9,142.6 392.9,142.6 391.9,142.6 391.4,142.6 390.4,142.6 389.4,142.6 388.4,142.7 387.4,142.7 386.4,142.8 385.4,142.9 384.4,143.0 383.4,143.0 382.8,143.1 381.9,143.2 380.9,143.2 379.9,143.3 378.9,143.4 377.9,143.4 376.9,143.5 375.9,143.5 374.9,143.5 373.9,143.6 372.9,143.6 372.4,143.6 371.4,143.6 370.4,143.6 369.4,143.6 368.4,143.6 367.4,143.6 366.4,143.6 365.4,143.6 364.4,143.6 363.4,143.6 362.9,143.6 361.9,143.6 360.9,143.5 359.9,143.5 358.9,143.4 357.9,143.4 356.9,143.3 355.9,143.2 354.9,143.1 354.4,143.0 353.4,142.9 352.4,142.8 351.4,142.7 350.4,142.6 349.9,142.5 348.9,142.2 348.4,142.1 347.4,141.9 346.4,141.6 345.9,141.5 344.9,141.2 344.4,141.1 343.7,140.6 343.3,140.1 343.1,139.1 342.9,138.2 342.7,137.6 342.5,136.6 342.4,136.0 342.4,135.1 342.4,134.1 342.4,133.1 342.4,132.4 342.4,131.6 342.4,131.1 342.3,130.1 342.2,129.1 342.1,128.1 342.0,127.1 342.0,126.1 342.0,125.1 341.9,124.6 341.8,123.6 341.6,122.6 341.6,121.6 341.7,120.6 341.9,120.0 342.2,119.1 342.4,118.2 342.5,117.6 342.6,116.6 342.6,115.6 342.7,114.6 342.9,113.6 343.0,113.1 343.2,112.1 343.3,111.1 343.4,110.4 343.5,109.6 343.8,108.6 343.9,108.1 344.4,107.2 344.9,106.7 345.4,106.4 345.9,106.1 346.6,105.6 347.4,105.1 347.9,104.8 348.4,104.6 349.4,104.1 349.9,103.9 350.5,103.6 351.4,103.1 351.9,102.8 352.4,102.5Z" stroke="#5ce01e" stroke-width="1.25"/>
<path d="M376.0,104.6 376.9,104.6 377.9,104.5 378.9,104.5 379.9,104.5 380.4,104.6 381.4,104.7 382.4,104.8 383.4,104.8 384.4,104.8 385.4,104.8 386.4,104.8 387.4,104.7 388.4,104.7 389.4,104.7 390.4,104.7 391.4,104.7 392.4,104.8 393.4,104.9 394.4,104.8 395.4,104.9 396.3,105.1 396.9,105.4 397.4,105.6 398.4,106.1 398.9,106.2 399.9,106.2 400.9,106.2 401.9,106.1 402.4,106.1 403.4,106.0 404.4,105.9 405.4,105.9 406.4,105.8 407.4,105.7 408.4,105.7 408.9,105.6 409.9,105.5 410.9,105.3 411.9,105.1 412.4,105.0 413.4,104.8 414.4,104.6 414.9,104.6 415.9,104.5 416.9,104.4 417.9,104.4 418.9,104.3 419.9,104.4 420.9,104.4 421.9,104.4 422.9,104.5 423.8,104.6 424.4,104.7 425.4,104.8 426.4,105.0 427.4,105.1 427.9,105.1 428.9,105.2 429.9,105.2 430.9,105.4 431.9,105.6 432.4,105.7 433.4,105.6 434.0,105.6 434.9,105.5 435.9,105.5 436.9,105.4 437.9,105.4 438.9,105.4 439.9,105.4 440.9,105.4 441.9,105.4 442.9,105.4 443.9,105.5 444.9,105.5 445.9,105.6 446.4,105.6 447.4,105.7 448.4,105.6 448.9,105.6 449.9,105.5 450.9,105.5 451.8,105.6 452.4,105.7 453.4,105.7 454.4,105.8 455.4,105.9 456.4,106.0 457.4,106.0 458.4,106.0 459.4,106.0 460.4,105.9 461.4,105.8 462.4,105.8 463.4,105.9 464.4,105.8 465.4,105.7 466.0,105.6 466.9,105.5 467.9,105.3 468.9,105.2 469.9,105.2 470.9,105.1 471.9,105.2 472.9,105.2 473.9,105.3 474.9,105.4 475.9,105.6 476.4,105.7 477.4,105.9 477.9,106.1 478.5,106.6 479.1,107.1 479.7,107.6 480.3,108.1 480.8,108.6 481.1,109.1 481.4,109.9 481.5,110.6 481.9,111.6 482.0,112.1 482.2,113.1 482.3,114.1 482.4,114.6 482.5,115.6 482.5,116.6 482.5,117.6 482.5,118.6 482.5,119.6 482.5,120.6 482.5,121.6 482.4,122.1 482.3,123.1 482.1,124.1 482.0,125.1 481.9,125.6 481.8,126.6 481.8,127.6 481.8,128.6 481.8,129.6 481.8,130.6 481.9,131.5 481.9,132.1 482.0,133.1 482.0,134.1 482.2,135.1 482.3,136.1 482.3,137.1 482.3,138.1 482.2,139.1 482.0,140.1 481.9,141.0 481.4,141.4 480.5,141.6 479.9,141.7 478.9,141.8 477.9,142.0 477.0,142.1 476.4,142.2 475.4,142.2 474.4,142.2 473.4,142.2 472.4,142.2 471.4,142.3 470.4,142.3 469.4,142.2 468.4,142.2 467.4,142.2 466.4,142.2 465.4,142.2 464.4,142.2 463.4,142.2 462.4,142.2 461.4,142.2 460.4,142.2 459.4,142.2 458.4,142.2 457.4,142.2 456.4,142.2 455.4,142.2 454.4,142.2 453.4,142.3 452.4,142.3 451.4,142.3 450.4,142.3 449.4,142.3 448.4,142.3 447.4,142.4 446.4,142.4 445.4,142.4 444.4,142.5 443.4,142.6 442.5,142.6 441.9,142.6 440.9,142.7 439.9,142.7 438.9,142.7 437.9,142.8 436.9,142.8 435.9,142.8 434.9,142.8 433.9,142.8 432.9,142.7 431.9,142.7 430.9,142.7 429.9,142.6 429.2,142.6 428.4,142.5 427.4,142.5 426.4,142.4 425.4,142.3 424.4,142.2 423.4,142.1 422.9,142.1 421.9,142.0 420.9,141.9 419.9,141.9 418.9,141.9 417.9,141.8 416.9,141.8 415.9,141.9 414.9,141.9 413.9,141.9 412.9,142.0 411.9,142.0 410.9,142.1 410.1,142.1 409.4,142.1 408.4,142.2 407.4,142.2 406.4,142.2 405.4,142.3 404.4,142.3 403.4,142.3 402.4,142.3 401.4,142.2 400.4,142.2 399.4,142.2 398.4,142.2 397.4,142.1 396.5,142.1 395.9,142.1 394.9,142.1 393.9,142.0 392.9,142.0 391.9,142.0 390.9,142.0 389.9,142.0 388.9,142.0 387.9,142.0 386.9,142.0 385.9,142.0 384.9,142.1 384.3,142.1 383.4,142.2 382.4,142.2 381.4,142.3 380.4,142.4 379.4,142.5 378.4,142.6 377.9,142.6 376.9,142.7 375.9,142.7 374.9,142.8 373.9,142.8 372.9,142.8 371.9,142.8 370.9,142.9 369.9,142.9 368.9,142.9 367.9,142.9 366.9,142.9 365.9,143.0 364.9,143.0 363.9,143.0 362.9,143.0 361.9,142.9 360.9,142.9 359.9,142.8 358.9,142.8 357.9,142.7 357.2,142.6 356.4,142.5 355.4,142.3 354.4,142.2 353.6,142.1 352.9,142.0 351.9,141.9 350.9,141.8 349.9,141.6 349.4,141.5 348.4,141.3 347.5,141.1 346.9,141.0 345.9,140.7 345.4,140.4 344.7,140.1 344.3,139.6 343.9,138.6 343.8,138.1 343.4,137.1 343.2,136.6 343.0,135.6 343.0,134.6 343.0,133.6 343.0,132.6 343.0,131.6 342.9,130.6 342.8,130.1 342.7,129.1 342.6,128.1 342.6,127.1 342.6,126.1 342.6,125.1 342.5,124.1 342.4,123.2 342.4,122.6 342.4,121.6 342.5,121.1 342.7,120.1 342.9,119.5 343.2,118.6 343.3,117.6 343.4,116.6 343.4,116.1 343.4,115.6 343.4,115.1 343.5,114.1 343.6,113.1 343.8,112.1 343.9,111.6 344.3,110.6 344.5,110.1 345.1,109.6 345.9,109.2 346.4,108.7 346.9,108.2 347.4,107.7 347.9,107.3 348.4,107.0 349.0,106.6 349.9,106.2 350.4,106.1 351.4,105.9 352.4,105.9 353.4,105.9 354.4,106.0 355.3,106.1 355.6,106.1 356.4,106.1 357.4,106.0 358.4,106.0 359.4,105.9 360.4,105.8 361.4,105.8 362.4,105.7 363.4,105.7 364.3,105.6 364.9,105.6 365.9,105.5 366.9,105.4 367.9,105.2 368.5,105.1 369.4,105.0 370.4,105.0 371.4,104.9 372.4,104.9 373.4,104.8 374.4,104.7 375.4,104.6Z" stroke="#aee814" stroke-width="1.25"/>
<path d="M372.1,107.1 372.9,107.0 373.9,107.0 374.9,106.9 375.9,106.9 376.9,106.9 377.9,106.9 378.9,107.0 379.6,107.1 380.4,107.6 380.9,107.8 381.9,107.8 382.9,107.8 383.9,107.7 384.9,107.6 385.6,107.6 386.4,107.6 387.4,107.6 387.9,107.6 388.9,107.7 389.9,107.8 390.9,108.0 391.4,108.1 392.4,108.4 393.3,108.6 393.9,108.7 394.9,108.9 395.9,109.1 396.4,109.2 397.4,109.3 398.4,109.4 399.4,109.5 400.4,109.5 401.4,109.5 402.4,109.5 403.4,109.4 404.4,109.3 405.4,109.2 406.1,109.1 406.9,109.0 407.9,108.8 408.9,108.7 409.9,108.6 410.9,108.6 411.9,108.6 412.9,108.7 413.9,108.7 414.9,108.7 415.9,108.8 416.9,108.8 417.9,108.7 418.9,108.7 419.9,108.6 420.4,108.6 421.4,108.5 422.4,108.4 423.4,108.3 424.4,108.3 425.4,108.2 426.4,108.2 427.4,108.2 428.4,108.1 429.4,108.1 430.4,108.2 431.4,108.3 432.4,108.4 433.4,108.3 434.4,108.2 435.4,108.1 435.9,108.1 436.9,108.0 437.9,108.0 438.9,108.0 439.9,108.0 440.9,108.1 441.4,108.1 442.4,108.2 443.4,108.3 444.4,108.4 445.4,108.5 446.4,108.6 446.9,108.6 447.9,108.7 448.9,108.6 449.4,108.5 450.4,108.5 451.4,108.5 452.4,108.4 453.4,108.4 454.4,108.3 455.4,108.2 456.4,108.1 456.9,108.1 457.9,108.0 458.9,107.9 459.9,107.9 460.9,107.8 461.9,107.8 462.9,107.9 463.9,108.0 464.9,108.1 465.5,108.1 466.4,108.1 467.4,108.2 468.4,108.2 469.4,108.1 470.4,108.2 471.4,108.2 472.4,108.2 473.4,108.2 474.4,108.3 475.4,108.4 476.4,108.6 476.9,108.7 477.8,109.1 478.4,109.6 478.7,110.1 479.0,110.6 479.4,111.2 479.8,112.1 479.9,112.6 480.1,113.6 480.4,114.4 480.7,115.1 480.9,115.6 481.4,116.6 481.6,117.1 481.7,118.1 481.9,119.0 482.0,119.6 482.0,120.6 482.0,121.6 482.0,122.6 481.9,123.1 481.7,124.1 481.6,125.1 481.5,126.1 481.4,127.1 481.4,127.6 481.4,128.6 481.4,129.3 481.4,130.1 481.5,131.1 481.5,132.1 481.5,133.1 481.6,134.1 481.7,135.1 481.8,136.1 481.8,137.1 481.6,138.1 481.3,138.6 480.9,139.1 480.3,139.6 479.6,140.1 478.9,140.5 478.4,140.8 477.8,141.1 476.9,141.3 475.9,141.4 474.9,141.5 473.9,141.5 472.9,141.5 471.9,141.6 471.3,141.6 470.4,141.6 469.4,141.6 468.4,141.7 467.4,141.7 466.4,141.7 465.4,141.7 464.4,141.7 463.4,141.7 462.4,141.7 461.4,141.7 460.4,141.7 459.4,141.7 458.4,141.7 457.4,141.7 456.4,141.7 455.4,141.8 454.4,141.8 453.4,141.8 452.4,141.8 451.4,141.8 450.4,141.8 449.4,141.8 448.4,141.8 447.4,141.8 446.4,141.8 445.4,141.8 444.4,141.8 443.4,141.9 442.4,141.9 441.4,142.0 440.4,142.1 439.8,142.1 438.9,142.1 437.9,142.2 436.9,142.2 435.9,142.2 434.9,142.2 433.9,142.2 432.9,142.2 431.9,142.2 430.9,142.2 429.9,142.1 429.4,142.1 428.4,142.0 427.4,141.9 426.4,141.9 425.4,141.8 424.4,141.7 423.4,141.6 422.9,141.5 421.9,141.5 420.9,141.4 419.9,141.4 418.9,141.3 417.9,141.3 416.9,141.3 415.9,141.3 414.9,141.3 413.9,141.3 412.9,141.4 411.9,141.4 410.9,141.5 409.9,141.6 409.1,141.6 408.4,141.6 407.4,141.7 406.4,141.7 405.4,141.7 404.4,141.8 403.4,141.8 402.4,141.8 401.4,141.8 400.4,141.7 399.4,141.7 398.4,141.7 397.4,141.6 396.4,141.6 395.9,141.6 394.9,141.6 393.9,141.5 392.9,141.5 391.9,141.5 390.9,141.4 389.9,141.4 388.9,141.4 387.9,141.4 386.9,141.4 385.9,141.4 384.9,141.4 383.9,141.4 382.9,141.4 381.9,141.4 380.9,141.4 379.9,141.4 378.9,141.4 377.9,141.4 376.9,141.4 375.9,141.4 374.9,141.4 373.9,141.3 372.9,141.3 371.9,141.3 370.9,141.2 369.9,141.2 368.9,141.2 367.9,141.2 366.9,141.3 365.9,141.3 364.9,141.4 363.9,141.5 362.9,141.6 361.9,141.6 360.9,141.6 359.9,141.6 358.9,141.5 357.9,141.5 356.9,141.4 355.9,141.3 354.9,141.2 353.9,141.2 352.9,141.1 352.4,141.1 351.4,141.0 350.4,140.9 349.4,140.6 348.9,140.5 347.9,140.2 347.4,140.0 346.8,139.6 346.4,139.1 345.9,138.3 345.4,137.8 344.9,137.4 344.4,136.9 344.0,136.1 343.9,135.6 343.8,134.6 343.8,133.6 343.9,132.6 343.9,132.1 343.9,131.5 343.8,130.6 343.6,129.6 343.4,128.8 343.4,128.1 343.4,127.1 343.5,126.6 343.6,125.6 343.4,124.6 343.4,124.1 343.3,123.1 343.3,122.1 343.4,121.1 343.5,120.6 343.8,119.6 344.0,119.1 344.3,118.1 344.4,117.5 344.5,116.6 344.4,115.6 344.5,114.6 344.9,113.7 345.4,113.2 345.9,112.9 346.4,112.4 346.9,111.7 347.4,111.1 347.8,110.6 348.4,110.2 348.9,109.9 349.4,109.5 350.2,109.1 350.9,108.7 351.4,108.6 352.4,108.4 353.4,108.2 354.4,108.1 354.9,108.1 355.9,108.0 356.9,107.8 357.9,107.7 358.9,107.6 359.5,107.6 360.4,107.6 361.4,107.5 362.4,107.5 363.4,107.5 364.4,107.6 365.4,107.6 365.9,107.6 366.9,107.6 367.4,107.6 368.4,107.4 369.4,107.3 370.4,107.3 371.4,107.2Z" stroke="#f0e614" stroke-width="1.25"/>
<path d="M360.0,110.6 360.9,110.5 361.9,110.4 362.9,110.4 363.9,110.4 364.9,110.5 365.7,110.6 366.4,110.7 367.4,110.8 368.4,110.9 369.4,111.1 369.9,111.2 370.9,111.3 371.9,111.4 372.9,111.4 373.9,111.5 374.9,111.5 375.9,111.5 376.9,111.5 377.9,111.5 378.9,111.5 379.9,111.5 380.9,111.5 381.9,111.4 382.9,111.2 383.7,111.1 384.4,111.0 385.4,110.9 386.4,110.7 387.4,110.6 387.9,110.6 388.9,110.5 389.9,110.6 390.7,110.6 391.4,110.7 392.4,110.8 393.4,110.9 394.4,111.1 394.9,111.2 395.9,111.3 396.9,111.4 397.9,111.5 398.9,111.5 399.9,111.5 400.9,111.4 401.9,111.4 402.9,111.4 403.9,111.4 404.9,111.4 405.9,111.4 406.9,111.4 407.9,111.5 408.9,111.5 409.9,111.6 410.9,111.6 411.9,111.5 412.9,111.5 413.9,111.4 414.9,111.2 415.9,111.1 416.4,111.0 417.4,110.9 418.4,110.8 419.4,110.7 420.4,110.7 421.4,110.6 421.9,110.6 422.9,110.6 423.8,110.6 424.4,110.6 425.4,110.7 426.4,110.7 427.4,110.7 428.4,110.8 429.4,110.7 430.4,110.7 431.4,110.7 432.4,110.6 432.9,110.6 433.9,110.5 434.9,110.4 435.9,110.3 436.9,110.2 437.9,110.1 438.9,110.1 439.9,110.2 440.9,110.2 441.9,110.4 442.9,110.6 443.4,110.7 444.4,110.9 445.1,111.1 445.9,111.3 446.9,111.5 447.5,111.6 448.4,111.7 449.4,111.8 450.4,111.8 451.4,111.9 452.4,111.8 453.4,111.8 454.4,111.7 454.9,111.6 455.9,111.5 456.9,111.3 457.9,111.1 458.4,111.1 459.4,111.0 460.4,110.9 461.4,110.8 462.4,110.8 463.4,110.9 464.4,110.9 465.4,110.9 466.4,111.0 467.4,111.0 468.4,111.0 469.4,111.0 470.4,111.0 471.4,111.1 471.9,111.2 472.9,111.4 473.8,111.6 474.4,111.9 474.9,112.2 475.4,112.7 475.9,113.4 476.3,114.1 476.7,114.6 477.2,115.1 477.8,115.6 478.4,116.1 478.9,116.5 479.4,117.1 479.8,117.6 480.1,118.1 480.4,118.8 480.8,119.6 481.0,120.1 481.4,121.1 481.4,121.6 481.4,122.5 481.3,123.1 481.1,124.1 480.9,125.0 480.7,125.6 480.6,126.6 480.5,127.6 480.6,128.6 480.6,129.6 480.7,130.6 480.8,131.6 480.8,132.6 480.8,133.6 480.8,134.6 480.8,135.6 480.5,136.6 480.2,137.1 479.9,137.6 479.4,138.1 478.8,138.6 478.1,139.1 477.4,139.5 476.9,139.8 476.2,140.1 475.4,140.3 474.4,140.4 473.4,140.6 472.9,140.6 471.9,140.7 470.9,140.8 469.9,140.9 468.9,140.9 467.9,141.0 466.9,141.0 465.9,141.1 464.9,141.1 463.9,141.1 463.4,141.1 462.4,141.1 461.4,141.1 460.4,141.1 459.4,141.1 458.4,141.1 457.4,141.1 456.4,141.1 455.4,141.1 454.4,141.1 453.4,141.1 452.4,141.1 451.9,141.1 450.9,141.0 449.9,141.0 448.9,140.9 447.9,140.8 446.9,140.8 445.9,140.8 444.9,140.7 443.9,140.7 442.9,140.8 441.9,140.8 440.9,140.9 439.9,141.0 439.2,141.1 438.4,141.2 437.4,141.2 436.4,141.3 435.4,141.3 434.4,141.4 433.4,141.4 432.4,141.4 431.4,141.4 430.4,141.4 429.4,141.3 428.4,141.2 427.4,141.2 426.6,141.1 425.9,141.0 424.9,140.9 423.9,140.8 422.9,140.7 422.0,140.6 421.4,140.6 420.4,140.5 419.4,140.4 418.4,140.4 417.4,140.4 416.4,140.4 415.4,140.4 414.4,140.5 413.4,140.5 412.4,140.6 411.9,140.6 410.9,140.7 409.9,140.7 408.9,140.8 407.9,141.0 406.9,141.1 406.3,141.1 405.4,141.1 404.4,141.2 403.4,141.2 402.4,141.2 401.4,141.2 400.4,141.2 399.4,141.1 398.4,141.1 397.9,141.1 396.9,141.0 395.9,141.0 394.9,140.9 393.9,140.9 392.9,140.9 391.9,140.8 390.9,140.8 389.9,140.7 388.9,140.7 387.9,140.7 386.9,140.7 385.9,140.7 384.9,140.7 383.9,140.7 382.9,140.7 381.9,140.7 380.9,140.7 379.9,140.7 378.9,140.7 377.9,140.6 377.1,140.6 376.4,140.5 375.4,140.5 374.4,140.4 373.4,140.3 372.4,140.3 371.4,140.2 370.4,140.2 369.4,140.1 368.4,140.1 367.4,140.1 366.4,140.1 365.4,140.2 364.4,140.2 363.4,140.2 362.4,140.3 361.4,140.3 360.4,140.3 359.4,140.3 358.4,140.3 357.4,140.3 356.4,140.2 355.4,140.2 354.7,140.1 353.9,140.0 352.9,139.9 351.9,139.8 350.9,139.6 350.4,139.3 349.9,139.0 349.3,138.6 348.4,138.1 347.9,137.9 347.4,137.5 346.9,137.1 346.4,136.5 345.9,135.6 345.9,134.6 346.1,133.6 346.3,132.6 346.4,131.6 346.2,130.6 345.9,129.6 345.8,129.1 345.8,128.1 345.9,127.6 346.2,126.6 346.3,125.6 346.1,124.6 345.9,124.1 345.5,123.1 345.4,122.6 345.4,121.6 345.4,121.1 345.8,120.1 346.1,119.6 346.5,119.1 346.9,118.2 347.1,117.6 347.4,116.6 347.5,116.1 347.8,115.1 348.1,114.6 348.5,114.1 349.0,113.6 349.5,113.1 350.1,112.6 350.7,112.1 351.4,111.8 352.4,111.7 353.4,111.7 354.1,111.6 354.9,111.5 355.9,111.4 356.9,111.2 357.4,111.1 358.4,110.9 359.4,110.7Z" stroke="#ffc030" stroke-width="1.25"/>
<path d="M437.6,114.1 438.4,114.0 439.4,114.0 440.4,114.1 440.9,114.1 441.9,114.4 442.4,114.6 443.2,115.1 443.9,115.6 444.4,115.8 445.2,116.1 445.9,116.2 446.9,116.4 447.9,116.4 448.9,116.5 449.9,116.5 450.9,116.5 451.9,116.6 452.4,116.6 453.4,116.7 454.4,116.7 455.4,116.7 456.4,116.8 457.4,116.7 458.4,116.7 459.4,116.6 459.9,116.6 460.9,116.5 461.9,116.4 462.9,116.4 463.9,116.3 464.9,116.3 465.9,116.3 466.9,116.3 467.9,116.3 468.9,116.4 469.9,116.5 470.9,116.6 471.4,116.6 472.4,116.8 473.4,116.9 474.4,117.1 474.9,117.1 475.9,117.4 476.4,117.7 476.9,118.1 477.5,118.6 478.0,119.1 478.5,119.6 478.9,120.1 479.4,120.6 479.9,121.4 480.0,122.1 479.9,122.8 479.6,123.6 479.4,124.1 478.9,125.0 478.5,125.6 478.3,126.1 478.0,127.1 478.0,128.1 478.3,129.1 478.5,129.6 478.9,130.6 479.0,131.1 479.1,132.1 479.0,133.1 478.9,134.1 478.9,134.8 478.6,135.6 478.2,136.1 477.8,136.6 477.4,137.1 476.9,137.6 476.2,138.1 475.4,138.3 474.4,138.5 473.9,138.6 472.9,138.8 471.9,138.9 470.9,139.1 470.4,139.1 469.4,139.2 468.4,139.3 467.4,139.3 466.4,139.4 465.4,139.4 464.4,139.4 463.4,139.4 462.4,139.4 461.4,139.4 460.4,139.4 459.4,139.4 458.4,139.4 457.4,139.4 456.4,139.4 455.4,139.4 454.4,139.3 453.4,139.3 452.4,139.2 451.4,139.2 450.6,139.1 449.9,139.0 448.9,139.0 447.9,138.9 446.9,138.8 445.9,138.7 444.9,138.7 443.9,138.7 442.9,138.7 441.9,138.7 440.9,138.7 439.9,138.7 438.9,138.8 437.9,138.9 436.9,139.0 435.9,139.0 435.3,139.1 434.4,139.2 433.4,139.3 432.4,139.4 431.4,139.4 430.4,139.5 429.4,139.4 428.4,139.3 427.4,139.1 426.9,139.1 425.9,138.8 424.9,138.6 424.4,138.6 423.4,138.4 422.4,138.4 421.4,138.3 420.4,138.3 419.4,138.3 418.4,138.3 417.4,138.3 416.4,138.4 415.4,138.4 414.4,138.5 413.4,138.5 412.6,138.6 411.9,138.7 410.9,138.7 409.9,138.8 408.9,138.9 407.9,139.0 407.2,139.1 406.4,139.2 405.4,139.3 404.4,139.3 403.4,139.4 402.4,139.5 401.4,139.5 400.4,139.4 399.4,139.4 398.4,139.3 397.4,139.3 396.4,139.3 395.4,139.3 394.4,139.3 393.4,139.3 392.4,139.3 391.4,139.3 390.4,139.3 389.4,139.3 388.4,139.3 387.4,139.3 386.4,139.4 385.4,139.4 384.4,139.4 383.4,139.4 382.4,139.3 381.4,139.2 380.4,139.2 379.9,139.1 378.9,138.8 378.3,138.6 377.4,138.2 376.9,138.0 375.9,137.9 374.9,138.0 373.9,138.1 373.4,138.1 372.4,138.2 371.4,138.3 370.4,138.4 369.4,138.4 368.4,138.4 367.4,138.5 366.4,138.5 365.4,138.5 364.4,138.5 363.4,138.5 362.4,138.5 361.4,138.4 360.4,138.4 359.4,138.3 358.4,138.3 357.4,138.2 356.4,138.1 355.9,138.1 354.9,138.0 353.9,137.9 352.9,137.7 352.2,137.6 351.4,137.4 350.9,137.0 350.3,136.6 349.5,136.1 348.9,135.7 348.6,135.1 348.9,134.4 349.4,133.6 349.6,133.1 349.7,132.1 349.5,131.1 349.2,130.6 348.9,129.6 348.9,129.1 349.0,128.6 349.4,127.7 349.6,127.1 349.8,126.1 349.6,125.1 349.4,124.6 348.9,123.6 348.7,123.1 348.4,122.1 348.4,121.6 348.4,121.1 348.6,120.1 348.9,119.5 349.4,118.7 349.7,118.1 350.0,117.6 350.4,116.6 350.7,116.1 351.4,115.6 351.9,115.5 352.9,115.4 353.9,115.3 354.9,115.2 355.9,115.1 356.4,115.1 357.4,115.0 358.4,115.0 359.4,115.0 360.4,114.9 361.4,114.9 362.4,114.9 363.4,114.9 364.4,115.0 365.4,115.0 366.4,115.1 366.9,115.1 367.9,115.1 368.9,115.2 369.9,115.3 370.9,115.4 371.9,115.6 372.4,115.7 373.4,115.9 374.1,116.1 374.9,116.4 375.6,116.6 376.4,116.8 377.4,117.0 377.9,117.1 378.9,117.1 379.7,117.1 380.4,117.0 381.4,116.9 382.4,116.6 382.9,116.4 383.8,116.1 384.4,115.9 385.2,115.6 385.9,115.4 386.9,115.2 387.9,115.1 388.9,115.1 389.9,115.1 390.9,115.2 391.9,115.2 392.9,115.3 393.9,115.3 394.9,115.4 395.9,115.4 396.9,115.4 397.9,115.5 398.9,115.5 399.9,115.6 400.6,115.6 401.4,115.7 402.4,115.8 403.4,116.0 404.1,116.1 404.9,116.3 405.9,116.4 406.9,116.5 407.9,116.5 408.9,116.4 409.9,116.3 410.8,116.1 411.4,116.0 412.4,115.8 413.4,115.7 413.9,115.6 414.9,115.5 415.9,115.4 416.9,115.3 417.9,115.2 418.9,115.1 419.4,115.1 420.4,115.0 421.4,114.9 422.4,114.8 423.4,114.8 424.4,114.8 425.4,114.8 426.4,114.9 427.4,114.9 428.4,115.0 429.4,115.0 430.4,115.0 431.4,114.9 432.4,114.9 433.4,114.8 434.4,114.6 434.9,114.5 435.9,114.4 436.9,114.2Z" stroke="#f6851f" stroke-width="1.35"/>
</g>
</g>
<g fill="none" stroke="#000" stroke-width="1.15" stroke-linejoin="miter">
<path d="M16.2,94 V148.1 H166.6 V94.9 H173.6 V148.1 H330.6 V94.9 H337.9 V148.1 H488.6 V94"/>
</g>
<path d="M168.1,96 V147.6 M172.1,96 V147.6 M332.1,96 V147.6 M336.4,96 V147.6" stroke="#8a8a8a" stroke-width="1" stroke-dasharray="0.5 1.1" fill="none"/>
<line x1="46.2" y1="71.7" x2="46.2" y2="161" stroke="#ee1c25" stroke-width="1.05" stroke-dasharray="5 1.63"/>
<text transform="translate(46.8,69.8) scale(0.84,1)" font-size="7.2" font-weight="bold" text-anchor="middle" fill="#111">Column 1</text>
<line x1="150.6" y1="71.7" x2="150.6" y2="161" stroke="#ee1c25" stroke-width="1.05" stroke-dasharray="5 1.63"/>
<text transform="translate(151.2,69.8) scale(0.84,1)" font-size="7.2" font-weight="bold" text-anchor="middle" fill="#111">Column 2</text>
<line x1="252.6" y1="73.9" x2="252.6" y2="161" stroke="#ee1c25" stroke-width="1.05" stroke-dasharray="5 1.63"/>
<text transform="translate(253.2,72) scale(0.84,1)" font-size="7.2" font-weight="bold" text-anchor="middle" fill="#111">Column 3</text>
<line x1="355.2" y1="71.7" x2="355.2" y2="161" stroke="#ee1c25" stroke-width="1.05" stroke-dasharray="5 1.63"/>
<text transform="translate(355.8,69.8) scale(0.84,1)" font-size="7.2" font-weight="bold" text-anchor="middle" fill="#111">Column 4</text>
<line x1="457.5" y1="71.7" x2="457.5" y2="161" stroke="#ee1c25" stroke-width="1.05" stroke-dasharray="5 1.63"/>
<text transform="translate(458.1,69.8) scale(0.84,1)" font-size="7.2" font-weight="bold" text-anchor="middle" fill="#111">Column 5</text>
<g stroke="#ee1c25" stroke-width="1" fill="none">
<path d="M9.6,94.2 V149.2"/>
<path d="M6.4,93 L12.2,97 M6.6,96.6 L12.4,93.4" />
<path d="M6.4,151 L12.2,147 M6.6,147.4 L12.4,150.6" />
<path d="M15.8,157.3 H19.2 M41.2,157.3 H88.6 M107,157.3 H189.4 M214.2,157.3 H294 M319.2,157.3 H396.4 M422.2,157.3 H462.6 M484.6,157.3 H490"/>
<path d="M15.8,153.6 V161.2 M490,152.8 V162.8"/>
<path d="M44.2,159.9 L48.2,154.7"/>
<path d="M148.6,159.9 L152.6,154.7"/>
<path d="M250.6,159.9 L254.6,154.7"/>
<path d="M353.2,159.9 L357.2,154.7"/>
<path d="M455.5,159.9 L459.5,154.7"/>
</g>
<g font-size="6.1" font-weight="bold" fill="#111" text-anchor="middle">
<text transform="translate(30.2,159) scale(0.93,1)">0.025 m</text>
<text transform="translate(97.8,159) scale(0.93,1)">0.09 m</text>
<text transform="translate(201.8,159) scale(0.93,1)">0.0875 m</text>
<text transform="translate(306.6,159) scale(0.93,1)">0.0875 m</text>
<text transform="translate(409.3,159) scale(0.93,1)">0.0875 m</text>
<text transform="translate(473.7,159) scale(0.93,1)">0.025 m</text>
<text transform="translate(7.5,121.8) rotate(-90) scale(1.22,1)">0.035 m</text>
</g>
<g font-size="6.4" font-weight="bold" fill="#ee1c25">
<text transform="translate(44.2,125.4) scale(0.88,1)" text-anchor="end">N1</text>
<text transform="translate(147.6,125.2) scale(0.88,1)" text-anchor="end">N2</text>
<text transform="translate(249.6,124) scale(0.88,1)" text-anchor="end">N3</text>
<text transform="translate(357.1,126) scale(0.88,1)" text-anchor="start">N4</text>
<text transform="translate(459.6,126) scale(0.88,1)" text-anchor="start">N5</text>
</g>
<circle cx="46.2" cy="123" r="0.8" fill="#c00"/>
<circle cx="150.6" cy="123.5" r="0.8" fill="#c00"/>
<circle cx="252.6" cy="122.5" r="0.8" fill="#c00"/>
<circle cx="354.9" cy="123" r="0.8" fill="#c00"/>
<circle cx="457.3" cy="123" r="0.8" fill="#c00"/>
<g font-size="7" fill="#1c1c1c" stroke="#1c1c1c" stroke-width="0.12">
<text transform="translate(49.3,125.5) scale(0.88,1)">2.061</text>
<text transform="translate(69.5,125.6) scale(0.88,1)">1.779</text>
<text transform="translate(89.6,124.3) scale(0.88,1)">1.595</text>
<text transform="translate(201.5,129) scale(0.88,1)">1.375</text>
<text transform="translate(223.5,128.2) scale(0.88,1)">1.138</text>
<text transform="translate(276,126.8) scale(0.88,1)">0.937</text>
<text transform="translate(403.6,127.9) scale(0.88,1)">0.658</text>
<text transform="translate(432.1,127.9) scale(0.88,1)">0.386</text>
</g>
<g stroke="#e8505a" stroke-width="0.5">
<line x1="46.5" y1="112.5" x2="50.5" y2="119.5"/>
<line x1="64" y1="111.6" x2="72.4" y2="120"/>
<line x1="79.5" y1="108.9" x2="91" y2="119"/>
<line x1="202" y1="107" x2="206" y2="123.5"/>
<line x1="219" y1="104" x2="225" y2="122.5"/>
<line x1="270.4" y1="96.5" x2="281.2" y2="119.6"/>
<line x1="401" y1="97" x2="406" y2="122"/>
<line x1="436" y1="98" x2="436" y2="122"/>
</g>
<g stroke="#7a7a7a" stroke-width="0.8" fill="none">
<path d="M47.1,170.8 V299.5 H125.4 M45.4,299.5 h3.4 M46.4,294.4 h1.4 M46.4,289.2 h1.4 M46.4,284.1 h1.4 M46.4,278.9 h1.4 M45.4,273.8 h3.4 M46.4,268.6 h1.4 M46.4,263.5 h1.4 M46.4,258.3 h1.4 M46.4,253.2 h1.4 M45.4,248.0 h3.4 M46.4,242.9 h1.4 M46.4,237.7 h1.4 M46.4,232.6 h1.4 M46.4,227.4 h1.4 M45.4,222.3 h3.4 M46.4,217.1 h1.4 M46.4,212.0 h1.4 M46.4,206.8 h1.4 M46.4,201.7 h1.4 M45.4,196.5 h3.4 M46.4,191.4 h1.4 M46.4,186.2 h1.4 M46.4,181.1 h1.4 M46.4,175.9 h1.4 M45.4,170.8 h3.4 M47.2,298.3 v2.4 M50.3,298.8 v1.4 M53.5,298.8 v1.4 M56.6,298.8 v1.4 M59.7,298.8 v1.4 M62.8,298.3 v2.4 M66.0,298.8 v1.4 M69.1,298.8 v1.4 M72.2,298.8 v1.4 M75.4,298.8 v1.4 M78.5,298.3 v2.4 M81.6,298.8 v1.4 M84.7,298.8 v1.4 M87.9,298.8 v1.4 M91.0,298.8 v1.4 M94.1,298.3 v2.4 M97.2,298.8 v1.4 M100.4,298.8 v1.4 M103.5,298.8 v1.4 M106.6,298.8 v1.4 M109.8,298.3 v2.4 M112.9,298.8 v1.4 M116.0,298.8 v1.4 M119.1,298.8 v1.4 M122.3,298.8 v1.4 M125.4,298.3 v2.4"/>
</g>
<g font-size="7.3" fill="#1a1a1a" stroke="#1a1a1a" stroke-width="0.12" text-anchor="end">
<text transform="translate(42.2,302.0) scale(0.89,1)">0.0</text>
<text transform="translate(42.2,276.3) scale(0.89,1)">0.5</text>
<text transform="translate(42.2,250.5) scale(0.89,1)">1.0</text>
<text transform="translate(42.2,224.8) scale(0.89,1)">1.5</text>
<text transform="translate(42.2,199.0) scale(0.89,1)">2.0</text>
<text transform="translate(42.2,173.3) scale(0.89,1)">2.5</text>
</g>
<g font-size="6.9" fill="#1a1a1a" stroke="#1a1a1a" stroke-width="0.12" text-anchor="middle">
<text transform="translate(47.5,310.9) scale(0.94,1)">0.00</text>
<text transform="translate(63.1,310.9) scale(0.94,1)">0.50</text>
<text transform="translate(78.8,310.9) scale(0.94,1)">1.00</text>
<text transform="translate(94.4,310.9) scale(0.94,1)">1.50</text>
<text transform="translate(110.1,310.9) scale(0.94,1)">2.00</text>
<text transform="translate(125.7,310.9) scale(0.94,1)">2.50</text>
</g>
<text transform="translate(75,323.0) scale(0.875,1)" font-size="7.2" font-weight="bold" fill="#111" text-anchor="middle">Velocity (m/s)</text>
<text transform="translate(30.6,231.4) rotate(-90) scale(1.22,1)" font-size="6.4" font-weight="bold" fill="#111" text-anchor="middle">Water Depth (cm)</text>
<line x1="60.3" y1="176" x2="70.7" y2="176" stroke="#111" stroke-width="0.9"/>
<circle cx="65.5" cy="176" r="1.15" fill="#111"/>
<text transform="translate(71.7,177.7) scale(0.92,1)" font-size="4.9" font-weight="bold" fill="#111">Column 1</text>
<path d="M47.2,299.5 L50.9,297.6 L54.7,295.7 L58.4,293.8 L62.2,291.9 L66.0,290.0 L69.8,288.2 L73.8,286.4 L77.9,284.7 L82.1,282.9 L86.1,281.2 L89.9,279.4 L93.2,277.5 L95.2,276.2 L97.1,274.8 L98.9,273.3 L100.6,271.8 L102.1,270.3 L103.6,268.8 L104.7,267.5 L105.8,266.2 L106.8,264.8 L107.8,263.5 L108.7,262.1 L109.5,260.8 L110.1,259.9 L110.7,259.1 L111.2,258.2 L111.7,257.4 L112.1,256.5 L112.5,255.6 L112.9,254.5 L113.2,253.4 L113.6,252.3 L113.9,251.2 L114.1,250.0 L114.3,248.9 L114.4,247.9 L114.6,246.9 L114.7,246.0 L114.8,245.0 L114.8,244.0 L114.9,242.9 L114.9,241.5 L114.9,240.1 L115.0,238.7 L115.0,237.2 L115.0,235.6 L115.0,233.9 L115.1,230.7 L115.3,227.2 L115.6,223.4 L115.8,219.6 L115.9,215.7 L116.0,212.0 L116.0,208.2 L116.0,204.4 L115.9,200.5 L115.9,196.8 L115.8,193.3 L115.7,190.1 L115.6,188.4 L115.3,186.9 L114.9,185.4 L114.5,184.0 L114.0,182.6 L113.5,181.1 L112.9,179.2 L112.1,177.4 L111.2,175.5 L110.2,173.6 L109.1,171.7 L107.9,169.8" fill="none" stroke="#111" stroke-width="1.2" stroke-linejoin="round"/>
<circle cx="47.2" cy="299.5" r="1.2" fill="#111"/>
<circle cx="93.2" cy="277.5" r="1.2" fill="#111"/>
<circle cx="112.5" cy="255.6" r="1.2" fill="#111"/>
<circle cx="115.0" cy="233.9" r="1.2" fill="#111"/>
<circle cx="116.0" cy="212.0" r="1.2" fill="#111"/>
<circle cx="115.7" cy="190.1" r="1.2" fill="#111"/>
<g stroke="#7a7a7a" stroke-width="0.8" fill="none">
<path d="M151.7,169.4 V297.9 H231.9 M150.0,297.9 h3.4 M151.0,292.8 h1.4 M151.0,287.6 h1.4 M151.0,282.5 h1.4 M151.0,277.3 h1.4 M150.0,272.2 h3.4 M151.0,267.1 h1.4 M151.0,261.9 h1.4 M151.0,256.8 h1.4 M151.0,251.6 h1.4 M150.0,246.5 h3.4 M151.0,241.4 h1.4 M151.0,236.2 h1.4 M151.0,231.1 h1.4 M151.0,225.9 h1.4 M150.0,220.8 h3.4 M151.0,215.7 h1.4 M151.0,210.5 h1.4 M151.0,205.4 h1.4 M151.0,200.2 h1.4 M150.0,195.1 h3.4 M151.0,190.0 h1.4 M151.0,184.8 h1.4 M151.0,179.7 h1.4 M151.0,174.5 h1.4 M150.0,169.4 h3.4 M151.4,296.7 v2.4 M154.6,297.2 v1.4 M157.8,297.2 v1.4 M161.1,297.2 v1.4 M164.3,297.2 v1.4 M167.5,296.7 v2.4 M170.7,297.2 v1.4 M173.9,297.2 v1.4 M177.2,297.2 v1.4 M180.4,297.2 v1.4 M183.6,296.7 v2.4 M186.8,297.2 v1.4 M190.0,297.2 v1.4 M193.3,297.2 v1.4 M196.5,297.2 v1.4 M199.7,296.7 v2.4 M202.9,297.2 v1.4 M206.1,297.2 v1.4 M209.4,297.2 v1.4 M212.6,297.2 v1.4 M215.8,296.7 v2.4 M219.0,297.2 v1.4 M222.2,297.2 v1.4 M225.5,297.2 v1.4 M228.7,297.2 v1.4 M231.9,296.7 v2.4"/>
</g>
<g font-size="7.3" fill="#1a1a1a" stroke="#1a1a1a" stroke-width="0.12" text-anchor="end">
<text transform="translate(146.8,300.4) scale(0.89,1)">0.0</text>
<text transform="translate(146.8,274.7) scale(0.89,1)">0.5</text>
<text transform="translate(146.8,249.0) scale(0.89,1)">1.0</text>
<text transform="translate(146.8,223.3) scale(0.89,1)">1.5</text>
<text transform="translate(146.8,197.6) scale(0.89,1)">2.0</text>
<text transform="translate(146.8,171.9) scale(0.89,1)">2.5</text>
</g>
<g font-size="6.9" fill="#1a1a1a" stroke="#1a1a1a" stroke-width="0.12" text-anchor="middle">
<text transform="translate(151.7,309.3) scale(0.94,1)">0.00</text>
<text transform="translate(167.8,309.3) scale(0.94,1)">0.50</text>
<text transform="translate(183.9,309.3) scale(0.94,1)">1.00</text>
<text transform="translate(200.0,309.3) scale(0.94,1)">1.50</text>
<text transform="translate(216.1,309.3) scale(0.94,1)">2.00</text>
<text transform="translate(232.2,309.3) scale(0.94,1)">2.50</text>
</g>
<text transform="translate(181.7,321.3) scale(0.875,1)" font-size="7.2" font-weight="bold" fill="#111" text-anchor="middle">Velocity (m/s)</text>
<text transform="translate(133.8,229.3) rotate(-90) scale(1.22,1)" font-size="6.4" font-weight="bold" fill="#111" text-anchor="middle">Water Depth (cm)</text>
<line x1="163.2" y1="176.8" x2="173.7" y2="176.8" stroke="#111" stroke-width="0.9"/>
<circle cx="168.45" cy="176.8" r="1.15" fill="#111"/>
<text transform="translate(174.7,178.5) scale(0.92,1)" font-size="4.9" font-weight="bold" fill="#111">Column 2</text>
<path d="M151.4,297.9 L155.4,296.0 L159.3,294.2 L163.2,292.3 L167.1,290.4 L171.0,288.6 L174.8,286.7 L178.5,284.9 L182.3,283.2 L186.1,281.5 L189.8,279.7 L193.2,277.9 L196.3,276.1 L198.3,274.8 L200.1,273.4 L201.9,272.0 L203.6,270.6 L205.1,269.2 L206.6,267.8 L207.7,266.6 L208.8,265.4 L209.8,264.1 L210.8,262.9 L211.7,261.7 L212.6,260.4 L213.3,259.4 L213.9,258.4 L214.5,257.4 L215.1,256.3 L215.7,255.3 L216.1,254.3 L216.5,253.2 L216.9,252.2 L217.3,251.1 L217.6,250.0 L217.9,249.0 L218.1,247.9 L218.3,246.9 L218.4,246.0 L218.6,245.0 L218.7,244.0 L218.8,243.0 L218.9,242.0 L219.0,240.5 L219.1,239.0 L219.1,237.5 L219.2,235.9 L219.3,234.2 L219.3,232.4 L219.6,229.2 L219.9,225.6 L220.3,221.9 L220.6,218.1 L220.9,214.3 L221.0,210.5 L221.0,206.8 L221.0,202.9 L221.0,199.1 L221.0,195.3 L221.0,191.8 L221.0,188.7 L220.9,187.0 L220.7,185.5 L220.5,184.0 L220.1,182.6 L219.8,181.2 L219.4,179.7 L219.0,178.0 L218.4,176.3 L217.8,174.6 L217.1,172.9 L216.3,171.1 L215.5,169.4" fill="none" stroke="#111" stroke-width="1.2" stroke-linejoin="round"/>
<circle cx="151.4" cy="297.9" r="1.2" fill="#111"/>
<circle cx="196.3" cy="276.1" r="1.2" fill="#111"/>
<circle cx="216.1" cy="254.3" r="1.2" fill="#111"/>
<circle cx="219.3" cy="232.4" r="1.2" fill="#111"/>
<circle cx="221.0" cy="210.5" r="1.2" fill="#111"/>
<circle cx="221.0" cy="188.7" r="1.2" fill="#111"/>
<g stroke="#7a7a7a" stroke-width="0.8" fill="none">
<path d="M252.9,167.2 V296.1 H333 M251.2,296.1 h3.4 M252.2,290.9 h1.4 M252.2,285.8 h1.4 M252.2,280.6 h1.4 M252.2,275.5 h1.4 M251.2,270.3 h3.4 M252.2,265.2 h1.4 M252.2,260.0 h1.4 M252.2,254.9 h1.4 M252.2,249.7 h1.4 M251.2,244.5 h3.4 M252.2,239.4 h1.4 M252.2,234.2 h1.4 M252.2,229.1 h1.4 M252.2,223.9 h1.4 M251.2,218.8 h3.4 M252.2,213.6 h1.4 M252.2,208.4 h1.4 M252.2,203.3 h1.4 M252.2,198.1 h1.4 M251.2,193.0 h3.4 M252.2,187.8 h1.4 M252.2,182.7 h1.4 M252.2,177.5 h1.4 M252.2,172.4 h1.4 M251.2,167.2 h3.4 M252.9,294.9 v2.4 M256.1,295.4 v1.4 M259.3,295.4 v1.4 M262.5,295.4 v1.4 M265.7,295.4 v1.4 M268.9,294.9 v2.4 M272.1,295.4 v1.4 M275.3,295.4 v1.4 M278.5,295.4 v1.4 M281.7,295.4 v1.4 M284.9,294.9 v2.4 M288.1,295.4 v1.4 M291.3,295.4 v1.4 M294.6,295.4 v1.4 M297.8,295.4 v1.4 M301.0,294.9 v2.4 M304.2,295.4 v1.4 M307.4,295.4 v1.4 M310.6,295.4 v1.4 M313.8,295.4 v1.4 M317.0,294.9 v2.4 M320.2,295.4 v1.4 M323.4,295.4 v1.4 M326.6,295.4 v1.4 M329.8,295.4 v1.4 M333.0,294.9 v2.4"/>
</g>
<g font-size="7.3" fill="#1a1a1a" stroke="#1a1a1a" stroke-width="0.12" text-anchor="end">
<text transform="translate(248.0,298.6) scale(0.89,1)">0.0</text>
<text transform="translate(248.0,272.8) scale(0.89,1)">0.5</text>
<text transform="translate(248.0,247.0) scale(0.89,1)">1.0</text>
<text transform="translate(248.0,221.3) scale(0.89,1)">1.5</text>
<text transform="translate(248.0,195.5) scale(0.89,1)">2.0</text>
<text transform="translate(248.0,169.7) scale(0.89,1)">2.5</text>
</g>
<g font-size="6.9" fill="#1a1a1a" stroke="#1a1a1a" stroke-width="0.12" text-anchor="middle">
<text transform="translate(253.2,307.5) scale(0.94,1)">0.00</text>
<text transform="translate(269.2,307.5) scale(0.94,1)">0.50</text>
<text transform="translate(285.2,307.5) scale(0.94,1)">1.00</text>
<text transform="translate(301.3,307.5) scale(0.94,1)">1.50</text>
<text transform="translate(317.3,307.5) scale(0.94,1)">2.00</text>
<text transform="translate(333.3,307.5) scale(0.94,1)">2.50</text>
</g>
<text transform="translate(282.8,321.2) scale(0.875,1)" font-size="7.2" font-weight="bold" fill="#111" text-anchor="middle">Velocity (m/s)</text>
<text transform="translate(235.2,228.2) rotate(-90) scale(1.22,1)" font-size="6.4" font-weight="bold" fill="#111" text-anchor="middle">Water Depth (cm)</text>
<line x1="266.5" y1="174.2" x2="276.9" y2="174.2" stroke="#111" stroke-width="0.9"/>
<circle cx="271.7" cy="174.2" r="1.15" fill="#111"/>
<text transform="translate(277.9,175.9) scale(0.92,1)" font-size="4.9" font-weight="bold" fill="#111">Column 3</text>
<path d="M252.9,296.1 L262.3,293.1 L271.0,290.3 L279.2,287.6 L286.8,285.1 L293.7,282.7 L300.1,280.4 L303.4,279.3 L306.6,278.3 L309.6,277.3 L312.4,276.3 L314.7,275.3 L316.5,274.2 L317.1,273.7 L317.6,273.2 L318.1,272.8 L318.5,272.3 L318.9,271.7 L319.2,271.2 L319.5,270.6 L319.8,270.0 L320.1,269.4 L320.4,268.8 L320.6,268.1 L320.7,267.5 L320.8,266.9 L320.9,266.3 L320.9,265.7 L321.0,265.1 L321.0,264.5 L321.0,263.9 L321.0,263.0 L321.0,262.1 L320.9,261.2 L320.8,260.2 L320.8,259.3 L320.7,258.3 L320.6,257.3 L320.5,256.4 L320.5,255.5 L320.4,254.5 L320.3,253.4 L320.3,252.3 L320.4,249.3 L320.6,245.9 L320.9,242.1 L321.2,238.1 L321.5,234.2 L321.8,230.4 L322.0,226.7 L322.2,223.1 L322.4,219.4 L322.5,215.8 L322.6,212.1 L322.7,208.4 L322.8,204.7 L322.9,200.8 L323.0,197.0 L323.0,193.2 L323.1,189.7 L323.1,186.5 L323.0,184.9 L322.8,183.3 L322.4,181.8 L322.0,180.4 L321.6,179.0 L321.1,177.5 L320.6,175.8 L319.9,174.1 L319.1,172.4 L318.2,170.6 L317.2,168.9 L316.2,167.2" fill="none" stroke="#111" stroke-width="1.2" stroke-linejoin="round"/>
<circle cx="252.9" cy="296.1" r="1.2" fill="#111"/>
<circle cx="316.5" cy="274.2" r="1.2" fill="#111"/>
<circle cx="320.3" cy="252.3" r="1.2" fill="#111"/>
<circle cx="321.8" cy="230.4" r="1.2" fill="#111"/>
<circle cx="322.7" cy="208.4" r="1.2" fill="#111"/>
<circle cx="323.1" cy="186.5" r="1.2" fill="#111"/>
<g stroke="#7a7a7a" stroke-width="0.8" fill="none">
<path d="M356.5,165.9 V295.5 H438.6 M354.8,295.5 h3.4 M355.8,290.3 h1.4 M355.8,285.1 h1.4 M355.8,279.9 h1.4 M355.8,274.8 h1.4 M354.8,269.6 h3.4 M355.8,264.4 h1.4 M355.8,259.2 h1.4 M355.8,254.0 h1.4 M355.8,248.8 h1.4 M354.8,243.7 h3.4 M355.8,238.5 h1.4 M355.8,233.3 h1.4 M355.8,228.1 h1.4 M355.8,222.9 h1.4 M354.8,217.7 h3.4 M355.8,212.6 h1.4 M355.8,207.4 h1.4 M355.8,202.2 h1.4 M355.8,197.0 h1.4 M354.8,191.8 h3.4 M355.8,186.6 h1.4 M355.8,181.5 h1.4 M355.8,176.3 h1.4 M355.8,171.1 h1.4 M354.8,165.9 h3.4 M356.3,294.3 v2.4 M359.6,294.8 v1.4 M362.9,294.8 v1.4 M366.2,294.8 v1.4 M369.5,294.8 v1.4 M372.8,294.3 v2.4 M376.1,294.8 v1.4 M379.3,294.8 v1.4 M382.6,294.8 v1.4 M385.9,294.8 v1.4 M389.2,294.3 v2.4 M392.5,294.8 v1.4 M395.8,294.8 v1.4 M399.1,294.8 v1.4 M402.4,294.8 v1.4 M405.7,294.3 v2.4 M409.0,294.8 v1.4 M412.3,294.8 v1.4 M415.6,294.8 v1.4 M418.8,294.8 v1.4 M422.1,294.3 v2.4 M425.4,294.8 v1.4 M428.7,294.8 v1.4 M432.0,294.8 v1.4 M435.3,294.8 v1.4 M438.6,294.3 v2.4"/>
</g>
<g font-size="7.3" fill="#1a1a1a" stroke="#1a1a1a" stroke-width="0.12" text-anchor="end">
<text transform="translate(351.6,298.0) scale(0.89,1)">0.0</text>
<text transform="translate(351.6,272.1) scale(0.89,1)">0.5</text>
<text transform="translate(351.6,246.2) scale(0.89,1)">1.0</text>
<text transform="translate(351.6,220.2) scale(0.89,1)">1.5</text>
<text transform="translate(351.6,194.3) scale(0.89,1)">2.0</text>
<text transform="translate(351.6,168.4) scale(0.89,1)">2.5</text>
</g>
<g font-size="6.9" fill="#1a1a1a" stroke="#1a1a1a" stroke-width="0.12" text-anchor="middle">
<text transform="translate(356.6,306.9) scale(0.94,1)">0.00</text>
<text transform="translate(373.1,306.9) scale(0.94,1)">0.50</text>
<text transform="translate(389.5,306.9) scale(0.94,1)">1.00</text>
<text transform="translate(406.0,306.9) scale(0.94,1)">1.50</text>
<text transform="translate(422.4,306.9) scale(0.94,1)">2.00</text>
<text transform="translate(438.9,306.9) scale(0.94,1)">2.50</text>
</g>
<text transform="translate(387.8,321.6) scale(0.875,1)" font-size="7.2" font-weight="bold" fill="#111" text-anchor="middle">Velocity (m/s)</text>
<text transform="translate(338.3,227.0) rotate(-90) scale(1.22,1)" font-size="6.4" font-weight="bold" fill="#111" text-anchor="middle">Water Depth (cm)</text>
<line x1="370.4" y1="172.8" x2="380.8" y2="172.8" stroke="#111" stroke-width="0.9"/>
<circle cx="375.6" cy="172.8" r="1.15" fill="#111"/>
<text transform="translate(381.8,174.5) scale(0.92,1)" font-size="4.9" font-weight="bold" fill="#111">Column 4</text>
<path d="M356.3,295.5 L363.9,292.5 L371.0,289.6 L377.8,286.9 L384.2,284.4 L390.2,282.0 L395.8,279.8 L399.0,278.7 L402.1,277.6 L405.1,276.7 L407.9,275.7 L410.4,274.6 L412.6,273.5 L413.8,272.7 L415.0,271.8 L416.0,270.9 L417.0,269.9 L417.8,268.9 L418.5,267.8 L419.1,266.8 L419.6,265.7 L420.1,264.5 L420.5,263.3 L420.8,262.1 L421.1,260.8 L421.4,259.3 L421.6,257.8 L421.8,256.2 L422.0,254.6 L422.3,253.0 L422.5,251.4 L422.8,250.0 L423.2,248.6 L423.5,247.3 L423.9,245.9 L424.2,244.4 L424.4,242.9 L424.7,240.9 L424.9,238.7 L425.0,236.5 L425.2,234.2 L425.3,231.8 L425.4,229.4 L425.6,226.0 L425.9,222.4 L426.1,218.7 L426.2,214.9 L426.4,211.1 L426.4,207.4 L426.4,203.6 L426.4,199.7 L426.4,195.8 L426.4,192.1 L426.4,188.5 L426.4,185.3 L426.4,183.7 L426.2,182.1 L425.9,180.6 L425.6,179.2 L425.3,177.8 L424.9,176.3 L424.5,174.6 L424.0,172.8 L423.4,171.1 L422.7,169.4 L422.0,167.6 L421.2,165.9" fill="none" stroke="#111" stroke-width="1.2" stroke-linejoin="round"/>
<circle cx="356.3" cy="295.5" r="1.2" fill="#111"/>
<circle cx="412.6" cy="273.5" r="1.2" fill="#111"/>
<circle cx="422.5" cy="251.4" r="1.2" fill="#111"/>
<circle cx="425.4" cy="229.4" r="1.2" fill="#111"/>
<circle cx="426.4" cy="207.4" r="1.2" fill="#111"/>
<circle cx="426.4" cy="185.3" r="1.2" fill="#111"/>
<g stroke="#7a7a7a" stroke-width="0.8" fill="none">
<path d="M458.3,165.4 V295.3 H540.2 M456.6,295.3 h3.4 M457.6,290.1 h1.4 M457.6,284.9 h1.4 M457.6,279.7 h1.4 M457.6,274.5 h1.4 M456.6,269.3 h3.4 M457.6,264.1 h1.4 M457.6,258.9 h1.4 M457.6,253.7 h1.4 M457.6,248.5 h1.4 M456.6,243.3 h3.4 M457.6,238.1 h1.4 M457.6,232.9 h1.4 M457.6,227.8 h1.4 M457.6,222.6 h1.4 M456.6,217.4 h3.4 M457.6,212.2 h1.4 M457.6,207.0 h1.4 M457.6,201.8 h1.4 M457.6,196.6 h1.4 M456.6,191.4 h3.4 M457.6,186.2 h1.4 M457.6,181.0 h1.4 M457.6,175.8 h1.4 M457.6,170.6 h1.4 M456.6,165.4 h3.4 M458.0,294.1 v2.4 M461.3,294.6 v1.4 M464.6,294.6 v1.4 M467.9,294.6 v1.4 M471.2,294.6 v1.4 M474.4,294.1 v2.4 M477.7,294.6 v1.4 M481.0,294.6 v1.4 M484.3,294.6 v1.4 M487.6,294.6 v1.4 M490.9,294.1 v2.4 M494.2,294.6 v1.4 M497.5,294.6 v1.4 M500.7,294.6 v1.4 M504.0,294.6 v1.4 M507.3,294.1 v2.4 M510.6,294.6 v1.4 M513.9,294.6 v1.4 M517.2,294.6 v1.4 M520.5,294.6 v1.4 M523.8,294.1 v2.4 M527.0,294.6 v1.4 M530.3,294.6 v1.4 M533.6,294.6 v1.4 M536.9,294.6 v1.4 M540.2,294.1 v2.4"/>
</g>
<g font-size="7.3" fill="#1a1a1a" stroke="#1a1a1a" stroke-width="0.12" text-anchor="end">
<text transform="translate(453.4,297.8) scale(0.89,1)">0.0</text>
<text transform="translate(453.4,271.8) scale(0.89,1)">0.5</text>
<text transform="translate(453.4,245.8) scale(0.89,1)">1.0</text>
<text transform="translate(453.4,219.9) scale(0.89,1)">1.5</text>
<text transform="translate(453.4,193.9) scale(0.89,1)">2.0</text>
<text transform="translate(453.4,167.9) scale(0.89,1)">2.5</text>
</g>
<g font-size="6.9" fill="#1a1a1a" stroke="#1a1a1a" stroke-width="0.12" text-anchor="middle">
<text transform="translate(458.3,306.7) scale(0.94,1)">0.00</text>
<text transform="translate(474.7,306.7) scale(0.94,1)">0.50</text>
<text transform="translate(491.2,306.7) scale(0.94,1)">1.00</text>
<text transform="translate(507.6,306.7) scale(0.94,1)">1.50</text>
<text transform="translate(524.1,306.7) scale(0.94,1)">2.00</text>
<text transform="translate(540.5,306.7) scale(0.94,1)">2.50</text>
</g>
<text transform="translate(493.9,321.4) scale(0.875,1)" font-size="7.2" font-weight="bold" fill="#111" text-anchor="middle">Velocity (m/s)</text>
<text transform="translate(438.3,225.6) rotate(-90) scale(1.22,1)" font-size="6.4" font-weight="bold" fill="#111" text-anchor="middle">Water Depth (cm)</text>
<line x1="470.6" y1="171.3" x2="480.8" y2="171.3" stroke="#111" stroke-width="0.9"/>
<circle cx="475.7" cy="171.3" r="1.15" fill="#111"/>
<text transform="translate(481.8,173.0) scale(0.92,1)" font-size="4.9" font-weight="bold" fill="#111">Column 5</text>
<path d="M458.0,295.3 L467.5,291.9 L476.3,288.7 L484.5,285.8 L491.9,283.1 L498.6,280.6 L504.7,278.3 L507.4,277.3 L509.9,276.5 L512.3,275.6 L514.4,274.8 L516.4,274.0 L518.2,273.1 L519.1,272.6 L519.9,272.1 L520.7,271.6 L521.4,271.0 L522.1,270.4 L522.6,269.8 L523.0,269.1 L523.4,268.3 L523.7,267.5 L524.1,266.6 L524.3,265.7 L524.5,264.8 L524.8,263.8 L525.0,262.9 L525.1,261.9 L525.3,260.9 L525.4,259.9 L525.5,258.8 L525.7,257.6 L525.7,256.4 L525.8,255.1 L525.9,253.8 L526.0,252.6 L526.1,251.3 L526.3,249.9 L526.5,248.6 L526.8,247.2 L527.1,245.8 L527.3,244.4 L527.5,242.9 L527.8,240.8 L528.0,238.6 L528.2,236.3 L528.4,234.0 L528.6,231.5 L528.7,229.1 L528.8,225.6 L529.0,222.0 L529.1,218.3 L529.2,214.5 L529.3,210.7 L529.3,207.0 L529.4,203.2 L529.5,199.3 L529.6,195.4 L529.6,191.6 L529.7,188.1 L529.7,184.9 L529.6,183.2 L529.3,181.6 L528.9,180.1 L528.4,178.7 L527.8,177.3 L527.3,175.8 L526.6,174.0 L525.7,172.3 L524.7,170.6 L523.6,168.8 L522.4,167.1 L521.1,165.4" fill="none" stroke="#111" stroke-width="1.2" stroke-linejoin="round"/>
<circle cx="458.0" cy="295.3" r="1.2" fill="#111"/>
<circle cx="518.2" cy="273.1" r="1.2" fill="#111"/>
<circle cx="526.1" cy="251.3" r="1.2" fill="#111"/>
<circle cx="528.7" cy="229.1" r="1.2" fill="#111"/>
<circle cx="529.3" cy="207.0" r="1.2" fill="#111"/>
<circle cx="529.7" cy="184.9" r="1.2" fill="#111"/>
</svg></body></html>
